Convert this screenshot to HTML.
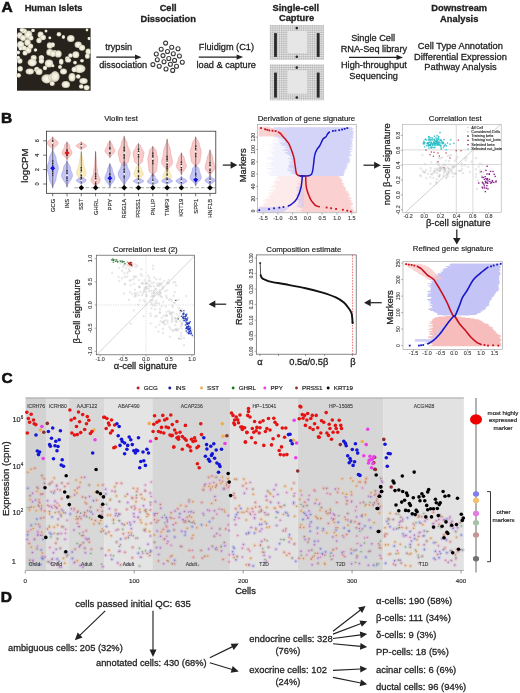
<!DOCTYPE html>
<html><head><meta charset="utf-8"><title>Figure</title>
<style>
html,body{margin:0;padding:0;background:#fff;}
body{width:520px;height:693px;overflow:hidden;}
svg{display:block;}
svg text{font-family:'Liberation Sans', 'DejaVu Sans', sans-serif;}
</style></head><body>
<svg width="520" height="693" viewBox="0 0 520 693">
<rect width="520" height="693" fill="#fff"/>
<text x="1.4" y="12.4" font-size="15.5" text-anchor="start" font-weight="bold" fill="#111" stroke="#111" stroke-width="0.6">A</text>
<text x="53.6" y="10.6" font-size="9.3" text-anchor="middle" font-weight="bold" fill="#222" stroke="#222" stroke-width="0.3">Human Islets</text>
<text x="168.2" y="10.6" font-size="9.3" text-anchor="middle" font-weight="bold" fill="#222" stroke="#222" stroke-width="0.3">Cell</text>
<text x="168.2" y="21.7" font-size="9.3" text-anchor="middle" font-weight="bold" fill="#222" stroke="#222" stroke-width="0.3">Dissociation</text>
<text x="295.8" y="10.8" font-size="9.3" text-anchor="middle" font-weight="bold" fill="#222" stroke="#222" stroke-width="0.3">Single-cell</text>
<text x="296.5" y="21" font-size="9.3" text-anchor="middle" font-weight="bold" fill="#222" stroke="#222" stroke-width="0.3">Capture</text>
<text x="459.2" y="10.6" font-size="9.3" text-anchor="middle" font-weight="bold" fill="#222" stroke="#222" stroke-width="0.3">Downstream</text>
<text x="459.2" y="21.8" font-size="9.3" text-anchor="middle" font-weight="bold" fill="#222" stroke="#222" stroke-width="0.3">Analysis</text>
<g>
<rect x="17" y="28.2" width="73.6" height="62.5" fill="#27221b"/>
<defs><radialGradient id="bg1"><stop offset="0" stop-color="#fbfaf0"/><stop offset="0.65" stop-color="#ebe8d6"/><stop offset="1" stop-color="#c4c0ac"/></radialGradient><filter id="bl1" x="-10%" y="-10%" width="120%" height="120%"><feGaussianBlur stdDeviation="0.65"/></filter></defs>
<g fill="url(#bg1)" filter="url(#bl1)">
<ellipse cx="19.8" cy="35.5" rx="2.8" ry="3.2"/>
<ellipse cx="28.3" cy="34.7" rx="4" ry="4.2"/>
<ellipse cx="24" cy="31" rx="3" ry="2.5"/>
<ellipse cx="20.6" cy="44.7" rx="3.6" ry="3.8"/>
<ellipse cx="27.5" cy="42.4" rx="3.2" ry="3.4"/>
<ellipse cx="28.3" cy="50" rx="3.2" ry="3.4"/>
<ellipse cx="30.6" cy="46.2" rx="2.6" ry="2.6"/>
<ellipse cx="24" cy="48" rx="2.5" ry="2.5"/>
<ellipse cx="40.6" cy="34.7" rx="3" ry="3.2"/>
<ellipse cx="43" cy="37.5" rx="3" ry="2.8"/>
<ellipse cx="39" cy="40.5" rx="2.7" ry="2.7"/>
<ellipse cx="49.8" cy="37.8" rx="1.5" ry="1.5"/>
<ellipse cx="49.8" cy="45.5" rx="3" ry="3.2"/>
<ellipse cx="49.8" cy="52.4" rx="3.5" ry="3.3"/>
<ellipse cx="54.5" cy="52.4" rx="2.5" ry="2.5"/>
<ellipse cx="33.7" cy="57.8" rx="3" ry="2.8"/>
<ellipse cx="41.4" cy="57.8" rx="2.7" ry="2.7"/>
<ellipse cx="18.3" cy="52.4" rx="1.8" ry="2"/>
<ellipse cx="20.6" cy="48.5" rx="2" ry="2"/>
<ellipse cx="18.3" cy="57.8" rx="1.8" ry="2"/>
<ellipse cx="58.9" cy="34.3" rx="2.3" ry="2.3"/>
<ellipse cx="63.4" cy="37" rx="1.7" ry="1.9"/>
<ellipse cx="70.8" cy="38.5" rx="3.8" ry="3.5"/>
<ellipse cx="78.2" cy="44.7" rx="3.6" ry="3.2"/>
<ellipse cx="82" cy="47.8" rx="3.2" ry="3"/>
<ellipse cx="88.2" cy="51.6" rx="2.7" ry="3.2"/>
<ellipse cx="89" cy="38.5" rx="1.5" ry="1.7"/>
<ellipse cx="87" cy="30" rx="1.4" ry="1.4"/>
<ellipse cx="58.2" cy="53.9" rx="3.5" ry="3.6"/>
<ellipse cx="52.8" cy="53.9" rx="3" ry="3"/>
<ellipse cx="52.8" cy="44.7" rx="2.2" ry="2.5"/>
<ellipse cx="75.8" cy="54.7" rx="3.5" ry="3.4"/>
<ellipse cx="70.5" cy="55.5" rx="2.3" ry="2.3"/>
<ellipse cx="67.4" cy="58.5" rx="2.4" ry="2.2"/>
<ellipse cx="87.4" cy="56.2" rx="2.4" ry="2.6"/>
<ellipse cx="19.8" cy="61" rx="2.7" ry="2.7"/>
<ellipse cx="20.2" cy="68.8" rx="2.7" ry="2.8"/>
<ellipse cx="18.7" cy="75.3" rx="2.3" ry="2.4"/>
<ellipse cx="32.2" cy="62.6" rx="4.6" ry="3.9"/>
<ellipse cx="29.8" cy="71.5" rx="4.2" ry="3"/>
<ellipse cx="36.8" cy="69.5" rx="2.7" ry="2.7"/>
<ellipse cx="39" cy="71.8" rx="3.5" ry="3.2"/>
<ellipse cx="41.4" cy="61" rx="2.7" ry="2.7"/>
<ellipse cx="49" cy="63.4" rx="4.2" ry="4"/>
<ellipse cx="46.8" cy="78.8" rx="5.4" ry="4.6"/>
<ellipse cx="52.2" cy="77.2" rx="3.8" ry="3.8"/>
<ellipse cx="52.2" cy="83.4" rx="2.5" ry="2.5"/>
<ellipse cx="61.2" cy="61.8" rx="2.3" ry="3"/>
<ellipse cx="68.2" cy="60.3" rx="3" ry="2.3"/>
<ellipse cx="75" cy="62.6" rx="1.9" ry="1.9"/>
<ellipse cx="82" cy="60.7" rx="2" ry="1.8"/>
<ellipse cx="63.5" cy="71.5" rx="3.5" ry="3"/>
<ellipse cx="79.7" cy="68.8" rx="5.8" ry="4.2"/>
<ellipse cx="74.3" cy="69.5" rx="2.7" ry="2.7"/>
<ellipse cx="55" cy="76.5" rx="4.6" ry="5.4"/>
<ellipse cx="72" cy="77.2" rx="3.5" ry="4.2"/>
<ellipse cx="78.2" cy="76.5" rx="2.3" ry="2.3"/>
<ellipse cx="83.5" cy="81" rx="4.2" ry="3"/>
<ellipse cx="65.8" cy="84.5" rx="4.2" ry="3.5"/>
<ellipse cx="86.6" cy="87.6" rx="3" ry="2.7"/>
<ellipse cx="81.2" cy="86.5" rx="2.3" ry="2.3"/>
<ellipse cx="52.8" cy="65.7" rx="1.6" ry="1.6"/>
<ellipse cx="33" cy="30.5" rx="2" ry="1.8"/>
<ellipse cx="46" cy="31" rx="1.5" ry="1.5"/>
<ellipse cx="35.5" cy="50" rx="1.8" ry="1.8"/>
<ellipse cx="23" cy="38" rx="3" ry="3"/>
<ellipse cx="25" cy="53" rx="2.5" ry="2.5"/>
<ellipse cx="31" cy="38" rx="2.5" ry="2.5"/>
<ellipse cx="22" cy="30" rx="2.5" ry="2"/>
<ellipse cx="45" cy="68" rx="2.2" ry="2.2"/>
<ellipse cx="60" cy="67" rx="2" ry="2"/>
</g>
</g>
<text x="118.7" y="50.2" font-size="9.2" text-anchor="middle" fill="#222" stroke="#222" stroke-width="0.28">trypsin</text>
<line x1="96.3" y1="57.2" x2="135.5" y2="57.2" stroke="#222" stroke-width="1.3"/>
<polygon points="141.5,57.2 135,59.8 135,54.6" fill="#222"/>
<text x="123.2" y="68" font-size="9.2" text-anchor="middle" fill="#222" stroke="#222" stroke-width="0.28">dissociation</text>
<g fill="#fff" stroke="#3a3a3a" stroke-width="1.1">
<circle cx="165.6" cy="43.1" r="2.0"/>
<circle cx="161.2" cy="49.2" r="2.0"/>
<circle cx="171.7" cy="47.3" r="2.0"/>
<circle cx="178" cy="48.8" r="2.0"/>
<circle cx="156.3" cy="54" r="2.0"/>
<circle cx="167.5" cy="51.5" r="2.0"/>
<circle cx="163" cy="55.6" r="2.0"/>
<circle cx="173.3" cy="53.7" r="2.0"/>
<circle cx="179.4" cy="56" r="2.0"/>
<circle cx="157.3" cy="59.8" r="2.0"/>
<circle cx="168.8" cy="58.5" r="2.0"/>
<circle cx="164" cy="61.7" r="2.0"/>
<circle cx="174.6" cy="60.4" r="2.0"/>
<circle cx="182.3" cy="62.3" r="2.0"/>
<circle cx="152.9" cy="64.6" r="2.0"/>
<circle cx="159.2" cy="66.2" r="2.0"/>
<circle cx="170.4" cy="64.2" r="2.0"/>
<circle cx="176.5" cy="66.2" r="2.0"/>
<circle cx="166" cy="69" r="2.0"/>
<circle cx="172.7" cy="70.4" r="2.0"/>
</g>
<text x="226.4" y="49.8" font-size="9.2" text-anchor="middle" fill="#222" stroke="#222" stroke-width="0.28">Fluidigm (C1)</text>
<line x1="198.7" y1="57.1" x2="237.1" y2="57.1" stroke="#222" stroke-width="1.3"/>
<polygon points="243.1,57.1 236.6,59.7 236.6,54.5" fill="#222"/>
<text x="226.2" y="67.6" font-size="9.2" text-anchor="middle" fill="#222" stroke="#222" stroke-width="0.28">load &amp; capture</text>
<g>
<rect x="269.8" y="25" width="54.2" height="34.8" fill="#eaeaea"/>
<path d="M270.6 25V59.8M272.8 25V59.8M275 25V59.8M277.2 25V59.8M279.4 25V59.8M281.6 25V59.8M283.8 25V59.8M286 25V59.8M288.2 25V59.8M290.4 25V59.8M292.6 25V59.8M294.8 25V59.8M297 25V59.8M299.2 25V59.8M301.4 25V59.8M303.6 25V59.8M305.8 25V59.8M308 25V59.8M310.2 25V59.8M312.4 25V59.8M314.6 25V59.8M316.8 25V59.8M319 25V59.8M321.2 25V59.8M323.4 25V59.8M269.8 25.8H324M269.8 28H324M269.8 30.2H324M269.8 32.4H324M269.8 34.6H324M269.8 36.8H324M269.8 39H324M269.8 41.2H324M269.8 43.4H324M269.8 45.6H324M269.8 47.8H324M269.8 50H324M269.8 52.2H324M269.8 54.4H324M269.8 56.6H324M269.8 58.8H324" stroke="#a0a0a0" stroke-width="0.45" fill="none"/>
<rect x="287.5" y="30.9" width="19.5" height="22.1" fill="#e6e6e6"/>
<rect x="274.1" y="33.1" width="2.8" height="23.8" fill="#2a2a2a"/>
<rect x="316.8" y="33.1" width="2.8" height="23.8" fill="#2a2a2a"/>
<circle cx="296.8" cy="28.1" r="1.3" fill="#222"/>
<circle cx="296.8" cy="56.8" r="1.3" fill="#222"/>
</g>
<g>
<rect x="269.8" y="64.5" width="54.2" height="36" fill="#eaeaea"/>
<path d="M270.6 64.5V100.5M272.8 64.5V100.5M275 64.5V100.5M277.2 64.5V100.5M279.4 64.5V100.5M281.6 64.5V100.5M283.8 64.5V100.5M286 64.5V100.5M288.2 64.5V100.5M290.4 64.5V100.5M292.6 64.5V100.5M294.8 64.5V100.5M297 64.5V100.5M299.2 64.5V100.5M301.4 64.5V100.5M303.6 64.5V100.5M305.8 64.5V100.5M308 64.5V100.5M310.2 64.5V100.5M312.4 64.5V100.5M314.6 64.5V100.5M316.8 64.5V100.5M319 64.5V100.5M321.2 64.5V100.5M323.4 64.5V100.5M269.8 65.3H324M269.8 67.5H324M269.8 69.7H324M269.8 71.9H324M269.8 74.1H324M269.8 76.3H324M269.8 78.5H324M269.8 80.7H324M269.8 82.9H324M269.8 85.1H324M269.8 87.3H324M269.8 89.5H324M269.8 91.7H324M269.8 93.9H324M269.8 96.1H324M269.8 98.3H324" stroke="#a0a0a0" stroke-width="0.45" fill="none"/>
<rect x="287.5" y="70.4" width="19.5" height="23.3" fill="#e6e6e6"/>
<rect x="274.1" y="72.6" width="2.8" height="25" fill="#2a2a2a"/>
<rect x="316.8" y="72.6" width="2.8" height="25" fill="#2a2a2a"/>
<circle cx="296.8" cy="67.6" r="1.3" fill="#222"/>
<circle cx="296.8" cy="97.5" r="1.3" fill="#222"/>
</g>
<text x="373.1" y="41" font-size="9.2" text-anchor="middle" fill="#222" stroke="#222" stroke-width="0.28">Single Cell</text>
<text x="373.9" y="52.2" font-size="9.2" text-anchor="middle" fill="#222" stroke="#222" stroke-width="0.28">RNA-Seq library</text>
<line x1="349" y1="57.4" x2="397" y2="57.4" stroke="#222" stroke-width="1.3"/>
<polygon points="403,57.4 396.5,60 396.5,54.8" fill="#222"/>
<text x="373.9" y="68" font-size="9.2" text-anchor="middle" fill="#222" stroke="#222" stroke-width="0.28">High-throughput</text>
<text x="373.6" y="79" font-size="9.2" text-anchor="middle" fill="#222" stroke="#222" stroke-width="0.28">Sequencing</text>
<text x="460.4" y="48.7" font-size="9.3" text-anchor="middle" fill="#222" stroke="#222" stroke-width="0.28">Cell Type Annotation</text>
<text x="460.4" y="59.9" font-size="9.3" text-anchor="middle" fill="#222" stroke="#222" stroke-width="0.28">Differential Expression</text>
<text x="460.5" y="70.4" font-size="9.3" text-anchor="middle" fill="#222" stroke="#222" stroke-width="0.28">Pathway Analysis</text>
<text x="1" y="123.3" font-size="15.5" text-anchor="start" font-weight="bold" fill="#111" stroke="#111" stroke-width="0.6">B</text>
<text x="121.1" y="121" font-size="7.8" text-anchor="middle" fill="#222" stroke="#222" stroke-width="0.18">Violin test</text>
<line x1="74.5" y1="187.74" x2="215.8" y2="187.74" stroke="#a8a8a0" stroke-width="1" stroke-dasharray="3.5,2"/>
<polygon points="52.7,188.32 52.76,187.48 52.93,186.64 53.21,185.8 53.58,184.96 54,184.12 54.45,183.28 54.9,182.44 55.33,181.6 55.69,180.76 55.97,179.92 56.14,179.08 56.2,178.24 56.24,177.4 56.34,176.56 56.51,175.72 56.73,174.88 56.98,174.04 57.25,173.2 57.52,172.36 57.78,171.52 57.99,170.68 58.16,169.84 58.26,169 58.3,168.16 58.26,167.38 58.16,166.6 57.99,165.82 57.78,165.04 57.52,164.26 57.25,163.48 56.98,162.7 56.73,161.92 56.51,161.14 56.34,160.36 56.24,159.58 56.2,158.8 56.14,157.96 55.97,157.12 55.69,156.28 55.33,155.44 54.9,154.6 54.45,153.76 54,152.92 53.58,152.08 53.21,151.24 52.93,150.4 52.76,149.56 52.7,148.72 52.7,148.72 52.64,149.56 52.47,150.4 52.19,151.24 51.83,152.08 51.4,152.92 50.95,153.76 50.5,154.6 50.08,155.44 49.71,156.28 49.43,157.12 49.26,157.96 49.2,158.8 49.16,159.58 49.06,160.36 48.89,161.14 48.68,161.92 48.42,162.7 48.15,163.48 47.88,164.26 47.62,165.04 47.41,165.82 47.24,166.6 47.14,167.38 47.1,168.16 47.14,169 47.24,169.84 47.41,170.68 47.62,171.52 47.88,172.36 48.15,173.2 48.42,174.04 48.68,174.88 48.89,175.72 49.06,176.56 49.16,177.4 49.2,178.24 49.26,179.08 49.43,179.92 49.71,180.76 50.08,181.6 50.5,182.44 50.95,183.28 51.4,184.12 51.83,184.96 52.19,185.8 52.47,186.64 52.64,187.48 52.7,188.32" fill="rgba(160,160,240,0.62)" stroke="rgba(90,90,210,0.55)" stroke-width="0.5"/>
<polygon points="52.7,150.16 52.79,149.56 53.07,148.96 53.51,148.36 54.08,147.76 54.74,147.16 55.45,146.56 56.16,145.96 56.83,145.36 57.39,144.76 57.83,144.16 58.11,143.56 58.2,142.96 58.11,142.42 57.83,141.88 57.39,141.34 56.83,140.8 56.16,140.26 55.45,139.72 54.74,139.18 54.08,138.64 53.51,138.1 53.07,137.56 52.79,137.02 52.7,136.48 52.7,136.48 52.61,137.02 52.33,137.56 51.89,138.1 51.33,138.64 50.66,139.18 49.95,139.72 49.24,140.26 48.58,140.8 48.01,141.34 47.57,141.88 47.29,142.42 47.2,142.96 47.29,143.56 47.57,144.16 48.01,144.76 48.58,145.36 49.24,145.96 49.95,146.56 50.66,147.16 51.33,147.76 51.89,148.36 52.33,148.96 52.61,149.56 52.7,150.16" fill="rgba(244,170,170,0.62)" stroke="rgba(215,95,95,0.55)" stroke-width="0.5"/>
<line x1="52.7" y1="149.44" x2="52.7" y2="187.6" stroke="#333" stroke-width="0.6"/>
<line x1="52.7" y1="160.24" x2="52.7" y2="176.08" stroke="#2a2a2a" stroke-width="1.4" stroke-dasharray="1.6,0.9"/>
<circle cx="52.7" cy="168.16" r="1" fill="#fff"/>
<line x1="52.7" y1="137.2" x2="52.7" y2="149.44" stroke="#333" stroke-width="0.6"/>
<line x1="52.7" y1="140.22" x2="52.7" y2="145.7" stroke="#2a2a2a" stroke-width="1.4" stroke-dasharray="1.6,0.9"/>
<circle cx="52.7" cy="142.96" r="1" fill="#fff"/>
<polygon points="67,187.6 67.09,186.58 67.37,185.56 67.81,184.54 68.38,183.52 69.04,182.5 69.75,181.48 70.46,180.46 71.12,179.44 71.69,178.42 72.13,177.4 72.41,176.38 72.5,175.36 72.47,174.76 72.37,174.16 72.21,173.56 72,172.96 71.76,172.36 71.5,171.76 71.24,171.16 71,170.56 70.79,169.96 70.63,169.36 70.53,168.76 70.5,168.16 70.44,167.5 70.27,166.84 69.99,166.18 69.62,165.52 69.2,164.86 68.75,164.2 68.3,163.54 67.88,162.88 67.51,162.22 67.23,161.56 67.06,160.9 67,160.24 67,160.24 66.94,160.9 66.77,161.56 66.49,162.22 66.12,162.88 65.7,163.54 65.25,164.2 64.8,164.86 64.38,165.52 64.01,166.18 63.73,166.84 63.56,167.5 63.5,168.16 63.47,168.76 63.37,169.36 63.21,169.96 63,170.56 62.76,171.16 62.5,171.76 62.24,172.36 62,172.96 61.79,173.56 61.63,174.16 61.53,174.76 61.5,175.36 61.59,176.38 61.87,177.4 62.31,178.42 62.88,179.44 63.54,180.46 64.25,181.48 64.96,182.5 65.62,183.52 66.19,184.54 66.63,185.56 66.91,186.58 67,187.6" fill="rgba(160,160,240,0.62)" stroke="rgba(90,90,210,0.55)" stroke-width="0.5"/>
<polygon points="67,160.24 67.09,159.64 67.33,159.04 67.73,158.44 68.25,157.84 68.85,157.24 69.5,156.64 70.15,156.04 70.75,155.44 71.27,154.84 71.67,154.24 71.91,153.64 72,153.04 71.96,152.44 71.83,151.84 71.63,151.24 71.38,150.64 71.07,150.04 70.75,149.44 70.43,148.84 70.12,148.24 69.87,147.64 69.67,147.04 69.54,146.44 69.5,145.84 69.46,145.48 69.33,145.12 69.13,144.76 68.88,144.4 68.57,144.04 68.25,143.68 67.93,143.32 67.62,142.96 67.37,142.6 67.17,142.24 67.04,141.88 67,141.52 67,141.52 66.96,141.88 66.83,142.24 66.63,142.6 66.38,142.96 66.07,143.32 65.75,143.68 65.43,144.04 65.12,144.4 64.87,144.76 64.67,145.12 64.54,145.48 64.5,145.84 64.46,146.44 64.33,147.04 64.13,147.64 63.88,148.24 63.57,148.84 63.25,149.44 62.93,150.04 62.62,150.64 62.37,151.24 62.17,151.84 62.04,152.44 62,153.04 62.09,153.64 62.33,154.24 62.73,154.84 63.25,155.44 63.85,156.04 64.5,156.64 65.15,157.24 65.75,157.84 66.27,158.44 66.67,159.04 66.91,159.64 67,160.24" fill="rgba(244,170,170,0.62)" stroke="rgba(215,95,95,0.55)" stroke-width="0.5"/>
<line x1="67" y1="160.96" x2="67" y2="186.88" stroke="#333" stroke-width="0.6"/>
<line x1="67" y1="169.89" x2="67" y2="180.83" stroke="#2a2a2a" stroke-width="1.4" stroke-dasharray="1.6,0.9"/>
<circle cx="67" cy="175.36" r="1" fill="#fff"/>
<line x1="67" y1="142.24" x2="67" y2="159.52" stroke="#333" stroke-width="0.6"/>
<line x1="67" y1="149.3" x2="67" y2="156.78" stroke="#2a2a2a" stroke-width="1.4" stroke-dasharray="1.6,0.9"/>
<circle cx="67" cy="153.04" r="1" fill="#fff"/>
<polygon points="81.3,181.84 81.38,181.12 81.62,180.4 82,179.68 82.5,178.96 83.08,178.24 83.7,177.52 84.32,176.8 84.9,176.08 85.4,175.36 85.78,174.64 86.02,173.92 86.1,173.2 86.05,172.3 85.91,171.4 85.69,170.5 85.4,169.6 85.06,168.7 84.7,167.8 84.34,166.9 84,166 83.71,165.1 83.49,164.2 83.35,163.3 83.3,162.4 83.27,161.44 83.17,160.48 83.01,159.52 82.8,158.56 82.56,157.6 82.3,156.64 82.04,155.68 81.8,154.72 81.59,153.76 81.43,152.8 81.33,151.84 81.3,150.88 81.3,150.88 81.27,151.84 81.17,152.8 81.01,153.76 80.8,154.72 80.56,155.68 80.3,156.64 80.04,157.6 79.8,158.56 79.59,159.52 79.43,160.48 79.33,161.44 79.3,162.4 79.25,163.3 79.11,164.2 78.89,165.1 78.6,166 78.26,166.9 77.9,167.8 77.54,168.7 77.2,169.6 76.91,170.5 76.69,171.4 76.55,172.3 76.5,173.2 76.58,173.92 76.82,174.64 77.2,175.36 77.7,176.08 78.28,176.8 78.9,177.52 79.52,178.24 80.1,178.96 80.6,179.68 80.98,180.4 81.22,181.12 81.3,181.84" fill="rgba(248,228,165,0.75)" stroke="rgba(225,195,110,0.6)" stroke-width="0.5"/>
<polygon points="81.3,184.72 81.39,184.36 81.63,184 82.03,183.64 82.55,183.28 83.15,182.92 83.8,182.56 84.45,182.2 85.05,181.84 85.57,181.48 85.97,181.12 86.21,180.76 86.3,180.4 86.21,180.04 85.97,179.68 85.57,179.32 85.05,178.96 84.45,178.6 83.8,178.24 83.15,177.88 82.55,177.52 82.03,177.16 81.63,176.8 81.39,176.44 81.3,176.08 81.3,176.08 81.21,176.44 80.97,176.8 80.57,177.16 80.05,177.52 79.45,177.88 78.8,178.24 78.15,178.6 77.55,178.96 77.03,179.32 76.63,179.68 76.39,180.04 76.3,180.4 76.39,180.76 76.63,181.12 77.03,181.48 77.55,181.84 78.15,182.2 78.8,182.56 79.45,182.92 80.05,183.28 80.57,183.64 80.97,184 81.21,184.36 81.3,184.72" fill="rgba(160,160,240,0.62)" stroke="rgba(90,90,210,0.55)" stroke-width="0.5"/>
<polygon points="81.3,150.16 81.39,149.8 81.65,149.44 82.06,149.08 82.6,148.72 83.23,148.36 83.9,148 84.57,147.64 85.2,147.28 85.74,146.92 86.15,146.56 86.41,146.2 86.5,145.84 86.41,145.48 86.15,145.12 85.74,144.76 85.2,144.4 84.57,144.04 83.9,143.68 83.23,143.32 82.6,142.96 82.06,142.6 81.65,142.24 81.39,141.88 81.3,141.52 81.3,141.52 81.21,141.88 80.95,142.24 80.54,142.6 80,142.96 79.37,143.32 78.7,143.68 78.03,144.04 77.4,144.4 76.86,144.76 76.45,145.12 76.19,145.48 76.1,145.84 76.19,146.2 76.45,146.56 76.86,146.92 77.4,147.28 78.03,147.64 78.7,148 79.37,148.36 80,148.72 80.54,149.08 80.95,149.44 81.21,149.8 81.3,150.16" fill="rgba(244,170,170,0.62)" stroke="rgba(215,95,95,0.55)" stroke-width="0.5"/>
<line x1="81.3" y1="151.6" x2="81.3" y2="181.12" stroke="#333" stroke-width="0.6"/>
<line x1="81.3" y1="167.01" x2="81.3" y2="179.39" stroke="#2a2a2a" stroke-width="1.4" stroke-dasharray="1.6,0.9"/>
<circle cx="81.3" cy="173.2" r="1" fill="#fff"/>
<line x1="81.3" y1="176.8" x2="81.3" y2="184" stroke="#333" stroke-width="0.6"/>
<line x1="81.3" y1="178.67" x2="81.3" y2="182.13" stroke="#2a2a2a" stroke-width="1.4" stroke-dasharray="1.6,0.9"/>
<circle cx="81.3" cy="180.4" r="1" fill="#fff"/>
<line x1="81.3" y1="142.24" x2="81.3" y2="149.44" stroke="#333" stroke-width="0.6"/>
<line x1="81.3" y1="144.11" x2="81.3" y2="147.57" stroke="#2a2a2a" stroke-width="1.4" stroke-dasharray="1.6,0.9"/>
<circle cx="81.3" cy="145.84" r="1" fill="#fff"/>
<polygon points="95.6,187.6 95.68,187 95.91,186.4 96.27,185.8 96.75,185.2 97.3,184.6 97.9,184 98.5,183.4 99.05,182.8 99.53,182.2 99.89,181.6 100.12,181 100.2,180.4 100.16,179.74 100.03,179.08 99.82,178.42 99.55,177.76 99.24,177.1 98.9,176.44 98.56,175.78 98.25,175.12 97.98,174.46 97.77,173.8 97.64,173.14 97.6,172.48 97.58,171.64 97.52,170.8 97.42,169.96 97.3,169.12 97.16,168.28 97,167.44 96.84,166.6 96.7,165.76 96.58,164.92 96.48,164.08 96.42,163.24 96.4,162.4 96.39,161.44 96.35,160.48 96.28,159.52 96.2,158.56 96.1,157.6 96,156.64 95.9,155.68 95.8,154.72 95.72,153.76 95.65,152.8 95.61,151.84 95.6,150.88 95.6,150.88 95.59,151.84 95.55,152.8 95.48,153.76 95.4,154.72 95.3,155.68 95.2,156.64 95.1,157.6 95,158.56 94.92,159.52 94.85,160.48 94.81,161.44 94.8,162.4 94.78,163.24 94.72,164.08 94.62,164.92 94.5,165.76 94.36,166.6 94.2,167.44 94.04,168.28 93.9,169.12 93.78,169.96 93.68,170.8 93.62,171.64 93.6,172.48 93.56,173.14 93.43,173.8 93.22,174.46 92.95,175.12 92.64,175.78 92.3,176.44 91.96,177.1 91.65,177.76 91.38,178.42 91.17,179.08 91.04,179.74 91,180.4 91.08,181 91.31,181.6 91.67,182.2 92.15,182.8 92.7,183.4 93.3,184 93.9,184.6 94.45,185.2 94.93,185.8 95.29,186.4 95.52,187 95.6,187.6" fill="rgba(244,170,170,0.62)" stroke="rgba(215,95,95,0.55)" stroke-width="0.5"/>
<line x1="95.6" y1="151.6" x2="95.6" y2="186.88" stroke="#333" stroke-width="0.6"/>
<line x1="95.6" y1="173.06" x2="95.6" y2="187.74" stroke="#2a2a2a" stroke-width="1.4" stroke-dasharray="1.6,0.9"/>
<circle cx="95.6" cy="180.4" r="1" fill="#fff"/>
<polygon points="109.9,187.6 109.99,186.82 110.23,186.04 110.63,185.26 111.15,184.48 111.75,183.7 112.4,182.92 113.05,182.14 113.65,181.36 114.17,180.58 114.57,179.8 114.81,179.02 114.9,178.24 114.86,177.52 114.73,176.8 114.53,176.08 114.28,175.36 113.97,174.64 113.65,173.92 113.33,173.2 113.03,172.48 112.77,171.76 112.57,171.04 112.44,170.32 112.4,169.6 112.36,169.06 112.23,168.52 112.03,167.98 111.78,167.44 111.47,166.9 111.15,166.36 110.83,165.82 110.53,165.28 110.27,164.74 110.07,164.2 109.94,163.66 109.9,163.12 109.9,163.12 109.86,163.66 109.73,164.2 109.53,164.74 109.28,165.28 108.97,165.82 108.65,166.36 108.33,166.9 108.03,167.44 107.77,167.98 107.57,168.52 107.44,169.06 107.4,169.6 107.36,170.32 107.23,171.04 107.03,171.76 106.78,172.48 106.47,173.2 106.15,173.92 105.83,174.64 105.53,175.36 105.27,176.08 105.07,176.8 104.94,177.52 104.9,178.24 104.99,179.02 105.23,179.8 105.63,180.58 106.15,181.36 106.75,182.14 107.4,182.92 108.05,183.7 108.65,184.48 109.17,185.26 109.57,186.04 109.81,186.82 109.9,187.6" fill="rgba(160,160,240,0.62)" stroke="rgba(90,90,210,0.55)" stroke-width="0.5"/>
<polygon points="109.9,158.08 109.99,157.48 110.23,156.88 110.63,156.28 111.15,155.68 111.75,155.08 112.4,154.48 113.05,153.88 113.65,153.28 114.17,152.68 114.57,152.08 114.81,151.48 114.9,150.88 114.86,150.4 114.73,149.92 114.53,149.44 114.28,148.96 113.97,148.48 113.65,148 113.33,147.52 113.03,147.04 112.77,146.56 112.57,146.08 112.44,145.6 112.4,145.12 112.36,144.7 112.23,144.28 112.03,143.86 111.78,143.44 111.47,143.02 111.15,142.6 110.83,142.18 110.53,141.76 110.27,141.34 110.07,140.92 109.94,140.5 109.9,140.08 109.9,140.08 109.86,140.5 109.73,140.92 109.53,141.34 109.28,141.76 108.97,142.18 108.65,142.6 108.33,143.02 108.03,143.44 107.77,143.86 107.57,144.28 107.44,144.7 107.4,145.12 107.36,145.6 107.23,146.08 107.03,146.56 106.78,147.04 106.47,147.52 106.15,148 105.83,148.48 105.53,148.96 105.27,149.44 105.07,149.92 104.94,150.4 104.9,150.88 104.99,151.48 105.23,152.08 105.63,152.68 106.15,153.28 106.75,153.88 107.4,154.48 108.05,155.08 108.65,155.68 109.17,156.28 109.57,156.88 109.81,157.48 109.9,158.08" fill="rgba(244,170,170,0.62)" stroke="rgba(215,95,95,0.55)" stroke-width="0.5"/>
<line x1="109.9" y1="163.84" x2="109.9" y2="186.88" stroke="#333" stroke-width="0.6"/>
<line x1="109.9" y1="173.34" x2="109.9" y2="183.14" stroke="#2a2a2a" stroke-width="1.4" stroke-dasharray="1.6,0.9"/>
<circle cx="109.9" cy="178.24" r="1" fill="#fff"/>
<line x1="109.9" y1="140.8" x2="109.9" y2="157.36" stroke="#333" stroke-width="0.6"/>
<line x1="109.9" y1="147.28" x2="109.9" y2="154.48" stroke="#2a2a2a" stroke-width="1.4" stroke-dasharray="1.6,0.9"/>
<circle cx="109.9" cy="150.88" r="1" fill="#fff"/>
<polygon points="124.2,186.88 124.3,185.8 124.6,184.72 125.08,183.64 125.7,182.56 126.42,181.48 127.2,180.4 127.98,179.32 128.7,178.24 129.32,177.16 129.8,176.08 130.1,175 130.2,173.92 130.15,173.2 130,172.48 129.76,171.76 129.45,171.04 129.09,170.32 128.7,169.6 128.31,168.88 127.95,168.16 127.64,167.44 127.4,166.72 127.25,166 127.2,165.28 127.15,164.92 127,164.56 126.76,164.2 126.45,163.84 126.09,163.48 125.7,163.12 125.31,162.76 124.95,162.4 124.64,162.04 124.4,161.68 124.25,161.32 124.2,160.96 124.2,160.96 124.15,161.32 124,161.68 123.76,162.04 123.45,162.4 123.09,162.76 122.7,163.12 122.31,163.48 121.95,163.84 121.64,164.2 121.4,164.56 121.25,164.92 121.2,165.28 121.15,166 121,166.72 120.76,167.44 120.45,168.16 120.09,168.88 119.7,169.6 119.31,170.32 118.95,171.04 118.64,171.76 118.4,172.48 118.25,173.2 118.2,173.92 118.3,175 118.6,176.08 119.08,177.16 119.7,178.24 120.42,179.32 121.2,180.4 121.98,181.48 122.7,182.56 123.32,183.64 123.8,184.72 124.1,185.8 124.2,186.88" fill="rgba(160,160,240,0.62)" stroke="rgba(90,90,210,0.55)" stroke-width="0.5"/>
<polygon points="124.2,166.72 124.28,166.24 124.5,165.76 124.86,165.28 125.33,164.8 125.87,164.32 126.45,163.84 127.03,163.36 127.58,162.88 128.04,162.4 128.4,161.92 128.62,161.44 128.7,160.96 128.73,160.3 128.8,159.64 128.92,158.98 129.07,158.32 129.26,157.66 129.45,157 129.64,156.34 129.82,155.68 129.98,155.02 130.1,154.36 130.17,153.7 130.2,153.04 130.15,152.26 130,151.48 129.76,150.7 129.45,149.92 129.09,149.14 128.7,148.36 128.31,147.58 127.95,146.8 127.64,146.02 127.4,145.24 127.25,144.46 127.2,143.68 127.15,143.02 127,142.36 126.76,141.7 126.45,141.04 126.09,140.38 125.7,139.72 125.31,139.06 124.95,138.4 124.64,137.74 124.4,137.08 124.25,136.42 124.2,135.76 124.2,135.76 124.15,136.42 124,137.08 123.76,137.74 123.45,138.4 123.09,139.06 122.7,139.72 122.31,140.38 121.95,141.04 121.64,141.7 121.4,142.36 121.25,143.02 121.2,143.68 121.15,144.46 121,145.24 120.76,146.02 120.45,146.8 120.09,147.58 119.7,148.36 119.31,149.14 118.95,149.92 118.64,150.7 118.4,151.48 118.25,152.26 118.2,153.04 118.23,153.7 118.3,154.36 118.42,155.02 118.58,155.68 118.76,156.34 118.95,157 119.14,157.66 119.33,158.32 119.48,158.98 119.6,159.64 119.67,160.3 119.7,160.96 119.78,161.44 120,161.92 120.36,162.4 120.83,162.88 121.37,163.36 121.95,163.84 122.53,164.32 123.08,164.8 123.54,165.28 123.9,165.76 124.12,166.24 124.2,166.72" fill="rgba(244,170,170,0.62)" stroke="rgba(215,95,95,0.55)" stroke-width="0.5"/>
<line x1="124.2" y1="161.68" x2="124.2" y2="186.16" stroke="#333" stroke-width="0.6"/>
<line x1="124.2" y1="168.74" x2="124.2" y2="179.1" stroke="#2a2a2a" stroke-width="1.4" stroke-dasharray="1.6,0.9"/>
<circle cx="124.2" cy="173.92" r="1" fill="#fff"/>
<line x1="124.2" y1="136.48" x2="124.2" y2="166" stroke="#333" stroke-width="0.6"/>
<line x1="124.2" y1="146.85" x2="124.2" y2="159.23" stroke="#2a2a2a" stroke-width="1.4" stroke-dasharray="1.6,0.9"/>
<circle cx="124.2" cy="153.04" r="1" fill="#fff"/>
<polygon points="138.5,181.84 138.58,181.18 138.82,180.52 139.2,179.86 139.7,179.2 140.28,178.54 140.9,177.88 141.52,177.22 142.1,176.56 142.6,175.9 142.98,175.24 143.22,174.58 143.3,173.92 143.26,173.38 143.15,172.84 142.96,172.3 142.72,171.76 142.45,171.22 142.15,170.68 141.85,170.14 141.57,169.6 141.34,169.06 141.15,168.52 141.04,167.98 141,167.44 140.96,167.14 140.83,166.84 140.63,166.54 140.38,166.24 140.07,165.94 139.75,165.64 139.43,165.34 139.12,165.04 138.87,164.74 138.67,164.44 138.54,164.14 138.5,163.84 138.5,163.84 138.46,164.14 138.33,164.44 138.13,164.74 137.88,165.04 137.57,165.34 137.25,165.64 136.93,165.94 136.62,166.24 136.37,166.54 136.17,166.84 136.04,167.14 136,167.44 135.96,167.98 135.85,168.52 135.66,169.06 135.43,169.6 135.15,170.14 134.85,170.68 134.55,171.22 134.28,171.76 134.04,172.3 133.85,172.84 133.74,173.38 133.7,173.92 133.78,174.58 134.02,175.24 134.4,175.9 134.9,176.56 135.48,177.22 136.1,177.88 136.72,178.54 137.3,179.2 137.8,179.86 138.18,180.52 138.42,181.18 138.5,181.84" fill="rgba(248,228,165,0.75)" stroke="rgba(225,195,110,0.6)" stroke-width="0.5"/>
<polygon points="138.5,184.72 138.59,184.42 138.85,184.12 139.26,183.82 139.8,183.52 140.43,183.22 141.1,182.92 141.77,182.62 142.4,182.32 142.94,182.02 143.35,181.72 143.61,181.42 143.7,181.12 143.61,180.82 143.35,180.52 142.94,180.22 142.4,179.92 141.77,179.62 141.1,179.32 140.43,179.02 139.8,178.72 139.26,178.42 138.85,178.12 138.59,177.82 138.5,177.52 138.5,177.52 138.41,177.82 138.15,178.12 137.74,178.42 137.2,178.72 136.57,179.02 135.9,179.32 135.23,179.62 134.6,179.92 134.06,180.22 133.65,180.52 133.39,180.82 133.3,181.12 133.39,181.42 133.65,181.72 134.06,182.02 134.6,182.32 135.23,182.62 135.9,182.92 136.57,183.22 137.2,183.52 137.74,183.82 138.15,184.12 138.41,184.42 138.5,184.72" fill="rgba(160,160,240,0.62)" stroke="rgba(90,90,210,0.55)" stroke-width="0.5"/>
<polygon points="138.5,166 138.57,165.58 138.78,165.16 139.12,164.74 139.55,164.32 140.06,163.9 140.6,163.48 141.14,163.06 141.65,162.64 142.08,162.22 142.42,161.8 142.63,161.38 142.7,160.96 142.72,160.3 142.79,159.64 142.89,158.98 143.03,158.32 143.18,157.66 143.35,157 143.52,156.34 143.68,155.68 143.81,155.02 143.91,154.36 143.98,153.7 144,153.04 143.95,152.5 143.8,151.96 143.56,151.42 143.25,150.88 142.89,150.34 142.5,149.8 142.11,149.26 141.75,148.72 141.44,148.18 141.2,147.64 141.05,147.1 141,146.56 140.96,146.26 140.83,145.96 140.63,145.66 140.38,145.36 140.07,145.06 139.75,144.76 139.43,144.46 139.12,144.16 138.87,143.86 138.67,143.56 138.54,143.26 138.5,142.96 138.5,142.96 138.46,143.26 138.33,143.56 138.13,143.86 137.88,144.16 137.57,144.46 137.25,144.76 136.93,145.06 136.62,145.36 136.37,145.66 136.17,145.96 136.04,146.26 136,146.56 135.95,147.1 135.8,147.64 135.56,148.18 135.25,148.72 134.89,149.26 134.5,149.8 134.11,150.34 133.75,150.88 133.44,151.42 133.2,151.96 133.05,152.5 133,153.04 133.02,153.7 133.09,154.36 133.19,155.02 133.32,155.68 133.48,156.34 133.65,157 133.82,157.66 133.97,158.32 134.11,158.98 134.21,159.64 134.28,160.3 134.3,160.96 134.37,161.38 134.58,161.8 134.92,162.22 135.35,162.64 135.86,163.06 136.4,163.48 136.94,163.9 137.45,164.32 137.88,164.74 138.22,165.16 138.43,165.58 138.5,166" fill="rgba(244,170,170,0.62)" stroke="rgba(215,95,95,0.55)" stroke-width="0.5"/>
<line x1="138.5" y1="164.56" x2="138.5" y2="181.12" stroke="#333" stroke-width="0.6"/>
<line x1="138.5" y1="170.32" x2="138.5" y2="177.52" stroke="#2a2a2a" stroke-width="1.4" stroke-dasharray="1.6,0.9"/>
<circle cx="138.5" cy="173.92" r="1" fill="#fff"/>
<line x1="138.5" y1="178.24" x2="138.5" y2="184" stroke="#333" stroke-width="0.6"/>
<line x1="138.5" y1="179.68" x2="138.5" y2="182.56" stroke="#2a2a2a" stroke-width="1.4" stroke-dasharray="1.6,0.9"/>
<circle cx="138.5" cy="181.12" r="1" fill="#fff"/>
<line x1="138.5" y1="143.68" x2="138.5" y2="165.28" stroke="#333" stroke-width="0.6"/>
<line x1="138.5" y1="148.43" x2="138.5" y2="157.65" stroke="#2a2a2a" stroke-width="1.4" stroke-dasharray="1.6,0.9"/>
<circle cx="138.5" cy="153.04" r="1" fill="#fff"/>
<polygon points="152.8,185.44 152.89,185.14 153.17,184.84 153.61,184.54 154.18,184.24 154.84,183.94 155.55,183.64 156.26,183.34 156.93,183.04 157.49,182.74 157.93,182.44 158.21,182.14 158.3,181.84 158.24,181.36 158.07,180.88 157.79,180.4 157.43,179.92 157,179.44 156.55,178.96 156.1,178.48 155.68,178 155.31,177.52 155.03,177.04 154.86,176.56 154.8,176.08 154.77,175.84 154.67,175.6 154.51,175.36 154.3,175.12 154.06,174.88 153.8,174.64 153.54,174.4 153.3,174.16 153.09,173.92 152.93,173.68 152.83,173.44 152.8,173.2 152.8,173.2 152.77,173.44 152.67,173.68 152.51,173.92 152.3,174.16 152.06,174.4 151.8,174.64 151.54,174.88 151.3,175.12 151.09,175.36 150.93,175.6 150.83,175.84 150.8,176.08 150.74,176.56 150.57,177.04 150.29,177.52 149.93,178 149.5,178.48 149.05,178.96 148.6,179.44 148.18,179.92 147.81,180.4 147.53,180.88 147.36,181.36 147.3,181.84 147.39,182.14 147.67,182.44 148.11,182.74 148.68,183.04 149.34,183.34 150.05,183.64 150.76,183.94 151.43,184.24 151.99,184.54 152.43,184.84 152.71,185.14 152.8,185.44" fill="rgba(160,160,240,0.62)" stroke="rgba(90,90,210,0.55)" stroke-width="0.5"/>
<polygon points="152.8,176.8 152.87,176.2 153.07,175.6 153.39,175 153.8,174.4 154.28,173.8 154.8,173.2 155.32,172.6 155.8,172 156.21,171.4 156.53,170.8 156.73,170.2 156.8,169.6 156.82,168.7 156.87,167.8 156.95,166.9 157.05,166 157.17,165.1 157.3,164.2 157.43,163.3 157.55,162.4 157.65,161.5 157.73,160.6 157.78,159.7 157.8,158.8 157.77,158.14 157.7,157.48 157.58,156.82 157.43,156.16 157.24,155.5 157.05,154.84 156.86,154.18 156.68,153.52 156.52,152.86 156.4,152.2 156.33,151.54 156.3,150.88 156.24,150.46 156.07,150.04 155.79,149.62 155.43,149.2 155,148.78 154.55,148.36 154.1,147.94 153.68,147.52 153.31,147.1 153.03,146.68 152.86,146.26 152.8,145.84 152.8,145.84 152.74,146.26 152.57,146.68 152.29,147.1 151.93,147.52 151.5,147.94 151.05,148.36 150.6,148.78 150.18,149.2 149.81,149.62 149.53,150.04 149.36,150.46 149.3,150.88 149.27,151.54 149.2,152.2 149.08,152.86 148.93,153.52 148.74,154.18 148.55,154.84 148.36,155.5 148.18,156.16 148.02,156.82 147.9,157.48 147.83,158.14 147.8,158.8 147.82,159.7 147.87,160.6 147.95,161.5 148.05,162.4 148.17,163.3 148.3,164.2 148.43,165.1 148.55,166 148.65,166.9 148.73,167.8 148.78,168.7 148.8,169.6 148.87,170.2 149.07,170.8 149.39,171.4 149.8,172 150.28,172.6 150.8,173.2 151.32,173.8 151.8,174.4 152.21,175 152.53,175.6 152.73,176.2 152.8,176.8" fill="rgba(244,170,170,0.62)" stroke="rgba(215,95,95,0.55)" stroke-width="0.5"/>
<line x1="152.8" y1="173.92" x2="152.8" y2="184.72" stroke="#333" stroke-width="0.6"/>
<line x1="152.8" y1="179.39" x2="152.8" y2="184.29" stroke="#2a2a2a" stroke-width="1.4" stroke-dasharray="1.6,0.9"/>
<circle cx="152.8" cy="181.84" r="1" fill="#fff"/>
<line x1="152.8" y1="146.56" x2="152.8" y2="176.08" stroke="#333" stroke-width="0.6"/>
<line x1="152.8" y1="152.61" x2="152.8" y2="164.99" stroke="#2a2a2a" stroke-width="1.4" stroke-dasharray="1.6,0.9"/>
<circle cx="152.8" cy="158.8" r="1" fill="#fff"/>
<polygon points="167.1,181.84 167.18,181.42 167.4,181 167.76,180.58 168.23,180.16 168.77,179.74 169.35,179.32 169.93,178.9 170.48,178.48 170.94,178.06 171.3,177.64 171.52,177.22 171.6,176.8 171.56,176.26 171.43,175.72 171.23,175.18 170.98,174.64 170.67,174.1 170.35,173.56 170.03,173.02 169.73,172.48 169.47,171.94 169.27,171.4 169.14,170.86 169.1,170.32 169.07,170.02 168.97,169.72 168.81,169.42 168.6,169.12 168.36,168.82 168.1,168.52 167.84,168.22 167.6,167.92 167.39,167.62 167.23,167.32 167.13,167.02 167.1,166.72 167.1,166.72 167.07,167.02 166.97,167.32 166.81,167.62 166.6,167.92 166.36,168.22 166.1,168.52 165.84,168.82 165.6,169.12 165.39,169.42 165.23,169.72 165.13,170.02 165.1,170.32 165.06,170.86 164.93,171.4 164.73,171.94 164.48,172.48 164.17,173.02 163.85,173.56 163.53,174.1 163.23,174.64 162.97,175.18 162.77,175.72 162.64,176.26 162.6,176.8 162.68,177.22 162.9,177.64 163.26,178.06 163.73,178.48 164.27,178.9 164.85,179.32 165.43,179.74 165.98,180.16 166.44,180.58 166.8,181 167.02,181.42 167.1,181.84" fill="rgba(248,228,165,0.75)" stroke="rgba(225,195,110,0.6)" stroke-width="0.5"/>
<polygon points="167.1,184.72 167.19,184.42 167.47,184.12 167.91,183.82 168.48,183.52 169.14,183.22 169.85,182.92 170.56,182.62 171.23,182.32 171.79,182.02 172.23,181.72 172.51,181.42 172.6,181.12 172.51,180.76 172.23,180.4 171.79,180.04 171.23,179.68 170.56,179.32 169.85,178.96 169.14,178.6 168.48,178.24 167.91,177.88 167.47,177.52 167.19,177.16 167.1,176.8 167.1,176.8 167.01,177.16 166.73,177.52 166.29,177.88 165.73,178.24 165.06,178.6 164.35,178.96 163.64,179.32 162.98,179.68 162.41,180.04 161.97,180.4 161.69,180.76 161.6,181.12 161.69,181.42 161.97,181.72 162.41,182.02 162.98,182.32 163.64,182.62 164.35,182.92 165.06,183.22 165.73,183.52 166.29,183.82 166.73,184.12 167.01,184.42 167.1,184.72" fill="rgba(160,160,240,0.62)" stroke="rgba(90,90,210,0.55)" stroke-width="0.5"/>
<polygon points="167.1,171.76 167.19,170.98 167.47,170.2 167.91,169.42 168.48,168.64 169.14,167.86 169.85,167.08 170.56,166.3 171.23,165.52 171.79,164.74 172.23,163.96 172.51,163.18 172.6,162.4 172.57,161.5 172.47,160.6 172.31,159.7 172.1,158.8 171.86,157.9 171.6,157 171.34,156.1 171.1,155.2 170.89,154.3 170.73,153.4 170.63,152.5 170.6,151.6 170.54,150.52 170.37,149.44 170.09,148.36 169.73,147.28 169.3,146.2 168.85,145.12 168.4,144.04 167.98,142.96 167.61,141.88 167.33,140.8 167.16,139.72 167.1,138.64 167.1,138.64 167.04,139.72 166.87,140.8 166.59,141.88 166.23,142.96 165.8,144.04 165.35,145.12 164.9,146.2 164.48,147.28 164.11,148.36 163.83,149.44 163.66,150.52 163.6,151.6 163.57,152.5 163.47,153.4 163.31,154.3 163.1,155.2 162.86,156.1 162.6,157 162.34,157.9 162.1,158.8 161.89,159.7 161.73,160.6 161.63,161.5 161.6,162.4 161.69,163.18 161.97,163.96 162.41,164.74 162.98,165.52 163.64,166.3 164.35,167.08 165.06,167.86 165.73,168.64 166.29,169.42 166.73,170.2 167.01,170.98 167.1,171.76" fill="rgba(244,170,170,0.62)" stroke="rgba(215,95,95,0.55)" stroke-width="0.5"/>
<line x1="167.1" y1="167.44" x2="167.1" y2="181.12" stroke="#333" stroke-width="0.6"/>
<line x1="167.1" y1="173.78" x2="167.1" y2="179.82" stroke="#2a2a2a" stroke-width="1.4" stroke-dasharray="1.6,0.9"/>
<circle cx="167.1" cy="176.8" r="1" fill="#fff"/>
<line x1="167.1" y1="177.52" x2="167.1" y2="184" stroke="#333" stroke-width="0.6"/>
<line x1="167.1" y1="179.54" x2="167.1" y2="182.7" stroke="#2a2a2a" stroke-width="1.4" stroke-dasharray="1.6,0.9"/>
<circle cx="167.1" cy="181.12" r="1" fill="#fff"/>
<line x1="167.1" y1="139.36" x2="167.1" y2="171.04" stroke="#333" stroke-width="0.6"/>
<line x1="167.1" y1="155.78" x2="167.1" y2="169.02" stroke="#2a2a2a" stroke-width="1.4" stroke-dasharray="1.6,0.9"/>
<circle cx="167.1" cy="162.4" r="1" fill="#fff"/>
<polygon points="181.4,185.44 181.49,185.08 181.77,184.72 182.21,184.36 182.78,184 183.44,183.64 184.15,183.28 184.86,182.92 185.53,182.56 186.09,182.2 186.53,181.84 186.81,181.48 186.9,181.12 186.81,180.7 186.53,180.28 186.09,179.86 185.53,179.44 184.86,179.02 184.15,178.6 183.44,178.18 182.78,177.76 182.21,177.34 181.77,176.92 181.49,176.5 181.4,176.08 181.4,176.08 181.31,176.5 181.03,176.92 180.59,177.34 180.03,177.76 179.36,178.18 178.65,178.6 177.94,179.02 177.28,179.44 176.71,179.86 176.27,180.28 175.99,180.7 175.9,181.12 175.99,181.48 176.27,181.84 176.71,182.2 177.28,182.56 177.94,182.92 178.65,183.28 179.36,183.64 180.03,184 180.59,184.36 181.03,184.72 181.31,185.08 181.4,185.44" fill="rgba(160,160,240,0.62)" stroke="rgba(90,90,210,0.55)" stroke-width="0.5"/>
<polygon points="181.4,175.36 181.49,174.58 181.73,173.8 182.13,173.02 182.65,172.24 183.25,171.46 183.9,170.68 184.55,169.9 185.15,169.12 185.67,168.34 186.07,167.56 186.31,166.78 186.4,166 186.37,165.4 186.27,164.8 186.11,164.2 185.9,163.6 185.66,163 185.4,162.4 185.14,161.8 184.9,161.2 184.69,160.6 184.53,160 184.43,159.4 184.4,158.8 184.35,158.26 184.2,157.72 183.96,157.18 183.65,156.64 183.29,156.1 182.9,155.56 182.51,155.02 182.15,154.48 181.84,153.94 181.6,153.4 181.45,152.86 181.4,152.32 181.4,152.32 181.35,152.86 181.2,153.4 180.96,153.94 180.65,154.48 180.29,155.02 179.9,155.56 179.51,156.1 179.15,156.64 178.84,157.18 178.6,157.72 178.45,158.26 178.4,158.8 178.37,159.4 178.27,160 178.11,160.6 177.9,161.2 177.66,161.8 177.4,162.4 177.14,163 176.9,163.6 176.69,164.2 176.53,164.8 176.43,165.4 176.4,166 176.49,166.78 176.73,167.56 177.13,168.34 177.65,169.12 178.25,169.9 178.9,170.68 179.55,171.46 180.15,172.24 180.67,173.02 181.07,173.8 181.31,174.58 181.4,175.36" fill="rgba(244,170,170,0.62)" stroke="rgba(215,95,95,0.55)" stroke-width="0.5"/>
<line x1="181.4" y1="176.8" x2="181.4" y2="184.72" stroke="#333" stroke-width="0.6"/>
<line x1="181.4" y1="179.25" x2="181.4" y2="182.99" stroke="#2a2a2a" stroke-width="1.4" stroke-dasharray="1.6,0.9"/>
<circle cx="181.4" cy="181.12" r="1" fill="#fff"/>
<line x1="181.4" y1="153.04" x2="181.4" y2="174.64" stroke="#333" stroke-width="0.6"/>
<line x1="181.4" y1="161.39" x2="181.4" y2="170.61" stroke="#2a2a2a" stroke-width="1.4" stroke-dasharray="1.6,0.9"/>
<circle cx="181.4" cy="166" r="1" fill="#fff"/>
<polygon points="195.7,186.16 195.8,185.44 196.08,184.72 196.52,184 197.1,183.28 197.78,182.56 198.5,181.84 199.22,181.12 199.9,180.4 200.48,179.68 200.92,178.96 201.2,178.24 201.3,177.52 201.26,176.86 201.16,176.2 200.99,175.54 200.77,174.88 200.52,174.22 200.25,173.56 199.98,172.9 199.72,172.24 199.51,171.58 199.34,170.92 199.24,170.26 199.2,169.6 199.14,169.12 198.97,168.64 198.69,168.16 198.32,167.68 197.9,167.2 197.45,166.72 197,166.24 196.57,165.76 196.21,165.28 195.93,164.8 195.76,164.32 195.7,163.84 195.7,163.84 195.64,164.32 195.47,164.8 195.19,165.28 194.82,165.76 194.4,166.24 193.95,166.72 193.5,167.2 193.07,167.68 192.71,168.16 192.43,168.64 192.26,169.12 192.2,169.6 192.16,170.26 192.06,170.92 191.89,171.58 191.67,172.24 191.42,172.9 191.15,173.56 190.88,174.22 190.62,174.88 190.41,175.54 190.24,176.2 190.14,176.86 190.1,177.52 190.2,178.24 190.48,178.96 190.92,179.68 191.5,180.4 192.18,181.12 192.9,181.84 193.62,182.56 194.3,183.28 194.88,184 195.32,184.72 195.6,185.44 195.7,186.16" fill="rgba(160,160,240,0.62)" stroke="rgba(90,90,210,0.55)" stroke-width="0.5"/>
<polygon points="195.7,167.44 195.78,166.9 196,166.36 196.36,165.82 196.82,165.28 197.37,164.74 197.95,164.2 198.53,163.66 199.07,163.12 199.54,162.58 199.9,162.04 200.12,161.5 200.2,160.96 200.22,160.18 200.27,159.4 200.35,158.62 200.45,157.84 200.57,157.06 200.7,156.28 200.83,155.5 200.95,154.72 201.05,153.94 201.13,153.16 201.18,152.38 201.2,151.6 201.17,150.94 201.07,150.28 200.91,149.62 200.7,148.96 200.46,148.3 200.2,147.64 199.94,146.98 199.7,146.32 199.49,145.66 199.33,145 199.23,144.34 199.2,143.68 199.14,143.08 198.97,142.48 198.69,141.88 198.32,141.28 197.9,140.68 197.45,140.08 197,139.48 196.57,138.88 196.21,138.28 195.93,137.68 195.76,137.08 195.7,136.48 195.7,136.48 195.64,137.08 195.47,137.68 195.19,138.28 194.82,138.88 194.4,139.48 193.95,140.08 193.5,140.68 193.07,141.28 192.71,141.88 192.43,142.48 192.26,143.08 192.2,143.68 192.17,144.34 192.07,145 191.91,145.66 191.7,146.32 191.46,146.98 191.2,147.64 190.94,148.3 190.7,148.96 190.49,149.62 190.33,150.28 190.23,150.94 190.2,151.6 190.22,152.38 190.27,153.16 190.35,153.94 190.45,154.72 190.57,155.5 190.7,156.28 190.83,157.06 190.95,157.84 191.05,158.62 191.13,159.4 191.18,160.18 191.2,160.96 191.28,161.5 191.5,162.04 191.86,162.58 192.32,163.12 192.87,163.66 193.45,164.2 194.03,164.74 194.57,165.28 195.04,165.82 195.4,166.36 195.62,166.9 195.7,167.44" fill="rgba(244,170,170,0.62)" stroke="rgba(215,95,95,0.55)" stroke-width="0.5"/>
<line x1="195.7" y1="164.56" x2="195.7" y2="185.44" stroke="#333" stroke-width="0.6"/>
<line x1="195.7" y1="173.06" x2="195.7" y2="181.98" stroke="#2a2a2a" stroke-width="1.4" stroke-dasharray="1.6,0.9"/>
<circle cx="195.7" cy="177.52" r="1" fill="#fff"/>
<line x1="195.7" y1="137.2" x2="195.7" y2="166.72" stroke="#333" stroke-width="0.6"/>
<line x1="195.7" y1="145.41" x2="195.7" y2="157.79" stroke="#2a2a2a" stroke-width="1.4" stroke-dasharray="1.6,0.9"/>
<circle cx="195.7" cy="151.6" r="1" fill="#fff"/>
<polygon points="210,185.44 210.09,185.02 210.33,184.6 210.73,184.18 211.25,183.76 211.85,183.34 212.5,182.92 213.15,182.5 213.75,182.08 214.27,181.66 214.67,181.24 214.91,180.82 215,180.4 214.91,179.98 214.67,179.56 214.27,179.14 213.75,178.72 213.15,178.3 212.5,177.88 211.85,177.46 211.25,177.04 210.73,176.62 210.33,176.2 210.09,175.78 210,175.36 210,175.36 209.91,175.78 209.67,176.2 209.27,176.62 208.75,177.04 208.15,177.46 207.5,177.88 206.85,178.3 206.25,178.72 205.73,179.14 205.33,179.56 205.09,179.98 205,180.4 205.09,180.82 205.33,181.24 205.73,181.66 206.25,182.08 206.85,182.5 207.5,182.92 208.15,183.34 208.75,183.76 209.27,184.18 209.67,184.6 209.91,185.02 210,185.44" fill="rgba(160,160,240,0.62)" stroke="rgba(90,90,210,0.55)" stroke-width="0.5"/>
<polygon points="210,176.8 210.09,176.02 210.33,175.24 210.73,174.46 211.25,173.68 211.85,172.9 212.5,172.12 213.15,171.34 213.75,170.56 214.27,169.78 214.67,169 214.91,168.22 215,167.44 214.97,166.72 214.87,166 214.71,165.28 214.5,164.56 214.26,163.84 214,163.12 213.74,162.4 213.5,161.68 213.29,160.96 213.13,160.24 213.03,159.52 213,158.8 212.95,158.02 212.8,157.24 212.56,156.46 212.25,155.68 211.89,154.9 211.5,154.12 211.11,153.34 210.75,152.56 210.44,151.78 210.2,151 210.05,150.22 210,149.44 210,149.44 209.95,150.22 209.8,151 209.56,151.78 209.25,152.56 208.89,153.34 208.5,154.12 208.11,154.9 207.75,155.68 207.44,156.46 207.2,157.24 207.05,158.02 207,158.8 206.97,159.52 206.87,160.24 206.71,160.96 206.5,161.68 206.26,162.4 206,163.12 205.74,163.84 205.5,164.56 205.29,165.28 205.13,166 205.03,166.72 205,167.44 205.09,168.22 205.33,169 205.73,169.78 206.25,170.56 206.85,171.34 207.5,172.12 208.15,172.9 208.75,173.68 209.27,174.46 209.67,175.24 209.91,176.02 210,176.8" fill="rgba(244,170,170,0.62)" stroke="rgba(215,95,95,0.55)" stroke-width="0.5"/>
<line x1="210" y1="176.08" x2="210" y2="184.72" stroke="#333" stroke-width="0.6"/>
<line x1="210" y1="178.38" x2="210" y2="182.42" stroke="#2a2a2a" stroke-width="1.4" stroke-dasharray="1.6,0.9"/>
<circle cx="210" cy="180.4" r="1" fill="#fff"/>
<line x1="210" y1="150.16" x2="210" y2="176.08" stroke="#333" stroke-width="0.6"/>
<line x1="210" y1="161.97" x2="210" y2="172.91" stroke="#2a2a2a" stroke-width="1.4" stroke-dasharray="1.6,0.9"/>
<circle cx="210" cy="167.44" r="1" fill="#fff"/>
<polygon points="52.7,165.66 55.2,168.16 52.7,170.66 50.2,168.16" fill="#1010dd"/>
<polygon points="67,150.54 69.5,153.04 67,155.54 64.5,153.04" fill="#e01515"/>
<polygon points="81.3,185.05 84.05,187.8 81.3,190.55 78.55,187.8" fill="#000"/>
<polygon points="95.6,185.05 98.35,187.8 95.6,190.55 92.85,187.8" fill="#000"/>
<polygon points="109.9,175.74 112.4,178.24 109.9,180.74 107.4,178.24" fill="#1010dd"/>
<polygon points="124.2,185.05 126.95,187.8 124.2,190.55 121.45,187.8" fill="#000"/>
<polygon points="138.5,185.05 141.25,187.8 138.5,190.55 135.75,187.8" fill="#000"/>
<polygon points="152.8,185.05 155.55,187.8 152.8,190.55 150.05,187.8" fill="#000"/>
<polygon points="167.1,185.05 169.85,187.8 167.1,190.55 164.35,187.8" fill="#000"/>
<polygon points="181.4,185.05 184.15,187.8 181.4,190.55 178.65,187.8" fill="#000"/>
<polygon points="195.7,177.18 198.2,179.68 195.7,182.18 193.2,179.68" fill="#1010dd"/>
<polygon points="210,185.05 212.75,187.8 210,190.55 207.25,187.8" fill="#000"/>
<rect x="46.4" y="131.2" width="169.4" height="62.1" fill="none" stroke="#333" stroke-width="0.8"/>
<line x1="43.2" y1="184" x2="46.4" y2="184" stroke="#333" stroke-width="0.7"/>
<text x="38.8" y="184" font-size="5.6" text-anchor="middle" fill="#333" stroke="#333" stroke-width="0.18" transform="rotate(-90 38.8 184)">0</text>
<line x1="43.2" y1="169.6" x2="46.4" y2="169.6" stroke="#333" stroke-width="0.7"/>
<text x="38.8" y="169.6" font-size="5.6" text-anchor="middle" fill="#333" stroke="#333" stroke-width="0.18" transform="rotate(-90 38.8 169.6)">2</text>
<line x1="43.2" y1="155.2" x2="46.4" y2="155.2" stroke="#333" stroke-width="0.7"/>
<text x="38.8" y="155.2" font-size="5.6" text-anchor="middle" fill="#333" stroke="#333" stroke-width="0.18" transform="rotate(-90 38.8 155.2)">4</text>
<line x1="43.2" y1="140.8" x2="46.4" y2="140.8" stroke="#333" stroke-width="0.7"/>
<text x="38.8" y="140.8" font-size="5.6" text-anchor="middle" fill="#333" stroke="#333" stroke-width="0.18" transform="rotate(-90 38.8 140.8)">6</text>
<line x1="46.39" y1="184" x2="46.39" y2="140.8" stroke="#333" stroke-width="0.01"/>
<text x="28.4" y="165.6" font-size="9.6" text-anchor="middle" fill="#222" stroke="#222" stroke-width="0.28" transform="rotate(-90 28.4 165.6)">logCPM</text>
<line x1="52.7" y1="193.3" x2="52.7" y2="196.3" stroke="#333" stroke-width="0.7"/>
<text x="54.7" y="198.8" font-size="5.8" text-anchor="end" fill="#333" stroke="#333" stroke-width="0.18" transform="rotate(-90 54.7 198.8)">GCG</text>
<line x1="67" y1="193.3" x2="67" y2="196.3" stroke="#333" stroke-width="0.7"/>
<text x="69" y="198.8" font-size="5.8" text-anchor="end" fill="#333" stroke="#333" stroke-width="0.18" transform="rotate(-90 69 198.8)">INS</text>
<line x1="81.3" y1="193.3" x2="81.3" y2="196.3" stroke="#333" stroke-width="0.7"/>
<text x="83.3" y="198.8" font-size="5.8" text-anchor="end" fill="#333" stroke="#333" stroke-width="0.18" transform="rotate(-90 83.3 198.8)">SST</text>
<line x1="95.6" y1="193.3" x2="95.6" y2="196.3" stroke="#333" stroke-width="0.7"/>
<text x="97.6" y="198.8" font-size="5.8" text-anchor="end" fill="#333" stroke="#333" stroke-width="0.18" transform="rotate(-90 97.6 198.8)">GHRL</text>
<line x1="109.9" y1="193.3" x2="109.9" y2="196.3" stroke="#333" stroke-width="0.7"/>
<text x="111.9" y="198.8" font-size="5.8" text-anchor="end" fill="#333" stroke="#333" stroke-width="0.18" transform="rotate(-90 111.9 198.8)">PPY</text>
<line x1="124.2" y1="193.3" x2="124.2" y2="196.3" stroke="#333" stroke-width="0.7"/>
<text x="126.2" y="198.8" font-size="5.8" text-anchor="end" fill="#333" stroke="#333" stroke-width="0.18" transform="rotate(-90 126.2 198.8)">REG1A</text>
<line x1="138.5" y1="193.3" x2="138.5" y2="196.3" stroke="#333" stroke-width="0.7"/>
<text x="140.5" y="198.8" font-size="5.8" text-anchor="end" fill="#333" stroke="#333" stroke-width="0.18" transform="rotate(-90 140.5 198.8)">PRSS1</text>
<line x1="152.8" y1="193.3" x2="152.8" y2="196.3" stroke="#333" stroke-width="0.7"/>
<text x="154.8" y="198.8" font-size="5.8" text-anchor="end" fill="#333" stroke="#333" stroke-width="0.18" transform="rotate(-90 154.8 198.8)">PNLIP</text>
<line x1="167.1" y1="193.3" x2="167.1" y2="196.3" stroke="#333" stroke-width="0.7"/>
<text x="169.1" y="198.8" font-size="5.8" text-anchor="end" fill="#333" stroke="#333" stroke-width="0.18" transform="rotate(-90 169.1 198.8)">TIMP3</text>
<line x1="181.4" y1="193.3" x2="181.4" y2="196.3" stroke="#333" stroke-width="0.7"/>
<text x="183.4" y="198.8" font-size="5.8" text-anchor="end" fill="#333" stroke="#333" stroke-width="0.18" transform="rotate(-90 183.4 198.8)">KRT19</text>
<line x1="195.7" y1="193.3" x2="195.7" y2="196.3" stroke="#333" stroke-width="0.7"/>
<text x="197.7" y="198.8" font-size="5.8" text-anchor="end" fill="#333" stroke="#333" stroke-width="0.18" transform="rotate(-90 197.7 198.8)">SPP1</text>
<line x1="210" y1="193.3" x2="210" y2="196.3" stroke="#333" stroke-width="0.7"/>
<text x="212" y="198.8" font-size="5.8" text-anchor="end" fill="#333" stroke="#333" stroke-width="0.18" transform="rotate(-90 212 198.8)">HNF1B</text>
<line x1="222.8" y1="165.1" x2="231.1" y2="165.1" stroke="#222" stroke-width="1.25"/>
<polygon points="237.3,165.1 230.6,168.7 230.6,161.5" fill="#222"/>
<text x="306.4" y="121.3" font-size="7.8" text-anchor="middle" fill="#222" stroke="#222" stroke-width="0.18">Derivation of gene signature</text>
<clipPath id="cd"><rect x="257.6" y="124.6" width="98.6" height="88.2"/></clipPath>
<g clip-path="url(#cd)">
<path d="M270.85 175.33H343.18V175.94H270.85ZM269.1 174.72H342.69V175.33H269.1ZM269.36 174.1H342.97V174.72H269.36ZM275.43 173.49H344.8V174.1H275.43ZM267.1 172.87H344.37V173.49H267.1ZM267.25 172.25H346.48V172.87H267.25ZM270.85 171.64H346.22V172.25H270.85ZM269.96 171.03H345.27V171.64H269.96ZM274.44 170.41H346.75V171.03H274.44ZM271.85 169.8H344.49V170.41H271.85ZM267.31 169.18H347.38V169.8H267.31ZM266.81 168.56H347.67V169.18H266.81ZM268.17 167.95H347.93V168.56H268.17ZM273.4 167.34H345.5V167.95H273.4ZM271.61 166.72H348.04V167.34H271.61ZM264.81 166.11H345.92V166.72H264.81ZM271 165.49H345.82V166.11H271ZM268.83 164.88H347.04V165.49H268.83ZM271.85 164.26H346.32V164.88H271.85ZM267.59 163.65H346.37V164.26H267.59ZM265.84 163.03H348.88V163.65H265.84ZM270.61 162.41H349.49V163.03H270.61ZM272.57 161.8H349.99V162.41H272.57ZM271.24 161.19H348.23V161.8H271.24ZM273.93 160.57H348.1V161.19H273.93ZM271.01 159.95H349.55V160.57H271.01ZM266.8 159.34H349.09V159.95H266.8ZM271.31 158.72H349.23V159.34H271.31ZM267.91 158.11H350.87V158.72H267.91ZM265.56 157.5H351.14V158.11H265.56ZM267.61 156.88H348.36V157.5H267.61ZM274.14 156.26H348.71V156.88H274.14ZM271.11 155.65H349.59V156.26H271.11ZM274.32 155.03H351.62V155.65H274.32ZM272.85 154.42H348.54V155.03H272.85ZM272.76 153.81H349.39V154.42H272.76ZM266.31 153.19H348.87V153.81H266.31ZM271.55 152.57H351.09V153.19H271.55ZM270 151.96H349.74V152.57H270ZM273.74 151.34H349.98V151.96H273.74ZM267.68 150.73H349.73V151.34H267.68ZM274.47 150.12H349.57V150.73H274.47ZM274.04 149.5H351.85V150.12H274.04ZM269.48 148.88H349.95V149.5H269.48ZM272.18 148.27H349.98V148.88H272.18ZM270.65 147.66H352.21V148.27H270.65ZM272.97 147.04H352.75V147.66H272.97ZM275.38 146.43H352.91V147.04H275.38ZM270.26 145.81H349.96V146.43H270.26ZM275.24 145.19H353.38V145.81H275.24ZM268.22 144.58H351.72V145.19H268.22ZM273.66 143.97H352.83V144.58H273.66ZM272.29 143.35H350.8V143.97H272.29ZM273.81 142.74H352.3V143.35H273.81ZM277.65 142.12H350.6V142.74H277.65ZM278.15 141.5H352.16V142.12H278.15ZM271.3 140.89H353.51V141.5H271.3ZM272.55 140.28H350.66V140.89H272.55ZM273.74 139.66H351.29V140.28H273.74ZM278.97 139.05H352.61V139.66H278.97ZM279.19 138.43H351.21V139.05H279.19ZM278.49 137.81H352.66V138.43H278.49ZM272.83 137.2H351.3V137.81H272.83ZM273.63 136.59H352.78V137.2H273.63ZM278.55 135.97H351.86V136.59H278.55ZM279.22 135.36H353.47V135.97H279.22ZM280.48 134.74H354.04V135.36H280.48ZM281.3 134.12H351.12V134.74H281.3ZM276.73 133.51H352.46V134.12H276.73ZM281.21 132.89H353.54V133.51H281.21ZM285.25 132.28H353.83V132.89H285.25ZM279.51 131.67H351.78V132.28H279.51ZM283.65 131.05H352.13V131.67H283.65ZM280.38 130.44H352.51V131.05H280.38ZM281.77 129.82H352.34V130.44H281.77ZM284.84 129.2H352.6V129.82H284.84ZM285.97 128.59H353.43V129.2H285.97ZM282.04 127.97H352.76V128.59H282.04ZM286.66 127.36H351.92V127.97H286.66Z" fill="#c9c9f7" opacity="0.22"/>
<path d="M298.76 175.33H343.76V175.94H298.76ZM296.65 174.72H344.09V175.33H296.65ZM294.13 174.1H343.86V174.72H294.13ZM292.11 173.49H343.56V174.1H292.11ZM290.3 172.87H343.84V173.49H290.3ZM292.2 172.25H344.6V172.87H292.2ZM289.23 171.64H344.16V172.25H289.23ZM292 171.03H344.32V171.64H292ZM288.06 170.41H345.08V171.03H288.06ZM287.18 169.8H344.34V170.41H287.18ZM290.47 169.18H346.07V169.8H290.47ZM292.97 168.56H345.2V169.18H292.97ZM287.18 167.95H346.68V168.56H287.18ZM288.9 167.34H346.04V167.95H288.9ZM288.51 166.72H348.19V167.34H288.51ZM288.05 166.11H346.96V166.72H288.05ZM288.8 165.49H347.74V166.11H288.8ZM289.02 164.88H346.7V165.49H289.02ZM288.83 164.26H347.1V164.88H288.83ZM293.24 163.65H349.23V164.26H293.24ZM290.1 163.03H347.63V163.65H290.1ZM291.65 162.41H347.65V163.03H291.65ZM288.51 161.8H350.08V162.41H288.51ZM289.6 161.19H349.56V161.8H289.6ZM292.59 160.57H350.03V161.19H292.59ZM290.56 159.95H350.01V160.57H290.56ZM291.38 159.34H350.66V159.95H291.38ZM289.28 158.72H349.58V159.34H289.28ZM288.11 158.11H348.98V158.72H288.11ZM290.78 157.5H348.01V158.11H290.78ZM292.35 156.88H349.92V157.5H292.35ZM290.11 156.26H350.05V156.88H290.11ZM291.14 155.65H348.69V156.26H291.14ZM289.04 155.03H351.66V155.65H289.04ZM287.09 154.42H351.59V155.03H287.09ZM287.41 153.81H350.86V154.42H287.41ZM286.97 153.19H348.81V153.81H286.97ZM285.03 152.57H350.87V153.19H285.03ZM284.89 151.96H350.22V152.57H284.89ZM287.96 151.34H352.13V151.96H287.96ZM286.05 150.73H350.78V151.34H286.05ZM283.16 150.12H349.49V150.73H283.16ZM285.5 149.5H351.82V150.12H285.5ZM283.17 148.88H353.2V149.5H283.17ZM288.75 148.27H351.26V148.88H288.75ZM284.77 147.66H352.82V148.27H284.77ZM284.43 147.04H350.22V147.66H284.43ZM286.04 146.43H351.91V147.04H286.04ZM286.88 145.81H352.46V146.43H286.88ZM281.1 145.19H352.21V145.81H281.1ZM280.92 144.58H350.38V145.19H280.92ZM283.36 143.97H352.75V144.58H283.36ZM280.25 143.35H351.97V143.97H280.25ZM284.08 142.74H352.66V143.35H284.08ZM279.42 142.12H352.11V142.74H279.42ZM284.11 141.5H352.22V142.12H284.11ZM284.86 140.89H351.77V141.5H284.86ZM281.99 140.28H352.99V140.89H281.99ZM278.99 139.66H351.16V140.28H278.99ZM284.17 139.05H352.26V139.66H284.17ZM281.75 138.43H350.89V139.05H281.75ZM277.48 137.81H353.4V138.43H277.48ZM280.69 137.2H353.78V137.81H280.69ZM274.77 136.59H353.34V137.2H274.77ZM276.99 135.97H352.76V136.59H276.99ZM276.16 135.36H352.36V135.97H276.16ZM274.97 134.74H354.14V135.36H274.97ZM274.39 134.12H353.55V134.74H274.39ZM275.61 133.51H353.49V134.12H275.61ZM276.71 132.89H352.86V133.51H276.71ZM274.63 132.28H353.52V132.89H274.63ZM271.71 131.67H352.76V132.28H271.71ZM276.69 131.05H354.02V131.67H276.69ZM273.6 130.44H351.73V131.05H273.6ZM270.4 129.82H353.1V130.44H270.4ZM276.86 129.2H352.33V129.82H276.86ZM273.8 128.59H353.11V129.2H273.8ZM271.73 127.97H352.97V128.59H271.73ZM273.4 127.36H352.04V127.97H273.4Z" fill="#c9c9f7" opacity="0.75"/>
<path d="M258.64 135.97H287.39V136.59H258.64ZM258.64 135.36H286.83V135.97H258.64ZM258.64 134.74H286.38V135.36H258.64ZM258.64 134.12H285.92V134.74H258.64ZM258.64 133.51H285.47V134.12H258.64ZM258.64 132.89H284.82V133.51H258.64ZM258.64 132.28H283.97V132.89H258.64ZM258.64 131.67H283.13V132.28H258.64ZM258.64 131.05H281.41V131.67H258.64ZM258.64 130.44H279.33V131.05H258.64ZM258.64 129.82H277.64V130.44H258.64ZM258.64 129.2H275.95V129.82H258.64ZM258.64 128.59H274.26V129.2H258.64ZM258.64 127.97H272.57V128.59H258.64ZM258.64 127.36H270.88V127.97H258.64ZM258.64 126.75H269.2V127.36H258.64Z" fill="#f8c4c4" opacity="0.75"/>
<path d="M257.92 211.62H354.1V212.23H257.92ZM260.87 211H353.03V211.62H260.87ZM256.41 210.38H354.71V211H256.41ZM261.11 209.77H351.88V210.38H261.11ZM257.36 209.16H352.27V209.77H257.36ZM263.42 208.54H351.9V209.16H263.42ZM256.79 207.93H350.76V208.54H256.79ZM259.24 207.31H353.97V207.93H259.24ZM258.6 206.69H353.2V207.31H258.6ZM260.45 206.08H350.44V206.69H260.45ZM260.36 205.47H353.18V206.08H260.36ZM263.87 204.85H350.24V205.47H263.87ZM265.33 204.24H351.17V204.85H265.33ZM263.78 203.62H352.6V204.24H263.78ZM262.64 203H352.86V203.62H262.64ZM266.84 202.39H351.51V203H266.84ZM267.51 201.78H352.49V202.39H267.51ZM264.2 201.16H349.9V201.78H264.2ZM262.36 200.54H351.89V201.16H262.36ZM266.06 199.93H351.09V200.54H266.06ZM265.22 199.31H350.31V199.93H265.22ZM263.13 198.7H350.56V199.31H263.13ZM270.05 198.09H349.25V198.7H270.05ZM269.72 197.47H349.19V198.09H269.72ZM267.46 196.85H347.91V197.47H267.46ZM267.47 196.24H348.64V196.85H267.47ZM270 195.62H348.59V196.24H270ZM270.43 195.01H347.59V195.62H270.43ZM268.86 194.4H349.48V195.01H268.86ZM271.32 193.78H348.34V194.4H271.32ZM267.97 193.16H348.73V193.78H267.97ZM268.52 192.55H346.74V193.16H268.52ZM273.53 191.94H346.4V192.55H273.53ZM273.85 191.32H348.03V191.94H273.85ZM270.51 190.71H347.33V191.32H270.51ZM268.79 190.09H346.18V190.71H268.79ZM273.25 189.47H344.76V190.09H273.25ZM275.79 188.86H344.72V189.47H275.79ZM275.98 188.25H346.46V188.86H275.98ZM269.71 187.63H344.29V188.25H269.71ZM275.46 187.01H345.99V187.63H275.46ZM270.29 186.4H343.75V187.01H270.29ZM271.79 185.78H345.32V186.4H271.79ZM273.5 185.17H344.21V185.78H273.5ZM276.64 184.56H343.94V185.17H276.64ZM274.1 183.94H343.54V184.56H274.1ZM276.04 183.32H343.94V183.94H276.04ZM273.01 182.71H341.78V183.32H273.01ZM273.47 182.09H342.19V182.71H273.47ZM273.38 181.48H341.55V182.09H273.38ZM275.56 180.87H341V181.48H275.56ZM274.73 180.25H341.28V180.87H274.73ZM279.74 179.63H342.22V180.25H279.74ZM279.22 179.02H341.85V179.63H279.22ZM274.41 178.41H339.94V179.02H274.41ZM275.62 177.79H341.29V178.41H275.62ZM278.03 177.18H337.79V177.79H278.03ZM277.18 176.56H339.08V177.18H277.18ZM278.58 175.94H339.9V176.56H278.58Z" fill="#f8c4c4" opacity="0.35"/>
<path d="M301.82 211.62H354.71V212.23H301.82ZM300.2 211H353.74V211.62H300.2ZM296.46 210.38H354.41V211H296.46ZM301.09 209.77H353.8V210.38H301.09ZM301.77 209.16H353.61V209.77H301.77ZM301.23 208.54H352.76V209.16H301.23ZM302.73 207.93H351.03V208.54H302.73ZM300.24 207.31H350.82V207.93H300.24ZM297.89 206.69H351.59V207.31H297.89ZM299.48 206.08H350.47V206.69H299.48ZM302.1 205.47H351.29V206.08H302.1ZM300.82 204.85H351.11V205.47H300.82ZM297.58 204.24H352.76V204.85H297.58ZM301.48 203.62H353.09V204.24H301.48ZM301.26 203H352.74V203.62H301.26ZM300 202.39H349.4V203H300ZM300.28 201.78H351.59V202.39H300.28ZM299.51 201.16H351.53V201.78H299.51ZM297.56 200.54H349.82V201.16H297.56ZM301.76 199.93H351.36V200.54H301.76ZM298 199.31H348.71V199.93H298ZM298.2 198.7H350.36V199.31H298.2ZM295.76 198.09H351.7V198.7H295.76ZM302.52 197.47H348.67V198.09H302.52ZM299.94 196.85H350.97V197.47H299.94ZM298.92 196.24H347.33V196.85H298.92ZM299.13 195.62H349.3V196.24H299.13ZM302.27 195.01H349.99V195.62H302.27ZM296.33 194.4H348.21V195.01H296.33ZM296.05 193.78H349.47V194.4H296.05ZM301.17 193.16H349.18V193.78H301.17ZM300.03 192.55H348.85V193.16H300.03ZM301.08 191.94H347.33V192.55H301.08ZM300.71 191.32H348.29V191.94H300.71ZM302.69 190.71H344.73V191.32H302.69ZM301.64 190.09H346.08V190.71H301.64ZM300 189.47H345.7V190.09H300ZM302.34 188.86H346.18V189.47H302.34ZM302.17 188.25H345.08V188.86H302.17ZM296.16 187.63H344.58V188.25H296.16ZM296.64 187.01H345.65V187.63H296.64ZM302.84 186.4H344.2V187.01H302.84ZM299.37 185.78H343.79V186.4H299.37ZM300.19 185.17H343.25V185.78H300.19ZM297.61 184.56H341.88V185.17H297.61ZM300.7 183.94H343.18V184.56H300.7ZM296.86 183.32H343.63V183.94H296.86ZM302.11 182.71H342.97V183.32H302.11ZM302.32 182.09H340.99V182.71H302.32ZM296.91 181.48H342.27V182.09H296.91ZM302.01 180.87H342.74V181.48H302.01ZM301.16 180.25H342.39V180.87H301.16ZM299.8 179.63H340.29V180.25H299.8ZM301.15 179.02H341.77V179.63H301.15ZM297.79 178.41H341.47V179.02H297.79ZM301.49 177.79H340.28V178.41H301.49ZM300.21 177.18H340.6V177.79H300.21ZM299.86 176.56H339.49V177.18H299.86ZM297.41 175.94H338.28V176.56H297.41Z" fill="#f8c4c4" opacity="0.7"/>
<path d="M258.64 211.62H283.76V212.23H258.64ZM258.64 211H284.5V211.62H258.64ZM258.64 210.38H285.24V211H258.64ZM258.64 209.77H285.98V210.38H258.64ZM258.64 209.16H286.71V209.77H258.64ZM258.64 208.54H287.45V209.16H258.64ZM258.64 207.93H288.19V208.54H258.64ZM258.64 207.31H288.93V207.93H258.64Z" fill="#c9c9f7" opacity="0.75"/>
<path d="M296.68 206.69H303.85V207.31H296.68ZM296.76 206.08H303.85V206.69H296.76ZM298.04 205.47H303.85V206.08H298.04ZM296.43 204.85H303.85V205.47H296.43ZM297.7 204.24H303.85V204.85H297.7ZM298.45 203.62H303.85V204.24H298.45ZM298.64 203H303.85V203.62H298.64ZM298.33 202.39H303.85V203H298.33ZM298.05 201.78H303.85V202.39H298.05ZM296.83 201.16H303.85V201.78H296.83ZM297.99 200.54H303.85V201.16H297.99ZM298.64 199.93H303.85V200.54H298.64ZM296.57 199.31H303.85V199.93H296.57ZM297.18 198.7H303.85V199.31H297.18ZM298.75 198.09H303.85V198.7H298.75ZM298.68 197.47H303.85V198.09H298.68ZM298.45 196.85H303.85V197.47H298.45ZM297.78 196.24H303.85V196.85H297.78ZM296.29 195.62H303.85V196.24H296.29ZM296.03 195.01H303.85V195.62H296.03ZM297.02 194.4H303.85V195.01H297.02ZM298.15 193.78H303.85V194.4H298.15ZM297.56 193.16H303.85V193.78H297.56ZM297.76 192.55H303.85V193.16H297.76ZM297.85 191.94H303.85V192.55H297.85ZM298.79 191.32H303.85V191.94H298.79ZM297.1 190.71H303.85V191.32H297.1ZM296.39 190.09H303.85V190.71H296.39ZM296.68 189.47H303.85V190.09H296.68ZM298.55 188.86H303.85V189.47H298.55ZM297.26 188.25H303.85V188.86H297.26ZM298.32 187.63H303.85V188.25H298.32ZM296.73 187.01H303.85V187.63H296.73ZM297.51 186.4H303.85V187.01H297.51Z" fill="#c9c9f7" opacity="0.5"/>
<path d="M305.04 175.94C303.95 175.88 299.79 175.77 298.53 175.58C297.28 175.38 297.88 175.19 297.5 174.78C297.13 174.37 296.67 174.56 296.29 173.12C295.91 171.67 295.58 168.61 295.2 166.11C294.82 163.6 294.5 160.41 294.01 158.11C293.53 155.81 292.87 154.06 292.3 152.33C291.73 150.6 291.17 149.17 290.59 147.72C290 146.26 289.39 144.66 288.81 143.6C288.23 142.53 287.77 142.17 287.1 141.32C286.43 140.47 285.56 139.36 284.79 138.49C284.03 137.62 283.15 136.87 282.49 136.09C281.82 135.31 281.48 134.48 280.8 133.82C280.13 133.15 278.83 132.38 278.44 132.1" fill="none" stroke="#c8101e" stroke-width="1.5" stroke-linejoin="round" stroke-linecap="round"/>
<path d="M300.01 175.94C301.49 175.89 306.96 175.92 308.88 175.64C310.79 175.35 310.87 175.04 311.51 174.22C312.14 173.4 312.34 172.45 312.69 170.72C313.04 168.99 313.32 166.14 313.61 163.83C313.89 161.52 314.07 158.8 314.4 156.88C314.73 154.96 315.1 153.67 315.59 152.33C316.07 150.99 316.63 149.88 317.3 148.82C317.97 147.77 318.94 147.05 319.6 145.99C320.27 144.94 320.71 143.66 321.29 142.49C321.87 141.32 322.31 139.95 323.09 138.98C323.87 138.02 325.22 137.57 325.99 136.71C326.76 135.85 327.13 134.59 327.7 133.82C328.27 133.05 329.13 132.38 329.41 132.1" fill="none" stroke="#1818c8" stroke-width="1.5" stroke-linejoin="round" stroke-linecap="round"/>
<path d="M305.63 175.94C305.77 178 305.73 184.42 306.51 188.25C307.3 192.07 309.22 196.42 310.35 198.88C311.49 201.34 312.42 201.89 313.31 203C314.2 204.12 314.69 204.97 315.67 205.59C316.66 206.2 318.63 206.51 319.22 206.69" fill="none" stroke="#c8101e" stroke-width="1.5" stroke-linejoin="round" stroke-linecap="round"/>
<path d="M302.38 175.94C302.13 177.95 301.83 184.18 300.9 188C299.96 191.82 298.34 196.18 296.76 198.88C295.19 201.59 292.87 203.04 291.44 204.24C290.01 205.43 288.73 205.77 288.19 206.08" fill="none" stroke="#1818c8" stroke-width="1.5" stroke-linejoin="round" stroke-linecap="round"/>
<rect x="274.7" y="130.15" width="1.8" height="1.8" fill="#c8101e"/>
<rect x="268.38" y="129.53" width="1.8" height="1.8" fill="#c8101e"/>
<rect x="264.24" y="128.3" width="1.8" height="1.8" fill="#c8101e"/>
<rect x="260.11" y="127.2" width="1.8" height="1.8" fill="#c8101e"/>
<rect x="271.63" y="129.84" width="1.8" height="1.8" fill="#c8101e"/>
<rect x="266.31" y="128.92" width="1.8" height="1.8" fill="#c8101e"/>
<rect x="325.71" y="206.59" width="1.8" height="1.8" fill="#c8101e"/>
<rect x="330.14" y="207.33" width="1.8" height="1.8" fill="#c8101e"/>
<rect x="335.16" y="208.07" width="1.8" height="1.8" fill="#c8101e"/>
<rect x="341.96" y="208.87" width="1.8" height="1.8" fill="#c8101e"/>
<rect x="346.39" y="209.79" width="1.8" height="1.8" fill="#c8101e"/>
<rect x="349.94" y="210.72" width="1.8" height="1.8" fill="#c8101e"/>
<rect x="332" y="130.09" width="1.8" height="1.8" fill="#1818c8"/>
<rect x="338.3" y="129.29" width="1.8" height="1.8" fill="#1818c8"/>
<rect x="341.19" y="128.61" width="1.8" height="1.8" fill="#1818c8"/>
<rect x="346.39" y="127.2" width="1.8" height="1.8" fill="#1818c8"/>
<rect x="334.57" y="129.78" width="1.8" height="1.8" fill="#1818c8"/>
<rect x="343.73" y="127.94" width="1.8" height="1.8" fill="#1818c8"/>
<rect x="282.56" y="206.1" width="1.8" height="1.8" fill="#1818c8"/>
<rect x="278.43" y="206.72" width="1.8" height="1.8" fill="#1818c8"/>
<rect x="273.11" y="207.39" width="1.8" height="1.8" fill="#1818c8"/>
<rect x="268.08" y="208.25" width="1.8" height="1.8" fill="#1818c8"/>
<rect x="258.33" y="209.3" width="1.8" height="1.8" fill="#1818c8"/>
</g>
<rect x="257.6" y="124.6" width="98.6" height="88.2" fill="none" stroke="#999" stroke-width="0.6"/>
<line x1="255.8" y1="211" x2="257.6" y2="211" stroke="#666" stroke-width="0.5"/>
<text x="254.8" y="211" font-size="5.1" text-anchor="middle" fill="#444" stroke="#444" stroke-width="0.14" transform="rotate(-90 254.8 211)">0</text>
<line x1="255.8" y1="198.7" x2="257.6" y2="198.7" stroke="#666" stroke-width="0.5"/>
<text x="254.8" y="198.7" font-size="5.1" text-anchor="middle" fill="#444" stroke="#444" stroke-width="0.14" transform="rotate(-90 254.8 198.7)">20</text>
<line x1="255.8" y1="186.4" x2="257.6" y2="186.4" stroke="#666" stroke-width="0.5"/>
<text x="254.8" y="186.4" font-size="5.1" text-anchor="middle" fill="#444" stroke="#444" stroke-width="0.14" transform="rotate(-90 254.8 186.4)">40</text>
<line x1="255.8" y1="174.1" x2="257.6" y2="174.1" stroke="#666" stroke-width="0.5"/>
<text x="254.8" y="174.1" font-size="5.1" text-anchor="middle" fill="#444" stroke="#444" stroke-width="0.14" transform="rotate(-90 254.8 174.1)">60</text>
<line x1="255.8" y1="161.8" x2="257.6" y2="161.8" stroke="#666" stroke-width="0.5"/>
<text x="254.8" y="161.8" font-size="5.1" text-anchor="middle" fill="#444" stroke="#444" stroke-width="0.14" transform="rotate(-90 254.8 161.8)">80</text>
<line x1="255.8" y1="149.5" x2="257.6" y2="149.5" stroke="#666" stroke-width="0.5"/>
<text x="254.8" y="149.5" font-size="5.1" text-anchor="middle" fill="#444" stroke="#444" stroke-width="0.14" transform="rotate(-90 254.8 149.5)">100</text>
<line x1="255.8" y1="137.2" x2="257.6" y2="137.2" stroke="#666" stroke-width="0.5"/>
<text x="254.8" y="137.2" font-size="5.1" text-anchor="middle" fill="#444" stroke="#444" stroke-width="0.14" transform="rotate(-90 254.8 137.2)">120</text>
<line x1="263.07" y1="212.8" x2="263.07" y2="214.6" stroke="#666" stroke-width="0.5"/>
<text x="263.07" y="220" font-size="5.4" text-anchor="middle" fill="#444" stroke="#444" stroke-width="0.14">-1.5</text>
<line x1="277.85" y1="212.8" x2="277.85" y2="214.6" stroke="#666" stroke-width="0.5"/>
<text x="277.85" y="220" font-size="5.4" text-anchor="middle" fill="#444" stroke="#444" stroke-width="0.14">-1.0</text>
<line x1="292.62" y1="212.8" x2="292.62" y2="214.6" stroke="#666" stroke-width="0.5"/>
<text x="292.62" y="220" font-size="5.4" text-anchor="middle" fill="#444" stroke="#444" stroke-width="0.14">-0.5</text>
<line x1="307.4" y1="212.8" x2="307.4" y2="214.6" stroke="#666" stroke-width="0.5"/>
<text x="307.4" y="220" font-size="5.4" text-anchor="middle" fill="#444" stroke="#444" stroke-width="0.14">0.0</text>
<line x1="322.17" y1="212.8" x2="322.17" y2="214.6" stroke="#666" stroke-width="0.5"/>
<text x="322.17" y="220" font-size="5.4" text-anchor="middle" fill="#444" stroke="#444" stroke-width="0.14">0.5</text>
<line x1="336.95" y1="212.8" x2="336.95" y2="214.6" stroke="#666" stroke-width="0.5"/>
<text x="336.95" y="220" font-size="5.4" text-anchor="middle" fill="#444" stroke="#444" stroke-width="0.14">1.0</text>
<line x1="351.72" y1="212.8" x2="351.72" y2="214.6" stroke="#666" stroke-width="0.5"/>
<text x="351.72" y="220" font-size="5.4" text-anchor="middle" fill="#444" stroke="#444" stroke-width="0.14">1.5</text>
<text x="246.3" y="165.3" font-size="9.4" text-anchor="middle" fill="#222" stroke="#222" stroke-width="0.28" transform="rotate(-90 246.3 165.3)">Markers</text>
<line x1="363.5" y1="165.2" x2="374.6" y2="165.2" stroke="#222" stroke-width="1.25"/>
<polygon points="380.8,165.2 374.1,168.7 374.1,161.7" fill="#222"/>
<text x="455.2" y="120.8" font-size="7.8" text-anchor="middle" fill="#222" stroke="#222" stroke-width="0.18">Correlation test</text>
<clipPath id="cc"><rect x="402.6" y="124.5" width="98.6" height="88"/></clipPath>
<g clip-path="url(#cc)">
<line x1="400.12" y1="217.22" x2="504.9" y2="120.5" stroke="#bbb" stroke-width="0.7"/>
<line x1="456.3" y1="124.5" x2="456.3" y2="212.5" stroke="#ccc" stroke-width="0.7"/>
<line x1="472.9" y1="124.5" x2="472.9" y2="212.5" stroke="#ccc" stroke-width="0.7"/>
<line x1="402.6" y1="149.9" x2="501.2" y2="149.9" stroke="#ccc" stroke-width="0.7"/>
<line x1="402.6" y1="164.5" x2="501.2" y2="164.5" stroke="#ccc" stroke-width="0.7"/>
<g fill="none" stroke="#c4c4c4" stroke-width="0.45">
<circle cx="426.16" cy="170.01" r="0.75"/>
<circle cx="447.63" cy="174.32" r="0.75"/>
<circle cx="425.15" cy="172.15" r="0.75"/>
<circle cx="442.63" cy="166.53" r="0.75"/>
<circle cx="426.24" cy="178.09" r="0.75"/>
<circle cx="444.83" cy="169.54" r="0.75"/>
<circle cx="452.84" cy="167.08" r="0.75"/>
<circle cx="437.02" cy="173.16" r="0.75"/>
<circle cx="462.86" cy="173.23" r="0.75"/>
<circle cx="430.41" cy="177.34" r="0.75"/>
<circle cx="438.93" cy="171.13" r="0.75"/>
<circle cx="434.67" cy="172.14" r="0.75"/>
<circle cx="440.64" cy="168.49" r="0.75"/>
<circle cx="448.61" cy="170.82" r="0.75"/>
<circle cx="420.69" cy="168.44" r="0.75"/>
<circle cx="424.27" cy="172.66" r="0.75"/>
<circle cx="423.75" cy="171.83" r="0.75"/>
<circle cx="430.47" cy="170.8" r="0.75"/>
<circle cx="469.92" cy="172.07" r="0.75"/>
<circle cx="446.15" cy="178.24" r="0.75"/>
<circle cx="435.22" cy="168.63" r="0.75"/>
<circle cx="437.11" cy="170.05" r="0.75"/>
<circle cx="439" cy="176.7" r="0.75"/>
<circle cx="443.45" cy="175.76" r="0.75"/>
<circle cx="456.11" cy="174.28" r="0.75"/>
<circle cx="444.64" cy="171.82" r="0.75"/>
<circle cx="447.21" cy="174.75" r="0.75"/>
<circle cx="447.66" cy="172.44" r="0.75"/>
<circle cx="450.22" cy="168.82" r="0.75"/>
<circle cx="439.37" cy="175.61" r="0.75"/>
<circle cx="445.43" cy="169.57" r="0.75"/>
<circle cx="453.88" cy="173.66" r="0.75"/>
<circle cx="443.37" cy="169.38" r="0.75"/>
<circle cx="440.74" cy="170.83" r="0.75"/>
<circle cx="439.76" cy="174.73" r="0.75"/>
<circle cx="428.19" cy="173.75" r="0.75"/>
<circle cx="443.72" cy="164.53" r="0.75"/>
<circle cx="447.45" cy="166.74" r="0.75"/>
<circle cx="445.52" cy="168.46" r="0.75"/>
<circle cx="439.78" cy="168.1" r="0.75"/>
<circle cx="455.16" cy="173.42" r="0.75"/>
<circle cx="431.29" cy="162.36" r="0.75"/>
<circle cx="440.37" cy="167.14" r="0.75"/>
<circle cx="446.45" cy="177.33" r="0.75"/>
<circle cx="461.54" cy="163.25" r="0.75"/>
<circle cx="439.71" cy="168.2" r="0.75"/>
<circle cx="439.23" cy="176.11" r="0.75"/>
<circle cx="436.92" cy="170.03" r="0.75"/>
<circle cx="448.79" cy="168.41" r="0.75"/>
<circle cx="438.58" cy="165.28" r="0.75"/>
<circle cx="430.64" cy="168" r="0.75"/>
<circle cx="448.76" cy="173.25" r="0.75"/>
<circle cx="420.68" cy="176.22" r="0.75"/>
<circle cx="440.29" cy="169.28" r="0.75"/>
<circle cx="452.98" cy="176.69" r="0.75"/>
<circle cx="438.02" cy="168.7" r="0.75"/>
<circle cx="436.48" cy="183.3" r="0.75"/>
<circle cx="445.8" cy="160.65" r="0.75"/>
<circle cx="447.72" cy="176.27" r="0.75"/>
<circle cx="434.01" cy="170.76" r="0.75"/>
<circle cx="462.08" cy="168.85" r="0.75"/>
<circle cx="439.1" cy="164.3" r="0.75"/>
<circle cx="437.21" cy="162.83" r="0.75"/>
<circle cx="431.38" cy="174.13" r="0.75"/>
<circle cx="444.97" cy="164.95" r="0.75"/>
<circle cx="444.33" cy="170.38" r="0.75"/>
<circle cx="420.38" cy="175.28" r="0.75"/>
<circle cx="432.1" cy="174.42" r="0.75"/>
<circle cx="443.67" cy="173.46" r="0.75"/>
<circle cx="445.62" cy="171.44" r="0.75"/>
<circle cx="434.78" cy="171.26" r="0.75"/>
<circle cx="442.15" cy="167.69" r="0.75"/>
<circle cx="433.38" cy="172.96" r="0.75"/>
<circle cx="424.81" cy="164.08" r="0.75"/>
<circle cx="452.04" cy="172.7" r="0.75"/>
<circle cx="433.38" cy="177.81" r="0.75"/>
<circle cx="439.65" cy="170.84" r="0.75"/>
<circle cx="459.1" cy="170.64" r="0.75"/>
<circle cx="430.48" cy="183.66" r="0.75"/>
<circle cx="451.63" cy="170.92" r="0.75"/>
<circle cx="422.44" cy="170.96" r="0.75"/>
<circle cx="422.44" cy="155" r="0.75"/>
<circle cx="448.82" cy="169.07" r="0.75"/>
<circle cx="436.31" cy="182.18" r="0.75"/>
<circle cx="436.78" cy="179.35" r="0.75"/>
<circle cx="459.73" cy="170.97" r="0.75"/>
<circle cx="447.61" cy="155.98" r="0.75"/>
<circle cx="468.18" cy="166.69" r="0.75"/>
<circle cx="442.56" cy="157.49" r="0.75"/>
<circle cx="461.8" cy="165.82" r="0.75"/>
<circle cx="449.33" cy="164.52" r="0.75"/>
<circle cx="445.34" cy="164.46" r="0.75"/>
<circle cx="465.01" cy="158.34" r="0.75"/>
<circle cx="471.5" cy="161.81" r="0.75"/>
<circle cx="453.84" cy="165.81" r="0.75"/>
<circle cx="453.93" cy="167.28" r="0.75"/>
<circle cx="440.6" cy="158.31" r="0.75"/>
<circle cx="466.54" cy="157.68" r="0.75"/>
<circle cx="465.67" cy="160.29" r="0.75"/>
<circle cx="449.14" cy="161.03" r="0.75"/>
<circle cx="451.91" cy="166.38" r="0.75"/>
<circle cx="441.29" cy="168.04" r="0.75"/>
<circle cx="454.88" cy="160.75" r="0.75"/>
<circle cx="451.1" cy="155.04" r="0.75"/>
<circle cx="456.37" cy="158.82" r="0.75"/>
<circle cx="464.75" cy="165.08" r="0.75"/>
<circle cx="439.05" cy="158.06" r="0.75"/>
<circle cx="449.38" cy="155.57" r="0.75"/>
<circle cx="457.65" cy="156.93" r="0.75"/>
<circle cx="461.08" cy="170.71" r="0.75"/>
<circle cx="482.01" cy="176.1" r="0.75"/>
<circle cx="476.06" cy="174.33" r="0.75"/>
<circle cx="482.2" cy="164.51" r="0.75"/>
<circle cx="483.18" cy="183.44" r="0.75"/>
<circle cx="476.73" cy="188.77" r="0.75"/>
<circle cx="478.7" cy="166.63" r="0.75"/>
<circle cx="476.03" cy="169.27" r="0.75"/>
<circle cx="480.04" cy="163.6" r="0.75"/>
<circle cx="475.8" cy="177.26" r="0.75"/>
<circle cx="476.03" cy="158.05" r="0.75"/>
<circle cx="483.5" cy="172.01" r="0.75"/>
<circle cx="480.02" cy="170.24" r="0.75"/>
<circle cx="479.93" cy="172.64" r="0.75"/>
<circle cx="477.76" cy="180.44" r="0.75"/>
</g>
<rect x="430.7" y="151.4" width="1.2" height="1.2" fill="#b03040"/>
<rect x="433.4" y="151.7" width="1.2" height="1.2" fill="#b03040"/>
<rect x="437.4" y="152.4" width="1.2" height="1.2" fill="#b03040"/>
<rect x="445.4" y="152.4" width="1.2" height="1.2" fill="#b03040"/>
<rect x="429.4" y="154.1" width="1.2" height="1.2" fill="#b03040"/>
<rect x="432.8" y="155.7" width="1.2" height="1.2" fill="#b03040"/>
<rect x="438.8" y="155.4" width="1.2" height="1.2" fill="#b03040"/>
<rect x="437.4" y="161.1" width="1.2" height="1.2" fill="#b03040"/>
<rect x="443.4" y="167.2" width="1.2" height="1.2" fill="#b03040"/>
<rect x="457.7" y="139.6" width="1.2" height="1.2" fill="#b03040"/>
<rect x="455.6" y="150.1" width="1.2" height="1.2" fill="#b03040"/>
<rect x="460.4" y="150.1" width="1.2" height="1.2" fill="#b03040"/>
<rect x="449.4" y="157.4" width="1.2" height="1.2" fill="#b03040"/>
<rect x="425.4" y="149.4" width="1.2" height="1.2" fill="#b03040"/>
<g stroke="#2fc0c8" stroke-width="0.7">
<path d="M429.98 137.78h1.6M430.78 136.98v1.6"/>
<path d="M438.06 142.26h1.6M438.86 141.46v1.6"/>
<path d="M432.91 142.27h1.6M433.71 141.47v1.6"/>
<path d="M436.8 144.27h1.6M437.6 143.47v1.6"/>
<path d="M435.73 141.77h1.6M436.53 140.97v1.6"/>
<path d="M429.25 144.68h1.6M430.05 143.88v1.6"/>
<path d="M427.54 145.45h1.6M428.34 144.65v1.6"/>
<path d="M440.48 149.12h1.6M441.28 148.32v1.6"/>
<path d="M432.55 144.18h1.6M433.35 143.38v1.6"/>
<path d="M430.13 142.17h1.6M430.93 141.37v1.6"/>
<path d="M442.11 142.23h1.6M442.91 141.43v1.6"/>
<path d="M433.42 144.18h1.6M434.22 143.38v1.6"/>
<path d="M433.5 139.87h1.6M434.3 139.07v1.6"/>
<path d="M431.68 145.69h1.6M432.48 144.89v1.6"/>
<path d="M425.72 145.58h1.6M426.52 144.78v1.6"/>
<path d="M424.86 139.34h1.6M425.66 138.54v1.6"/>
<path d="M436.81 143.12h1.6M437.61 142.32v1.6"/>
<path d="M444.38 144.31h1.6M445.18 143.51v1.6"/>
<path d="M439.54 140.18h1.6M440.34 139.38v1.6"/>
<path d="M423.79 146.85h1.6M424.59 146.05v1.6"/>
<path d="M428.03 139.88h1.6M428.83 139.08v1.6"/>
<path d="M443.26 145.92h1.6M444.06 145.12v1.6"/>
<path d="M441.56 143.53h1.6M442.36 142.73v1.6"/>
<path d="M431.69 144.01h1.6M432.49 143.21v1.6"/>
<path d="M432.16 147.59h1.6M432.96 146.79v1.6"/>
<path d="M427.52 145.94h1.6M428.32 145.14v1.6"/>
<path d="M437.74 136.54h1.6M438.54 135.74v1.6"/>
<path d="M453.1 143.4h1.6M453.9 142.6v1.6"/>
<path d="M422.59 143.6h1.6M423.39 142.8v1.6"/>
<path d="M427.95 136.84h1.6M428.75 136.04v1.6"/>
<path d="M438.29 144.51h1.6M439.09 143.71v1.6"/>
<path d="M440.79 140.93h1.6M441.59 140.13v1.6"/>
<path d="M423.25 143.95h1.6M424.05 143.15v1.6"/>
<path d="M432.74 142.39h1.6M433.54 141.59v1.6"/>
<path d="M435.29 143.41h1.6M436.09 142.61v1.6"/>
<path d="M435.68 144.11h1.6M436.48 143.31v1.6"/>
<path d="M428.24 138.16h1.6M429.04 137.36v1.6"/>
<path d="M436.85 141.21h1.6M437.65 140.41v1.6"/>
<path d="M423.45 142.92h1.6M424.25 142.12v1.6"/>
<path d="M439.99 146.1h1.6M440.79 145.3v1.6"/>
<path d="M441.9 143.55h1.6M442.7 142.75v1.6"/>
<path d="M437.14 142.82h1.6M437.94 142.02v1.6"/>
<path d="M435.88 139.05h1.6M436.68 138.25v1.6"/>
<path d="M431.62 138.03h1.6M432.42 137.23v1.6"/>
<path d="M429.02 145.08h1.6M429.82 144.28v1.6"/>
<path d="M439.25 145.46h1.6M440.05 144.66v1.6"/>
<path d="M431.84 139.88h1.6M432.64 139.08v1.6"/>
<path d="M442.67 147.47h1.6M443.47 146.67v1.6"/>
<path d="M437.85 137.12h1.6M438.65 136.32v1.6"/>
<path d="M442.57 143.13h1.6M443.37 142.33v1.6"/>
<path d="M430.27 143.29h1.6M431.07 142.49v1.6"/>
<path d="M426.48 143.2h1.6M427.28 142.4v1.6"/>
<path d="M433.1 142.86h1.6M433.9 142.06v1.6"/>
<path d="M442.48 143.1h1.6M443.28 142.3v1.6"/>
<path d="M424.39 139.48h1.6M425.19 138.68v1.6"/>
<path d="M427.03 143.71h1.6M427.83 142.91v1.6"/>
<path d="M433.46 143.42h1.6M434.26 142.62v1.6"/>
<path d="M427.51 143.15h1.6M428.31 142.35v1.6"/>
<path d="M449.34 144.16h1.6M450.14 143.36v1.6"/>
<path d="M433.45 139.27h1.6M434.25 138.47v1.6"/>
<path d="M439.48 140.29h1.6M440.28 139.49v1.6"/>
<path d="M440.29 148.01h1.6M441.09 147.21v1.6"/>
<path d="M428.46 142.09h1.6M429.26 141.29v1.6"/>
<path d="M437.8 138.79h1.6M438.6 137.99v1.6"/>
<path d="M437.6 143.12h1.6M438.4 142.32v1.6"/>
<path d="M434.65 143.04h1.6M435.45 142.24v1.6"/>
<path d="M436.07 140.54h1.6M436.87 139.74v1.6"/>
<path d="M432.05 144.75h1.6M432.85 143.95v1.6"/>
<path d="M428.53 139.35h1.6M429.33 138.55v1.6"/>
<path d="M443.16 139.64h1.6M443.96 138.84v1.6"/>
<path d="M440.25 140.09h1.6M441.05 139.29v1.6"/>
<path d="M434.37 140.57h1.6M435.17 139.77v1.6"/>
<path d="M427.17 143.02h1.6M427.97 142.22v1.6"/>
<path d="M429.35 140.39h1.6M430.15 139.59v1.6"/>
<path d="M430.41 142.75h1.6M431.21 141.95v1.6"/>
<path d="M437.12 138.62h1.6M437.92 137.82v1.6"/>
<path d="M428.96 145.1h1.6M429.76 144.3v1.6"/>
<path d="M439.98 145.58h1.6M440.78 144.78v1.6"/>
<path d="M437.48 144.06h1.6M438.28 143.26v1.6"/>
<path d="M433.66 147.6h1.6M434.46 146.8v1.6"/>
<path d="M439.27 143.86h1.6M440.07 143.06v1.6"/>
<path d="M428.22 136.58h1.6M429.02 135.78v1.6"/>
<path d="M439.26 132.53h1.6M440.06 131.73v1.6"/>
<path d="M437.18 143.43h1.6M437.98 142.63v1.6"/>
<path d="M435.12 137.91h1.6M435.92 137.11v1.6"/>
<path d="M434.2 141.17h1.6M435 140.37v1.6"/>
<path d="M437.92 145.02h1.6M438.72 144.22v1.6"/>
<path d="M435.26 143.87h1.6M436.06 143.07v1.6"/>
<path d="M425.85 139.98h1.6M426.65 139.18v1.6"/>
<path d="M438.94 142.24h1.6M439.74 141.44v1.6"/>
<path d="M428.16 148.12h1.6M428.96 147.32v1.6"/>
<path d="M437.71 142.72h1.6M438.51 141.92v1.6"/>
<path d="M422.85 142.62h1.6M423.65 141.82v1.6"/>
<path d="M423.96 142.52h1.6M424.76 141.72v1.6"/>
<path d="M435.36 141.44h1.6M436.16 140.64v1.6"/>
<path d="M435.87 141.96h1.6M436.67 141.16v1.6"/>
<path d="M426.57 143.53h1.6M427.37 142.73v1.6"/>
<path d="M430.88 143.11h1.6M431.68 142.31v1.6"/>
<path d="M436.23 140.7h1.6M437.03 139.9v1.6"/>
<path d="M445.58 149.71h1.6M446.38 148.91v1.6"/>
<path d="M437.13 143.01h1.6M437.93 142.21v1.6"/>
<path d="M449.97 139.81h1.6M450.77 139.01v1.6"/>
<path d="M423.06 141.31h1.6M423.86 140.51v1.6"/>
<path d="M430.81 139.64h1.6M431.61 138.84v1.6"/>
<path d="M427.15 142.74h1.6M427.95 141.94v1.6"/>
<path d="M433.48 142.72h1.6M434.28 141.92v1.6"/>
<path d="M430.38 147.64h1.6M431.18 146.84v1.6"/>
<path d="M437.54 139.62h1.6M438.34 138.82v1.6"/>
<path d="M433.91 145.32h1.6M434.71 144.52v1.6"/>
<path d="M435.77 140.85h1.6M436.57 140.05v1.6"/>
<path d="M433.18 142.49h1.6M433.98 141.69v1.6"/>
<path d="M444.03 145.61h1.6M444.83 144.81v1.6"/>
<path d="M430.56 147.84h1.6M431.36 147.04v1.6"/>
<path d="M429.59 144.54h1.6M430.39 143.74v1.6"/>
<path d="M427.8 144.41h1.6M428.6 143.61v1.6"/>
<path d="M446.69 143h1.6M447.49 142.2v1.6"/>
<path d="M433.6 136.23h1.6M434.4 135.43v1.6"/>
<path d="M433.97 147.35h1.6M434.77 146.55v1.6"/>
<path d="M437.14 145.1h1.6M437.94 144.3v1.6"/>
<path d="M445.61 145.97h1.6M446.41 145.17v1.6"/>
<path d="M430.4 146.99h1.6M431.2 146.19v1.6"/>
<path d="M435.05 145.32h1.6M435.85 144.52v1.6"/>
<path d="M433.93 143.51h1.6M434.73 142.71v1.6"/>
<path d="M430.18 139.78h1.6M430.98 138.98v1.6"/>
<path d="M440.79 142.27h1.6M441.59 141.47v1.6"/>
<path d="M428.21 145.47h1.6M429.01 144.67v1.6"/>
<path d="M436.23 135.69h1.6M437.03 134.89v1.6"/>
<path d="M431.25 144.67h1.6M432.05 143.87v1.6"/>
<path d="M429.6 145.54h1.6M430.4 144.74v1.6"/>
<path d="M427.72 143.03h1.6M428.52 142.23v1.6"/>
</g>
<rect x="491.67" y="180.07" width="1.4" height="1.4" fill="#8a2290"/>
<rect x="484.62" y="190.88" width="1.4" height="1.4" fill="#8a2290"/>
<rect x="487.24" y="180.24" width="1.4" height="1.4" fill="#8a2290"/>
<rect x="482.02" y="187.34" width="1.4" height="1.4" fill="#8a2290"/>
<rect x="486.31" y="173.28" width="1.4" height="1.4" fill="#8a2290"/>
<rect x="488.74" y="178.69" width="1.4" height="1.4" fill="#8a2290"/>
<rect x="485.3" y="177.92" width="1.4" height="1.4" fill="#8a2290"/>
<rect x="486.42" y="165.51" width="1.4" height="1.4" fill="#8a2290"/>
<rect x="482.36" y="182.53" width="1.4" height="1.4" fill="#8a2290"/>
<rect x="491.07" y="181.84" width="1.4" height="1.4" fill="#8a2290"/>
<rect x="491.64" y="180.36" width="1.4" height="1.4" fill="#8a2290"/>
<rect x="487" y="182.55" width="1.4" height="1.4" fill="#8a2290"/>
<rect x="481.46" y="186.56" width="1.4" height="1.4" fill="#8a2290"/>
<rect x="494.5" y="175.74" width="1.4" height="1.4" fill="#8a2290"/>
<rect x="488.67" y="173.68" width="1.4" height="1.4" fill="#8a2290"/>
<rect x="488.53" y="173.22" width="1.4" height="1.4" fill="#8a2290"/>
<rect x="485.5" y="181.56" width="1.4" height="1.4" fill="#8a2290"/>
<rect x="490.04" y="182.42" width="1.4" height="1.4" fill="#8a2290"/>
<rect x="481.64" y="181.58" width="1.4" height="1.4" fill="#8a2290"/>
<rect x="484.49" y="175.96" width="1.4" height="1.4" fill="#8a2290"/>
<rect x="483.86" y="187.17" width="1.4" height="1.4" fill="#8a2290"/>
<rect x="485.26" y="169.67" width="1.4" height="1.4" fill="#8a2290"/>
<rect x="486.29" y="178.99" width="1.4" height="1.4" fill="#8a2290"/>
<rect x="486.5" y="178.09" width="1.4" height="1.4" fill="#8a2290"/>
<rect x="489.84" y="170.72" width="1.4" height="1.4" fill="#8a2290"/>
<rect x="480.5" y="170.95" width="1.4" height="1.4" fill="#8a2290"/>
<rect x="486.46" y="182.21" width="1.4" height="1.4" fill="#8a2290"/>
<rect x="495.17" y="181.2" width="1.4" height="1.4" fill="#8a2290"/>
<rect x="493.52" y="173.58" width="1.4" height="1.4" fill="#8a2290"/>
<rect x="482.73" y="176.79" width="1.4" height="1.4" fill="#8a2290"/>
<rect x="489.14" y="180.9" width="1.4" height="1.4" fill="#8a2290"/>
<rect x="478.02" y="182.37" width="1.4" height="1.4" fill="#8a2290"/>
<rect x="485.77" y="187.48" width="1.4" height="1.4" fill="#8a2290"/>
<rect x="493.09" y="181.7" width="1.4" height="1.4" fill="#8a2290"/>
<rect x="485.04" y="182.07" width="1.4" height="1.4" fill="#8a2290"/>
<rect x="483.63" y="185.26" width="1.4" height="1.4" fill="#8a2290"/>
<rect x="486.81" y="177.97" width="1.4" height="1.4" fill="#8a2290"/>
<rect x="484.63" y="180.67" width="1.4" height="1.4" fill="#8a2290"/>
<rect x="481.43" y="176.57" width="1.4" height="1.4" fill="#8a2290"/>
<rect x="483.75" y="178.62" width="1.4" height="1.4" fill="#8a2290"/>
<rect x="483.18" y="183.51" width="1.4" height="1.4" fill="#8a2290"/>
<rect x="487.25" y="188.17" width="1.4" height="1.4" fill="#8a2290"/>
<rect x="495.42" y="180.31" width="1.4" height="1.4" fill="#8a2290"/>
<rect x="486.2" y="184.98" width="1.4" height="1.4" fill="#8a2290"/>
<rect x="492.25" y="170.78" width="1.4" height="1.4" fill="#8a2290"/>
</g>
<rect x="402.6" y="124.5" width="98.6" height="88" fill="none" stroke="#aaa" stroke-width="0.6"/>
<line x1="400.8" y1="209.78" x2="402.6" y2="209.78" stroke="#666" stroke-width="0.5"/>
<text x="399.8" y="209.78" font-size="5.4" text-anchor="middle" fill="#444" stroke="#444" stroke-width="0.14" transform="rotate(-90 399.8 209.78)">-0.2</text>
<line x1="408.18" y1="212.5" x2="408.18" y2="214.3" stroke="#666" stroke-width="0.5"/>
<text x="408.18" y="218.3" font-size="5.4" text-anchor="middle" fill="#444" stroke="#444" stroke-width="0.14">-0.2</text>
<line x1="400.8" y1="194.9" x2="402.6" y2="194.9" stroke="#666" stroke-width="0.5"/>
<text x="399.8" y="194.9" font-size="5.4" text-anchor="middle" fill="#444" stroke="#444" stroke-width="0.14" transform="rotate(-90 399.8 194.9)">0.0</text>
<line x1="424.3" y1="212.5" x2="424.3" y2="214.3" stroke="#666" stroke-width="0.5"/>
<text x="424.3" y="218.3" font-size="5.4" text-anchor="middle" fill="#444" stroke="#444" stroke-width="0.14">0.0</text>
<line x1="400.8" y1="180.02" x2="402.6" y2="180.02" stroke="#666" stroke-width="0.5"/>
<text x="399.8" y="180.02" font-size="5.4" text-anchor="middle" fill="#444" stroke="#444" stroke-width="0.14" transform="rotate(-90 399.8 180.02)">0.2</text>
<line x1="440.42" y1="212.5" x2="440.42" y2="214.3" stroke="#666" stroke-width="0.5"/>
<text x="440.42" y="218.3" font-size="5.4" text-anchor="middle" fill="#444" stroke="#444" stroke-width="0.14">0.2</text>
<line x1="400.8" y1="165.14" x2="402.6" y2="165.14" stroke="#666" stroke-width="0.5"/>
<text x="399.8" y="165.14" font-size="5.4" text-anchor="middle" fill="#444" stroke="#444" stroke-width="0.14" transform="rotate(-90 399.8 165.14)">0.4</text>
<line x1="456.54" y1="212.5" x2="456.54" y2="214.3" stroke="#666" stroke-width="0.5"/>
<text x="456.54" y="218.3" font-size="5.4" text-anchor="middle" fill="#444" stroke="#444" stroke-width="0.14">0.4</text>
<line x1="400.8" y1="150.26" x2="402.6" y2="150.26" stroke="#666" stroke-width="0.5"/>
<text x="399.8" y="150.26" font-size="5.4" text-anchor="middle" fill="#444" stroke="#444" stroke-width="0.14" transform="rotate(-90 399.8 150.26)">0.6</text>
<line x1="472.66" y1="212.5" x2="472.66" y2="214.3" stroke="#666" stroke-width="0.5"/>
<text x="472.66" y="218.3" font-size="5.4" text-anchor="middle" fill="#444" stroke="#444" stroke-width="0.14">0.6</text>
<line x1="400.8" y1="135.38" x2="402.6" y2="135.38" stroke="#666" stroke-width="0.5"/>
<text x="399.8" y="135.38" font-size="5.4" text-anchor="middle" fill="#444" stroke="#444" stroke-width="0.14" transform="rotate(-90 399.8 135.38)">0.8</text>
<line x1="488.78" y1="212.5" x2="488.78" y2="214.3" stroke="#666" stroke-width="0.5"/>
<text x="488.78" y="218.3" font-size="5.4" text-anchor="middle" fill="#444" stroke="#444" stroke-width="0.14">0.8</text>
<circle cx="468" cy="127.4" r="0.7" fill="none" stroke="#bbb" stroke-width="0.4"/>
<text x="471.3" y="128.5" font-size="3.8" text-anchor="start" fill="#333" stroke="#333" stroke-width="0.14">All Cell</text>
<circle cx="468" cy="131.72" r="0.7" fill="none" stroke="#999" stroke-width="0.4"/>
<text x="471.3" y="132.82" font-size="3.8" text-anchor="start" fill="#333" stroke="#333" stroke-width="0.14">Considered Cells</text>
<rect x="467.3" y="135.34" width="1.4" height="1.4" fill="#111"/>
<text x="471.3" y="137.14" font-size="3.8" text-anchor="start" fill="#333" stroke="#333" stroke-width="0.14">Training beta</text>
<rect x="467.3" y="139.66" width="1.4" height="1.4" fill="#8a2060"/>
<text x="471.3" y="141.46" font-size="3.8" text-anchor="start" fill="#333" stroke="#333" stroke-width="0.14">Training not_beta</text>
<rect x="467.3" y="143.98" width="1.4" height="1.4" fill="#8a2290"/>
<text x="471.3" y="145.78" font-size="3.8" text-anchor="start" fill="#333" stroke="#333" stroke-width="0.14">Selected beta</text>
<path d="M467.1 149h1.8M468 148.1v1.8" stroke="#2fc0c8" stroke-width="0.5"/>
<text x="471.3" y="150.1" font-size="3.8" text-anchor="start" fill="#333" stroke="#333" stroke-width="0.14">Selected not_beta</text>
<text x="390.2" y="164.2" font-size="9.4" text-anchor="middle" fill="#222" stroke="#222" stroke-width="0.28" transform="rotate(-90 390.2 164.2)">non β-cell signature</text>
<text x="458.2" y="226.4" font-size="9.5" text-anchor="middle" fill="#222" stroke="#222" stroke-width="0.28">β-cell signature</text>
<line x1="456.8" y1="229.5" x2="456.8" y2="238.5" stroke="#222" stroke-width="1.25"/>
<polygon points="456.8,244.6 453,238 460.6,238" fill="#222"/>
<text x="453.1" y="251.2" font-size="7.8" text-anchor="middle" fill="#222" stroke="#222" stroke-width="0.18">Refined gene signature</text>
<clipPath id="cr"><rect x="403" y="261.3" width="99.5" height="88.3"/></clipPath>
<g clip-path="url(#cr)">
<path d="M450.9 315.57H456.37V316.23H450.9ZM442.57 314.91H469.68V315.57H442.57ZM437.25 314.25H476.26V314.91H437.25ZM437.49 313.59H477.23V314.25H437.49ZM436.79 312.93H478.66V313.59H436.79ZM435.8 312.27H480.68V312.93H435.8ZM433.08 311.61H480.37V312.27H433.08ZM433.89 310.95H482.95V311.61H433.89ZM430.36 310.29H482.05V310.95H430.36ZM430.53 309.63H483.91V310.29H430.53ZM428.26 308.97H485.33V309.63H428.26ZM428.79 308.31H485.47V308.97H428.79ZM432.54 307.65H486.51V308.31H432.54ZM431.54 306.99H485.67V307.65H431.54ZM432.13 306.33H486.84V306.99H432.13ZM429.54 305.67H487.96V306.33H429.54ZM429.93 305.01H489.11V305.67H429.93ZM432.46 304.35H489.11V305.01H432.46ZM429 303.69H488.93V304.35H429ZM430.87 303.03H488.89V303.69H430.87ZM430.01 302.37H489.8V303.03H430.01ZM428.08 301.71H489.24V302.37H428.08ZM430.98 301.05H489.81V301.71H430.98ZM429.4 300.39H489.46V301.05H429.4ZM428.22 299.73H491.03V300.39H428.22ZM426.8 299.07H491.81V299.73H426.8ZM429.77 298.41H490.97V299.07H429.77ZM431.14 297.75H492.09V298.41H431.14ZM431.68 297.09H492.25V297.75H431.68ZM427.7 296.43H492.99V297.09H427.7ZM427.03 295.77H494.09V296.43H427.03ZM427.94 295.11H494.03V295.77H427.94ZM428.49 294.45H494.86V295.11H428.49ZM427.02 293.79H494.35V294.45H427.02ZM428.93 293.13H495.5V293.79H428.93ZM431.09 292.47H495.95V293.13H431.09ZM427.86 291.81H495.86V292.47H427.86ZM426.85 291.15H497.94V291.81H426.85ZM429.14 290.49H497.65V291.15H429.14ZM431.03 289.83H498.63V290.49H431.03ZM430.18 289.17H499.66V289.83H430.18ZM430.83 288.51H498.29V289.17H430.83ZM430.63 287.85H499.45V288.51H430.63ZM429.41 287.19H498.14V287.85H429.41ZM431.27 286.53H499.08V287.19H431.27ZM428.92 285.87H498.18V286.53H428.92ZM427.65 285.21H498.25V285.87H427.65ZM430.76 284.55H499.26V285.21H430.76ZM430.51 283.89H498.28V284.55H430.51ZM427.47 283.23H499.89V283.89H427.47ZM431.87 282.57H499.75V283.23H431.87ZM431.75 281.91H499.24V282.57H431.75ZM430.02 281.25H499.75V281.91H430.02ZM433.36 280.59H499.45V281.25H433.36ZM431.74 279.93H499.17V280.59H431.74ZM429.1 279.27H498.93V279.93H429.1ZM431.97 278.61H499.12V279.27H431.97ZM431.61 277.95H500.37V278.61H431.61ZM430.91 277.29H498.84V277.95H430.91ZM431.55 276.63H498.83V277.29H431.55ZM434.66 275.97H499.73V276.63H434.66ZM436.73 275.31H499.26V275.97H436.73ZM437.46 274.65H500.51V275.31H437.46ZM437.63 273.99H500.34V274.65H437.63ZM437.87 273.33H500.61V273.99H437.87ZM440.66 272.67H500.43V273.33H440.66ZM441.06 272.01H500.01V272.67H441.06ZM442.43 271.35H498.94V272.01H442.43ZM440.2 270.69H500.54V271.35H440.2ZM443.11 270.03H500.15V270.69H443.11ZM443.46 269.37H500.66V270.03H443.46ZM441.77 268.71H498.82V269.37H441.77ZM444.73 268.05H499.95V268.71H444.73ZM447.69 267.39H500.81V268.05H447.69ZM447.2 266.73H500.49V267.39H447.2ZM445.47 266.07H500.75V266.73H445.47ZM450.73 265.41H499.08V266.07H450.73ZM448.9 264.75H500.85V265.41H448.9ZM449.72 264.09H501.14V264.75H449.72ZM450.7 263.43H499.12V264.09H450.7Z" fill="#c4c4f6" opacity="1"/>
<path d="M428.82 345.6H501.1V346.26H428.82ZM432.07 344.94H501.72V345.6H432.07ZM432.58 344.28H500.76V344.94H432.58ZM430.6 343.62H500.66V344.28H430.6ZM431.7 342.96H501.78V343.62H431.7ZM429.1 342.3H500.05V342.96H429.1ZM428.88 341.64H500.35V342.3H428.88ZM429.06 340.98H500.41V341.64H429.06ZM432.26 340.32H500.81V340.98H432.26ZM431.56 339.66H501.78V340.32H431.56ZM433.33 339H501.15V339.66H433.33ZM432.08 338.34H500.18V339H432.08ZM428.31 337.68H500.62V338.34H428.31ZM428.42 337.02H499.37V337.68H428.42ZM428.32 336.36H500.63V337.02H428.32ZM432.29 335.7H500.84V336.36H432.29ZM432.42 335.04H500.81V335.7H432.42ZM430.11 334.38H498.23V335.04H430.11ZM428.94 333.72H498.27V334.38H428.94ZM429.95 333.06H496.92V333.72H429.95ZM433.02 332.4H496.56V333.06H433.02ZM428.57 331.74H495.65V332.4H428.57ZM429.43 331.08H495.65V331.74H429.43ZM432.52 330.42H494.32V331.08H432.52ZM431.68 329.76H493.64V330.42H431.68ZM428.23 329.1H493.86V329.76H428.23ZM431.31 328.44H492.01V329.1H431.31ZM429.57 327.78H493.03V328.44H429.57ZM432.79 327.12H492.42V327.78H432.79ZM428.59 326.46H490.35V327.12H428.59ZM432.69 325.8H489.65V326.46H432.69ZM428.19 325.14H489.36V325.8H428.19ZM431.59 324.48H488.62V325.14H431.59ZM432.77 323.82H488.48V324.48H432.77ZM428.24 323.16H485.82V323.82H428.24ZM430.64 322.5H483.92V323.16H430.64ZM431.14 321.84H482.76V322.5H431.14ZM429.02 321.18H482.9V321.84H429.02ZM432.12 320.52H481.43V321.18H432.12ZM432.24 319.86H479.51V320.52H432.24ZM432.24 319.2H478.58V319.86H432.24ZM433.04 318.54H474.58V319.2H433.04ZM434.09 317.88H470.97V318.54H434.09ZM435.1 317.22H465.41V317.88H435.1ZM438.23 316.56H460.79V317.22H438.23ZM445.89 315.9H457.04V316.56H445.89Z" fill="#f7bdbd" opacity="1"/>
<path d="M426.94 278.94H443.15V279.6H426.94ZM427.33 278.28H442.46V278.94H427.33ZM425.22 277.62H441.51V278.28H425.22ZM424.94 276.96H440.57V277.62H424.94ZM424.45 276.3H439.62V276.96H424.45ZM421.33 275.64H438.68V276.3H421.33ZM422.05 274.98H437.73V275.64H422.05ZM420.27 274.32H436.93V274.98H420.27ZM418.62 273.66H436.27V274.32H418.62ZM418.1 273H435.6V273.66H418.1ZM417.75 272.34H434.94V273H417.75ZM416.26 271.68H434.28V272.34H416.26ZM415.19 271.02H433.62V271.68H415.19ZM413.55 270.36H432.94V271.02H413.55ZM414.33 269.7H432.26V270.36H414.33ZM412.05 269.04H431.59V269.7H412.05ZM411.83 268.38H430.92V269.04H411.83ZM410.7 267.72H430.24V268.38H410.7ZM408.3 267.06H429.13V267.72H408.3ZM407.96 266.4H428.01V267.06H407.96ZM406.76 265.74H426.9V266.4H406.76ZM405.17 265.08H425.09V265.74H405.17ZM403.7 264.42H423.15V265.08H403.7ZM403.91 263.76H421.22V264.42H403.91Z" fill="#f8c4c4" opacity="0.75"/>
<path d="M414.8 340.98H434.56V341.64H414.8ZM415.23 340.32H434.56V340.98H415.23ZM415.21 339.66H434.56V340.32H415.21ZM414.47 339H434.56V339.66H414.47Z" fill="#c9c9f7" opacity="0.85"/>
<path d="M423.96 343.29H429.43V343.95H423.96ZM424.68 342.63H430.26V343.29H424.68ZM425.85 341.97H431.36V342.63H425.85ZM426.33 341.31H432.46V341.97H426.33ZM427.75 340.65H433.56V341.31H427.75ZM428.62 339.99H434.66V340.65H428.62ZM429.36 339.33H435.5V339.99H429.36ZM430.94 338.67H436.15V339.33H430.94ZM431.2 338.01H436.81V338.67H431.2ZM431.34 337.35H437.47V338.01H431.34ZM432.14 336.69H438.13V337.35H432.14ZM433.75 336.03H438.79V336.69H433.75ZM434.43 335.37H439.45V336.03H434.43ZM434.65 334.71H440.11V335.37H434.65ZM435.81 334.05H440.77V334.71H435.81ZM436.1 333.39H441.28V334.05H436.1ZM436.83 332.73H441.79V333.39H436.83ZM436.54 332.07H442.3V332.73H436.54ZM436.89 331.41H442.81V332.07H436.89ZM437.25 330.75H443.32V331.41H437.25ZM438.76 330.09H443.83V330.75H438.76ZM438.51 329.43H444.34V330.09H438.51ZM439.1 328.77H444.85V329.43H439.1ZM440.31 328.11H445.36V328.77H440.31ZM439.8 327.45H445.86V328.11H439.8ZM440.18 326.79H446.35V327.45H440.18ZM441.69 326.13H446.85V326.79H441.69ZM441.19 325.47H447.34V326.13H441.19Z" fill="#c9c9f7" opacity="0.6"/>
<path d="M481 344.41C480.24 344.03 478.12 343.33 476.41 342.1C474.7 340.87 472.63 339.02 470.74 337.02C468.85 335.02 467 332.4 465.07 330.09C463.13 327.78 460.8 325.39 459.13 323.16C457.46 320.93 456.07 317.94 455.08 316.69C454.09 315.45 453.91 316.63 453.19 315.7C452.47 314.77 451.75 313.23 450.76 311.12C449.77 309 448.42 305.53 447.25 303.03C446.08 300.53 444.87 298.22 443.74 296.1C442.62 293.98 441.62 292.22 440.5 290.29C439.38 288.37 438.16 286.39 436.99 284.55C435.82 282.71 435.01 280.81 433.48 279.27C431.95 277.73 429.34 276.55 427.81 275.31C426.28 274.07 425.47 272.97 424.3 271.81C423.13 270.66 421.96 269.3 420.79 268.38C419.62 267.46 417.87 266.65 417.28 266.3" fill="none" stroke="#c8101e" stroke-width="1.6" stroke-linejoin="round" stroke-linecap="round"/>
<path d="M427.81 343.79C428.75 343.22 431.59 341.9 433.48 340.39C435.37 338.87 437.44 336.65 439.15 334.71C440.86 332.77 441.99 331.08 443.74 328.77C445.5 326.46 448.01 322.94 449.68 320.85C451.35 318.76 452.81 317.09 453.73 316.23C454.65 315.37 454.29 317.34 455.19 315.7C456.09 314.06 457.89 309.48 459.13 306.4C460.37 303.31 461.29 299.87 462.64 297.19C463.99 294.5 465.48 293.17 467.23 290.29C468.99 287.42 471.06 282.7 473.17 279.93C475.29 277.16 477.45 275.78 479.92 273.66C482.39 271.54 486.67 268.27 488.02 267.19" fill="none" stroke="#1818c8" stroke-width="1.6" stroke-linejoin="round" stroke-linecap="round"/>
<rect x="410.71" y="264.02" width="1.8" height="1.8" fill="#c8101e"/>
<rect x="405.31" y="263.19" width="1.8" height="1.8" fill="#c8101e"/>
<rect x="408.01" y="263.69" width="1.8" height="1.8" fill="#c8101e"/>
<rect x="413.41" y="264.68" width="1.8" height="1.8" fill="#c8101e"/>
<rect x="483.61" y="344.11" width="1.8" height="1.8" fill="#c8101e"/>
<rect x="487.12" y="344.7" width="1.8" height="1.8" fill="#c8101e"/>
<rect x="497.38" y="344.7" width="1.8" height="1.8" fill="#c8101e"/>
<rect x="492.25" y="344.44" width="1.8" height="1.8" fill="#c8101e"/>
<rect x="492.79" y="264.61" width="1.8" height="1.8" fill="#1818c8"/>
<rect x="499.81" y="262.89" width="1.8" height="1.8" fill="#1818c8"/>
<rect x="496.3" y="263.69" width="1.8" height="1.8" fill="#1818c8"/>
<rect x="490.09" y="265.5" width="1.8" height="1.8" fill="#1818c8"/>
<rect x="422.32" y="344.11" width="1.8" height="1.8" fill="#1818c8"/>
<rect x="418" y="344.7" width="1.8" height="1.8" fill="#1818c8"/>
<rect x="408.82" y="344.7" width="1.8" height="1.8" fill="#1818c8"/>
<rect x="420.16" y="344.37" width="1.8" height="1.8" fill="#1818c8"/>
</g>
<rect x="403" y="261.3" width="99.5" height="88.3" fill="none" stroke="#999" stroke-width="0.6"/>
<line x1="401.2" y1="345.6" x2="403" y2="345.6" stroke="#666" stroke-width="0.5"/>
<text x="400.2" y="345.6" font-size="5" text-anchor="middle" fill="#444" stroke="#444" stroke-width="0.14" transform="rotate(-90 400.2 345.6)">0</text>
<line x1="401.2" y1="329.1" x2="403" y2="329.1" stroke="#666" stroke-width="0.5"/>
<text x="400.2" y="329.1" font-size="5" text-anchor="middle" fill="#444" stroke="#444" stroke-width="0.14" transform="rotate(-90 400.2 329.1)">50</text>
<line x1="401.2" y1="312.6" x2="403" y2="312.6" stroke="#666" stroke-width="0.5"/>
<text x="400.2" y="312.6" font-size="5" text-anchor="middle" fill="#444" stroke="#444" stroke-width="0.14" transform="rotate(-90 400.2 312.6)">100</text>
<line x1="401.2" y1="296.1" x2="403" y2="296.1" stroke="#666" stroke-width="0.5"/>
<text x="400.2" y="296.1" font-size="5" text-anchor="middle" fill="#444" stroke="#444" stroke-width="0.14" transform="rotate(-90 400.2 296.1)">150</text>
<line x1="401.2" y1="279.6" x2="403" y2="279.6" stroke="#666" stroke-width="0.5"/>
<text x="400.2" y="279.6" font-size="5" text-anchor="middle" fill="#444" stroke="#444" stroke-width="0.14" transform="rotate(-90 400.2 279.6)">200</text>
<line x1="401.2" y1="263.1" x2="403" y2="263.1" stroke="#666" stroke-width="0.5"/>
<text x="400.2" y="263.1" font-size="5" text-anchor="middle" fill="#444" stroke="#444" stroke-width="0.14" transform="rotate(-90 400.2 263.1)">250</text>
<line x1="413.5" y1="349.6" x2="413.5" y2="351.4" stroke="#666" stroke-width="0.5"/>
<text x="413.5" y="355.2" font-size="5.4" text-anchor="middle" fill="#444" stroke="#444" stroke-width="0.14">-1.5</text>
<line x1="427" y1="349.6" x2="427" y2="351.4" stroke="#666" stroke-width="0.5"/>
<text x="427" y="355.2" font-size="5.4" text-anchor="middle" fill="#444" stroke="#444" stroke-width="0.14">-1.0</text>
<line x1="440.5" y1="349.6" x2="440.5" y2="351.4" stroke="#666" stroke-width="0.5"/>
<text x="440.5" y="355.2" font-size="5.4" text-anchor="middle" fill="#444" stroke="#444" stroke-width="0.14">-0.5</text>
<line x1="454" y1="349.6" x2="454" y2="351.4" stroke="#666" stroke-width="0.5"/>
<text x="454" y="355.2" font-size="5.4" text-anchor="middle" fill="#444" stroke="#444" stroke-width="0.14">0.0</text>
<line x1="467.5" y1="349.6" x2="467.5" y2="351.4" stroke="#666" stroke-width="0.5"/>
<text x="467.5" y="355.2" font-size="5.4" text-anchor="middle" fill="#444" stroke="#444" stroke-width="0.14">0.5</text>
<line x1="481" y1="349.6" x2="481" y2="351.4" stroke="#666" stroke-width="0.5"/>
<text x="481" y="355.2" font-size="5.4" text-anchor="middle" fill="#444" stroke="#444" stroke-width="0.14">1.0</text>
<line x1="494.5" y1="349.6" x2="494.5" y2="351.4" stroke="#666" stroke-width="0.5"/>
<text x="494.5" y="355.2" font-size="5.4" text-anchor="middle" fill="#444" stroke="#444" stroke-width="0.14">1.5</text>
<text x="392.6" y="307.5" font-size="9.5" text-anchor="middle" fill="#222" stroke="#222" stroke-width="0.28" transform="rotate(-90 392.6 307.5)">Markers</text>
<line x1="381.7" y1="302.7" x2="370.2" y2="302.7" stroke="#222" stroke-width="1.25"/>
<polygon points="364,302.7 370.7,299.1 370.7,306.3" fill="#222"/>
<text x="303.8" y="251.7" font-size="7.8" text-anchor="middle" fill="#222" stroke="#222" stroke-width="0.18">Composition estimate</text>
<line x1="352.6" y1="254.9" x2="352.6" y2="354.2" stroke="#e04040" stroke-width="0.7" stroke-dasharray="1.6,1.2"/>
<line x1="260.2" y1="263.1" x2="260.7" y2="275.5" stroke="#222" stroke-width="0.8"/>
<path d="M260.7 275.2C260.85 275.6 261.2 277 261.6 277.6C262 278.2 261.85 278.18 263.1 278.8C264.35 279.42 265.4 280.38 269.1 281.3C272.8 282.22 279.23 283.13 285.3 284.3C291.37 285.47 299.43 286.95 305.5 288.3C311.57 289.65 316.65 290.88 321.7 292.4C326.75 293.92 332.1 295.72 335.8 297.4C339.5 299.08 341.72 300.65 343.9 302.5C346.08 304.35 347.62 306.65 348.9 308.5C350.18 310.35 350.98 311.23 351.6 313.6C352.22 315.97 352.43 321.18 352.6 322.7" fill="none" stroke="#111" stroke-width="1.9" stroke-linecap="round"/>
<rect x="259.3" y="262.2" width="1.8" height="1.8" fill="#333"/>
<rect x="351.7" y="321.9" width="1.8" height="1.8" fill="#111"/>
<rect x="256.3" y="254.9" width="99.9" height="99.3" fill="none" stroke="#555" stroke-width="0.7"/>
<line x1="254.5" y1="351.3" x2="256.3" y2="351.3" stroke="#666" stroke-width="0.5"/>
<text x="252.8" y="351.3" font-size="4.8" text-anchor="middle" fill="#444" stroke="#444" stroke-width="0.14" transform="rotate(-90 252.8 351.3)">0.00</text>
<line x1="254.5" y1="335.75" x2="256.3" y2="335.75" stroke="#666" stroke-width="0.5"/>
<text x="252.8" y="335.75" font-size="4.8" text-anchor="middle" fill="#444" stroke="#444" stroke-width="0.14" transform="rotate(-90 252.8 335.75)">0.05</text>
<line x1="254.5" y1="320.2" x2="256.3" y2="320.2" stroke="#666" stroke-width="0.5"/>
<text x="252.8" y="320.2" font-size="4.8" text-anchor="middle" fill="#444" stroke="#444" stroke-width="0.14" transform="rotate(-90 252.8 320.2)">0.10</text>
<line x1="254.5" y1="304.65" x2="256.3" y2="304.65" stroke="#666" stroke-width="0.5"/>
<text x="252.8" y="304.65" font-size="4.8" text-anchor="middle" fill="#444" stroke="#444" stroke-width="0.14" transform="rotate(-90 252.8 304.65)">0.15</text>
<line x1="254.5" y1="289.1" x2="256.3" y2="289.1" stroke="#666" stroke-width="0.5"/>
<text x="252.8" y="289.1" font-size="4.8" text-anchor="middle" fill="#444" stroke="#444" stroke-width="0.14" transform="rotate(-90 252.8 289.1)">0.20</text>
<line x1="254.5" y1="273.55" x2="256.3" y2="273.55" stroke="#666" stroke-width="0.5"/>
<text x="252.8" y="273.55" font-size="4.8" text-anchor="middle" fill="#444" stroke="#444" stroke-width="0.14" transform="rotate(-90 252.8 273.55)">0.25</text>
<line x1="254.5" y1="258" x2="256.3" y2="258" stroke="#666" stroke-width="0.5"/>
<text x="252.8" y="258" font-size="4.8" text-anchor="middle" fill="#444" stroke="#444" stroke-width="0.14" transform="rotate(-90 252.8 258)">0.30</text>
<line x1="260" y1="354.2" x2="260" y2="356" stroke="#555" stroke-width="0.6"/>
<line x1="278.5" y1="354.2" x2="278.5" y2="356" stroke="#555" stroke-width="0.6"/>
<line x1="305.5" y1="354.2" x2="305.5" y2="356" stroke="#555" stroke-width="0.6"/>
<line x1="324.6" y1="354.2" x2="324.6" y2="356" stroke="#555" stroke-width="0.6"/>
<line x1="352.3" y1="354.2" x2="352.3" y2="356" stroke="#555" stroke-width="0.6"/>
<text x="260" y="365.4" font-size="9.3" text-anchor="middle" fill="#222" stroke="#222" stroke-width="0.28">α</text>
<text x="308.8" y="365.4" font-size="9.3" text-anchor="middle" fill="#222" stroke="#222" stroke-width="0.28">0.5α/0.5β</text>
<text x="353" y="365.4" font-size="9.3" text-anchor="middle" fill="#222" stroke="#222" stroke-width="0.28">β</text>
<text x="241.8" y="304.5" font-size="9.3" text-anchor="middle" fill="#222" stroke="#222" stroke-width="0.28" transform="rotate(-90 241.8 304.5)">Residuals</text>
<line x1="226.2" y1="304.2" x2="214.8" y2="304.2" stroke="#222" stroke-width="1.25"/>
<polygon points="208.6,304.2 215.3,300.6 215.3,307.8" fill="#222"/>
<text x="145.4" y="251.7" font-size="7.8" text-anchor="middle" fill="#222" stroke="#222" stroke-width="0.18">Correlation test (2)</text>
<clipPath id="c2"><rect x="96.3" y="255.2" width="98.3" height="99.6"/></clipPath>
<g clip-path="url(#c2)">
<line x1="95.51" y1="356.04" x2="196.49" y2="253.96" stroke="#c4c4c4" stroke-width="0.7"/>
<line x1="146" y1="255.2" x2="146" y2="354.8" stroke="#c8c8c8" stroke-width="0.6" stroke-dasharray="1.2,1.2"/>
<line x1="96.3" y1="305" x2="194.6" y2="305" stroke="#c8c8c8" stroke-width="0.6" stroke-dasharray="1.2,1.2"/>
<g fill="none" stroke="#c9c9c9" stroke-width="0.45">
<circle cx="132.44" cy="294.03" r="0.8"/>
<circle cx="159.98" cy="283.3" r="0.8"/>
<circle cx="164.25" cy="320.8" r="0.8"/>
<circle cx="150.76" cy="286.47" r="0.8"/>
<circle cx="178.41" cy="299.83" r="0.8"/>
<circle cx="141.68" cy="283.61" r="0.8"/>
<circle cx="183.86" cy="344.97" r="0.8"/>
<circle cx="172.6" cy="307.29" r="0.8"/>
<circle cx="176.07" cy="285.38" r="0.8"/>
<circle cx="160.18" cy="279.12" r="0.8"/>
<circle cx="142.98" cy="283.63" r="0.8"/>
<circle cx="153.85" cy="295.66" r="0.8"/>
<circle cx="156.33" cy="279.26" r="0.8"/>
<circle cx="142.77" cy="293.02" r="0.8"/>
<circle cx="193.03" cy="336.52" r="0.8"/>
<circle cx="159.26" cy="324.7" r="0.8"/>
<circle cx="118.55" cy="276.92" r="0.8"/>
<circle cx="156.54" cy="293.5" r="0.8"/>
<circle cx="144.64" cy="288.72" r="0.8"/>
<circle cx="160.74" cy="296.13" r="0.8"/>
<circle cx="137.53" cy="265.89" r="0.8"/>
<circle cx="176.33" cy="329.92" r="0.8"/>
<circle cx="160.13" cy="312.73" r="0.8"/>
<circle cx="150.47" cy="313.69" r="0.8"/>
<circle cx="142.18" cy="275.69" r="0.8"/>
<circle cx="175.14" cy="317.89" r="0.8"/>
<circle cx="148.85" cy="288.79" r="0.8"/>
<circle cx="176.33" cy="328.71" r="0.8"/>
<circle cx="158.47" cy="331.59" r="0.8"/>
<circle cx="164.09" cy="315.77" r="0.8"/>
<circle cx="169.99" cy="336.79" r="0.8"/>
<circle cx="151.31" cy="296.48" r="0.8"/>
<circle cx="179.94" cy="321.08" r="0.8"/>
<circle cx="175.96" cy="329.9" r="0.8"/>
<circle cx="182.41" cy="319.45" r="0.8"/>
<circle cx="139.66" cy="287.05" r="0.8"/>
<circle cx="121.78" cy="260.99" r="0.8"/>
<circle cx="183.91" cy="337.95" r="0.8"/>
<circle cx="153.96" cy="290.69" r="0.8"/>
<circle cx="176.56" cy="314.41" r="0.8"/>
<circle cx="181.17" cy="338.69" r="0.8"/>
<circle cx="151.3" cy="302.39" r="0.8"/>
<circle cx="173.16" cy="312.46" r="0.8"/>
<circle cx="144.24" cy="290.54" r="0.8"/>
<circle cx="169.82" cy="313.73" r="0.8"/>
<circle cx="150.54" cy="323.5" r="0.8"/>
<circle cx="161.67" cy="297.02" r="0.8"/>
<circle cx="186.1" cy="330.53" r="0.8"/>
<circle cx="134.06" cy="276.39" r="0.8"/>
<circle cx="167.33" cy="283.26" r="0.8"/>
<circle cx="174.64" cy="302.67" r="0.8"/>
<circle cx="139.97" cy="291.82" r="0.8"/>
<circle cx="140.72" cy="274.13" r="0.8"/>
<circle cx="166.42" cy="315.43" r="0.8"/>
<circle cx="180.67" cy="326.29" r="0.8"/>
<circle cx="183.55" cy="318.54" r="0.8"/>
<circle cx="130.76" cy="280.19" r="0.8"/>
<circle cx="169" cy="299.87" r="0.8"/>
<circle cx="155.89" cy="288.85" r="0.8"/>
<circle cx="152.84" cy="296.08" r="0.8"/>
<circle cx="133.73" cy="310.4" r="0.8"/>
<circle cx="124.81" cy="283.62" r="0.8"/>
<circle cx="178.38" cy="317.56" r="0.8"/>
<circle cx="156.56" cy="315.92" r="0.8"/>
<circle cx="138.93" cy="295.41" r="0.8"/>
<circle cx="135.6" cy="264.59" r="0.8"/>
<circle cx="136.28" cy="276.79" r="0.8"/>
<circle cx="175.53" cy="329.9" r="0.8"/>
<circle cx="178.4" cy="307.72" r="0.8"/>
<circle cx="143.85" cy="300.29" r="0.8"/>
<circle cx="152.09" cy="293.5" r="0.8"/>
<circle cx="153.79" cy="282.45" r="0.8"/>
<circle cx="173.54" cy="330.04" r="0.8"/>
<circle cx="133.39" cy="279.36" r="0.8"/>
<circle cx="168.88" cy="311.07" r="0.8"/>
<circle cx="139.84" cy="300.5" r="0.8"/>
<circle cx="181.19" cy="335.77" r="0.8"/>
<circle cx="162.99" cy="333.11" r="0.8"/>
<circle cx="165.66" cy="320.49" r="0.8"/>
<circle cx="172.38" cy="318.8" r="0.8"/>
<circle cx="123.6" cy="265.05" r="0.8"/>
<circle cx="158.9" cy="285.75" r="0.8"/>
<circle cx="166.69" cy="315.29" r="0.8"/>
<circle cx="181.2" cy="333.04" r="0.8"/>
<circle cx="138.1" cy="304.68" r="0.8"/>
<circle cx="151.27" cy="290.8" r="0.8"/>
<circle cx="145.87" cy="292.42" r="0.8"/>
<circle cx="171.6" cy="300.41" r="0.8"/>
<circle cx="127.36" cy="273.07" r="0.8"/>
<circle cx="142.27" cy="295.03" r="0.8"/>
<circle cx="148.77" cy="280.76" r="0.8"/>
<circle cx="153.19" cy="265.73" r="0.8"/>
<circle cx="134.76" cy="289.67" r="0.8"/>
<circle cx="179.99" cy="312.87" r="0.8"/>
<circle cx="119.37" cy="280.97" r="0.8"/>
<circle cx="153.81" cy="286.34" r="0.8"/>
<circle cx="129.2" cy="268.87" r="0.8"/>
<circle cx="176.36" cy="321.58" r="0.8"/>
<circle cx="178.49" cy="328.98" r="0.8"/>
<circle cx="132.31" cy="266.87" r="0.8"/>
<circle cx="163.14" cy="287.25" r="0.8"/>
<circle cx="192.17" cy="329.98" r="0.8"/>
<circle cx="124.31" cy="273.29" r="0.8"/>
<circle cx="179.34" cy="338.64" r="0.8"/>
<circle cx="154.25" cy="277.41" r="0.8"/>
<circle cx="155.19" cy="316.48" r="0.8"/>
<circle cx="170.5" cy="313.54" r="0.8"/>
<circle cx="144.52" cy="280.15" r="0.8"/>
<circle cx="181.8" cy="323.21" r="0.8"/>
<circle cx="155.09" cy="309.25" r="0.8"/>
<circle cx="146.19" cy="287.78" r="0.8"/>
<circle cx="150.74" cy="315.93" r="0.8"/>
<circle cx="152.98" cy="269.05" r="0.8"/>
<circle cx="146.42" cy="296.16" r="0.8"/>
<circle cx="166.45" cy="316.11" r="0.8"/>
<circle cx="176.21" cy="318.63" r="0.8"/>
<circle cx="134.77" cy="296.7" r="0.8"/>
<circle cx="135.08" cy="293" r="0.8"/>
<circle cx="146.52" cy="295.08" r="0.8"/>
<circle cx="177.59" cy="330.47" r="0.8"/>
<circle cx="182.01" cy="324.73" r="0.8"/>
<circle cx="187.79" cy="327.01" r="0.8"/>
<circle cx="120.43" cy="263.16" r="0.8"/>
<circle cx="163.94" cy="323.25" r="0.8"/>
<circle cx="146.92" cy="286.59" r="0.8"/>
<circle cx="186.32" cy="296.07" r="0.8"/>
<circle cx="163.13" cy="322.34" r="0.8"/>
<circle cx="176.49" cy="321.52" r="0.8"/>
<circle cx="157.38" cy="285.37" r="0.8"/>
<circle cx="172" cy="316.83" r="0.8"/>
<circle cx="118.96" cy="267.91" r="0.8"/>
<circle cx="125" cy="276.95" r="0.8"/>
<circle cx="142.49" cy="282.8" r="0.8"/>
<circle cx="175.26" cy="325.16" r="0.8"/>
<circle cx="129.75" cy="280.59" r="0.8"/>
<circle cx="172.67" cy="331.16" r="0.8"/>
<circle cx="134.19" cy="283.68" r="0.8"/>
<circle cx="155.48" cy="289.08" r="0.8"/>
<circle cx="173.59" cy="295.83" r="0.8"/>
<circle cx="167.6" cy="323.22" r="0.8"/>
<circle cx="179.39" cy="316.06" r="0.8"/>
<circle cx="166.21" cy="295.9" r="0.8"/>
<circle cx="130.88" cy="323.61" r="0.8"/>
<circle cx="141.3" cy="269.18" r="0.8"/>
<circle cx="171.93" cy="319.91" r="0.8"/>
<circle cx="155.27" cy="305.59" r="0.8"/>
<circle cx="143.98" cy="290.91" r="0.8"/>
<circle cx="155.91" cy="327.19" r="0.8"/>
<circle cx="166.55" cy="311.85" r="0.8"/>
<circle cx="178.63" cy="338.54" r="0.8"/>
<circle cx="150.46" cy="300.32" r="0.8"/>
<circle cx="127.23" cy="265.43" r="0.8"/>
<circle cx="139.27" cy="286.95" r="0.8"/>
<circle cx="165.73" cy="306.42" r="0.8"/>
<circle cx="125.13" cy="284.59" r="0.8"/>
<circle cx="137.19" cy="293.39" r="0.8"/>
<circle cx="161.46" cy="306.31" r="0.8"/>
<circle cx="148.16" cy="275.72" r="0.8"/>
<circle cx="167.4" cy="282.53" r="0.8"/>
<circle cx="181.65" cy="309.3" r="0.8"/>
<circle cx="151.63" cy="303.85" r="0.8"/>
<circle cx="175.58" cy="320.88" r="0.8"/>
<circle cx="158.99" cy="303.46" r="0.8"/>
<circle cx="165.03" cy="324.73" r="0.8"/>
<circle cx="161.11" cy="285.3" r="0.8"/>
<circle cx="122.05" cy="278.4" r="0.8"/>
<circle cx="130.08" cy="292.24" r="0.8"/>
<circle cx="127.06" cy="276.58" r="0.8"/>
<circle cx="170.45" cy="312.46" r="0.8"/>
<circle cx="146.07" cy="283.54" r="0.8"/>
<circle cx="124.12" cy="293.4" r="0.8"/>
<circle cx="149.55" cy="278.12" r="0.8"/>
<circle cx="122.05" cy="270.73" r="0.8"/>
<circle cx="135.98" cy="295.63" r="0.8"/>
<circle cx="132.35" cy="265.63" r="0.8"/>
<circle cx="135.71" cy="267.04" r="0.8"/>
<circle cx="162.47" cy="322.2" r="0.8"/>
<circle cx="124.16" cy="265.04" r="0.8"/>
<circle cx="171.74" cy="314.94" r="0.8"/>
<circle cx="112.3" cy="272.94" r="0.8"/>
<circle cx="167.56" cy="320.73" r="0.8"/>
<circle cx="170.76" cy="329.2" r="0.8"/>
<circle cx="129.94" cy="270.84" r="0.8"/>
<circle cx="152.71" cy="300.11" r="0.8"/>
<circle cx="128.83" cy="271.19" r="0.8"/>
<circle cx="151.49" cy="308.41" r="0.8"/>
<circle cx="134.59" cy="277.05" r="0.8"/>
<circle cx="159.9" cy="309.29" r="0.8"/>
<circle cx="157.06" cy="303.2" r="0.8"/>
<circle cx="160.59" cy="321.32" r="0.8"/>
<circle cx="156.12" cy="300.64" r="0.8"/>
<circle cx="153.91" cy="293.45" r="0.8"/>
<circle cx="146.73" cy="288.54" r="0.8"/>
<circle cx="145.66" cy="283.1" r="0.8"/>
<circle cx="171.56" cy="312.77" r="0.8"/>
<circle cx="135.22" cy="294.79" r="0.8"/>
<circle cx="161.8" cy="317.62" r="0.8"/>
<circle cx="129.02" cy="299.8" r="0.8"/>
<circle cx="159.7" cy="312.41" r="0.8"/>
<circle cx="181.72" cy="328.35" r="0.8"/>
<circle cx="169.47" cy="327.26" r="0.8"/>
<circle cx="187.12" cy="332.45" r="0.8"/>
<circle cx="181.59" cy="324.15" r="0.8"/>
<circle cx="187.38" cy="322.83" r="0.8"/>
<circle cx="163.37" cy="301.96" r="0.8"/>
<circle cx="162.73" cy="328.82" r="0.8"/>
<circle cx="186.66" cy="332.67" r="0.8"/>
<circle cx="185.49" cy="322.22" r="0.8"/>
<circle cx="143.74" cy="316.25" r="0.8"/>
<circle cx="153.05" cy="305.26" r="0.8"/>
<circle cx="151.91" cy="283.15" r="0.8"/>
<circle cx="139.13" cy="280.18" r="0.8"/>
<circle cx="154.95" cy="303.12" r="0.8"/>
<circle cx="174.1" cy="302.71" r="0.8"/>
<circle cx="130.62" cy="285.12" r="0.8"/>
<circle cx="139.43" cy="286.92" r="0.8"/>
<circle cx="126.25" cy="268.04" r="0.8"/>
<circle cx="182.59" cy="322.34" r="0.8"/>
<circle cx="158.54" cy="295.34" r="0.8"/>
<circle cx="181.81" cy="316.22" r="0.8"/>
<circle cx="175.09" cy="318.3" r="0.8"/>
<circle cx="172.46" cy="305.51" r="0.8"/>
<circle cx="123.41" cy="266.91" r="0.8"/>
<circle cx="148.82" cy="291.15" r="0.8"/>
<circle cx="179.63" cy="309.45" r="0.8"/>
<circle cx="171.94" cy="321.8" r="0.8"/>
<circle cx="156.75" cy="291.69" r="0.8"/>
<circle cx="159.98" cy="291.91" r="0.8"/>
<circle cx="165.1" cy="291.35" r="0.8"/>
<circle cx="159.69" cy="283.9" r="0.8"/>
<circle cx="150.08" cy="281.27" r="0.8"/>
<circle cx="166.75" cy="297.87" r="0.8"/>
<circle cx="159.1" cy="293.92" r="0.8"/>
<circle cx="157.23" cy="283.42" r="0.8"/>
<circle cx="146.96" cy="282.99" r="0.8"/>
<circle cx="162.65" cy="288.83" r="0.8"/>
<circle cx="174.8" cy="292.2" r="0.8"/>
<circle cx="149.51" cy="286.16" r="0.8"/>
<circle cx="160.72" cy="293.13" r="0.8"/>
<circle cx="145.23" cy="301.86" r="0.8"/>
<circle cx="170.85" cy="299.23" r="0.8"/>
<circle cx="169.16" cy="283.16" r="0.8"/>
<circle cx="144.74" cy="287.47" r="0.8"/>
<circle cx="164.1" cy="281.15" r="0.8"/>
<circle cx="168.8" cy="280.12" r="0.8"/>
<circle cx="159.47" cy="290.48" r="0.8"/>
<circle cx="158.38" cy="285.18" r="0.8"/>
<circle cx="153.37" cy="296.14" r="0.8"/>
<circle cx="175.38" cy="282.21" r="0.8"/>
<circle cx="167.02" cy="290.38" r="0.8"/>
<circle cx="153.92" cy="291.73" r="0.8"/>
<circle cx="154.32" cy="293.1" r="0.8"/>
<circle cx="149.1" cy="284.54" r="0.8"/>
<circle cx="162.02" cy="283.36" r="0.8"/>
<circle cx="160.19" cy="293.71" r="0.8"/>
<circle cx="173.54" cy="282.34" r="0.8"/>
</g>
<path d="M112.76 260.21h1.4" stroke="#1e6a2a" stroke-width="0.7"/>
<path d="M114.39 259.96h1.4" stroke="#1e6a2a" stroke-width="0.7"/>
<path d="M112.45 260.54h1.4" stroke="#1e6a2a" stroke-width="0.7"/>
<path d="M112.34 259.98h1.4" stroke="#1e6a2a" stroke-width="0.7"/>
<path d="M115.91 259.5h1.4" stroke="#1e6a2a" stroke-width="0.7"/>
<path d="M119.89 261.46h1.4" stroke="#1e6a2a" stroke-width="0.7"/>
<path d="M121.39 260.88h1.4" stroke="#1e6a2a" stroke-width="0.7"/>
<path d="M121.35 262.25h1.4" stroke="#1e6a2a" stroke-width="0.7"/>
<path d="M121.69 261.81h1.4" stroke="#1e6a2a" stroke-width="0.7"/>
<path d="M122.78 261.84h1.4" stroke="#1e6a2a" stroke-width="0.7"/>
<path d="M126.64 262.11h1.4" stroke="#1e6a2a" stroke-width="0.7"/>
<path d="M115.14 261.38h1.4" stroke="#1e6a2a" stroke-width="0.7"/>
<path d="M119.48 260.72h1.4" stroke="#1e6a2a" stroke-width="0.7"/>
<path d="M123.98 263.31h1.4" stroke="#1e6a2a" stroke-width="0.7"/>
<path d="M112.09 258.73h1.4" stroke="#1e6a2a" stroke-width="0.7"/>
<path d="M112.76 260.82h1.4" stroke="#1e6a2a" stroke-width="0.7"/>
<path d="M116.78 261.8h1.4" stroke="#1e6a2a" stroke-width="0.7"/>
<path d="M123.51 261.42h1.4" stroke="#1e6a2a" stroke-width="0.7"/>
<path d="M117.06 261.9h1.4" stroke="#1e6a2a" stroke-width="0.7"/>
<path d="M114.72 261.34h1.4" stroke="#1e6a2a" stroke-width="0.7"/>
<path d="M110.89 259.8h1.4" stroke="#1e6a2a" stroke-width="0.7"/>
<path d="M112.67 262.47h1.4" stroke="#1e6a2a" stroke-width="0.7"/>
<path d="M124.6 263.87h1.4" stroke="#1e6a2a" stroke-width="0.7"/>
<path d="M117.11 261.89h1.4" stroke="#1e6a2a" stroke-width="0.7"/>
<path d="M111.26 259.95h1.4" stroke="#1e6a2a" stroke-width="0.7"/>
<path d="M116.07 260.68h1.4" stroke="#1e6a2a" stroke-width="0.7"/>
<path d="M122.43 261.88h1.4" stroke="#1e6a2a" stroke-width="0.7"/>
<path d="M113.03 259.48h1.4" stroke="#1e6a2a" stroke-width="0.7"/>
<circle cx="130.39" cy="264.17" r="3.0" fill="#f4b0a0" opacity="0.45"/>
<circle cx="129.94" cy="264.17" r="1" fill="#a81818"/>
<circle cx="131.31" cy="265.1" r="1" fill="#a81818"/>
<circle cx="129.02" cy="263.24" r="1" fill="#a81818"/>
<circle cx="130.85" cy="262.78" r="1" fill="#a81818"/>
<g stroke="#1830c0" stroke-width="0.6">
<path d="M184.89 318.87h1.4M185.59 318.17v1.4"/>
<path d="M187.07 329.19h1.4M187.77 328.49v1.4"/>
<path d="M185.98 314.2h1.4M186.68 313.5v1.4"/>
<path d="M187.88 325.95h1.4M188.58 325.25v1.4"/>
<path d="M182.23 313.97h1.4M182.93 313.27v1.4"/>
<path d="M187.38 323.32h1.4M188.08 322.62v1.4"/>
<path d="M182.73 317.95h1.4M183.43 317.25v1.4"/>
<path d="M183.56 320.55h1.4M184.26 319.85v1.4"/>
<path d="M185.27 321.88h1.4M185.97 321.18v1.4"/>
<path d="M187.21 323.91h1.4M187.91 323.21v1.4"/>
<path d="M186.67 319.42h1.4M187.37 318.72v1.4"/>
<path d="M185.47 328.65h1.4M186.17 327.95v1.4"/>
<path d="M188.59 322.41h1.4M189.29 321.71v1.4"/>
<path d="M186.18 327.25h1.4M186.88 326.55v1.4"/>
<path d="M186.98 323.2h1.4M187.68 322.5v1.4"/>
<path d="M186.55 323.61h1.4M187.25 322.91v1.4"/>
<path d="M184.71 324.95h1.4M185.41 324.25v1.4"/>
<path d="M190.32 332.02h1.4M191.02 331.32v1.4"/>
<path d="M185.93 322.9h1.4M186.63 322.2v1.4"/>
<path d="M188.38 331.83h1.4M189.08 331.13v1.4"/>
<path d="M186.3 320.53h1.4M187 319.83v1.4"/>
<path d="M186.92 326.9h1.4M187.62 326.2v1.4"/>
<path d="M187.64 328.95h1.4M188.34 328.25v1.4"/>
<path d="M190.26 333.94h1.4M190.96 333.24v1.4"/>
<path d="M186.4 324.28h1.4M187.1 323.58v1.4"/>
<path d="M181.93 317.69h1.4M182.63 316.99v1.4"/>
<path d="M183.16 310.74h1.4M183.86 310.04v1.4"/>
<path d="M190.78 333.24h1.4M191.48 332.54v1.4"/>
<path d="M189.85 330.64h1.4M190.55 329.94v1.4"/>
<path d="M184.64 314.53h1.4M185.34 313.83v1.4"/>
<path d="M180.95 316.38h1.4M181.65 315.68v1.4"/>
<path d="M183.39 318.66h1.4M184.09 317.96v1.4"/>
<path d="M188.04 333.81h1.4M188.74 333.11v1.4"/>
<path d="M189.3 333.52h1.4M190 332.82v1.4"/>
<path d="M185.8 327.72h1.4M186.5 327.02v1.4"/>
<path d="M188.19 333.49h1.4M188.89 332.79v1.4"/>
<path d="M184.63 316.51h1.4M185.33 315.81v1.4"/>
<path d="M184.2 316.64h1.4M184.9 315.94v1.4"/>
<path d="M185.63 328.28h1.4M186.33 327.58v1.4"/>
<path d="M188.27 326.54h1.4M188.97 325.84v1.4"/>
<path d="M182.55 314.28h1.4M183.25 313.58v1.4"/>
<path d="M191.61 335.36h1.4M192.31 334.66v1.4"/>
<path d="M188.95 329.04h1.4M189.65 328.34v1.4"/>
<path d="M185.25 320.26h1.4M185.95 319.56v1.4"/>
<path d="M186.5 324.27h1.4M187.2 323.57v1.4"/>
<path d="M189.6 321.76h1.4M190.3 321.06v1.4"/>
<path d="M186.15 326.4h1.4M186.85 325.7v1.4"/>
<path d="M187.38 332.65h1.4M188.08 331.95v1.4"/>
<path d="M187.11 323.56h1.4M187.81 322.86v1.4"/>
<path d="M182.94 313.45h1.4M183.64 312.75v1.4"/>
<path d="M189.47 327.13h1.4M190.17 326.43v1.4"/>
<path d="M185.32 315.74h1.4M186.02 315.04v1.4"/>
<path d="M187.69 330h1.4M188.39 329.3v1.4"/>
<path d="M189.69 330.55h1.4M190.39 329.85v1.4"/>
<path d="M188.55 331.71h1.4M189.25 331.01v1.4"/>
<path d="M183.36 320.35h1.4M184.06 319.65v1.4"/>
<path d="M183.04 318.17h1.4M183.74 317.47v1.4"/>
<path d="M189.07 328.77h1.4M189.77 328.07v1.4"/>
<path d="M185.56 315.71h1.4M186.26 315.01v1.4"/>
<path d="M185.65 331.02h1.4M186.35 330.32v1.4"/>
<path d="M182.68 316.32h1.4M183.38 315.62v1.4"/>
<path d="M185.72 319.13h1.4M186.42 318.43v1.4"/>
<path d="M186.98 318h1.4M187.68 317.3v1.4"/>
<path d="M188.35 323.61h1.4M189.05 322.91v1.4"/>
<path d="M188.68 323.06h1.4M189.38 322.36v1.4"/>
<path d="M187.93 328.13h1.4M188.63 327.43v1.4"/>
<path d="M183.07 313.26h1.4M183.77 312.56v1.4"/>
<path d="M189.17 331.68h1.4M189.87 330.98v1.4"/>
<path d="M184.98 318.26h1.4M185.68 317.56v1.4"/>
<path d="M188.03 329.47h1.4M188.73 328.77v1.4"/>
<path d="M188.96 329.72h1.4M189.66 329.02v1.4"/>
<path d="M186.46 328.19h1.4M187.16 327.49v1.4"/>
<path d="M187.45 326.52h1.4M188.15 325.82v1.4"/>
<path d="M180.89 311.15h1.4M181.59 310.45v1.4"/>
<path d="M189.83 328.22h1.4M190.53 327.52v1.4"/>
</g>
<rect x="177.53" y="318.32" width="1.2" height="1.2" fill="#333"/>
<rect x="175.24" y="299.76" width="1.2" height="1.2" fill="#333"/>
<rect x="179.83" y="309.97" width="1.2" height="1.2" fill="#333"/>
</g>
<rect x="96.3" y="255.2" width="98.3" height="99.6" fill="none" stroke="#555" stroke-width="0.7"/>
<line x1="94.5" y1="351.4" x2="96.3" y2="351.4" stroke="#666" stroke-width="0.5"/>
<text x="91.8" y="351.4" font-size="5.4" text-anchor="middle" fill="#444" stroke="#444" stroke-width="0.14" transform="rotate(-90 91.8 351.4)">-1.0</text>
<line x1="100.1" y1="354.8" x2="100.1" y2="356.6" stroke="#666" stroke-width="0.5"/>
<text x="100.1" y="361.4" font-size="5.4" text-anchor="middle" fill="#444" stroke="#444" stroke-width="0.14">-1.0</text>
<line x1="94.5" y1="328.2" x2="96.3" y2="328.2" stroke="#666" stroke-width="0.5"/>
<text x="91.8" y="328.2" font-size="5.4" text-anchor="middle" fill="#444" stroke="#444" stroke-width="0.14" transform="rotate(-90 91.8 328.2)">-0.5</text>
<line x1="123.05" y1="354.8" x2="123.05" y2="356.6" stroke="#666" stroke-width="0.5"/>
<text x="123.05" y="361.4" font-size="5.4" text-anchor="middle" fill="#444" stroke="#444" stroke-width="0.14">-0.5</text>
<line x1="94.5" y1="305" x2="96.3" y2="305" stroke="#666" stroke-width="0.5"/>
<text x="91.8" y="305" font-size="5.4" text-anchor="middle" fill="#444" stroke="#444" stroke-width="0.14" transform="rotate(-90 91.8 305)">0.0</text>
<line x1="146" y1="354.8" x2="146" y2="356.6" stroke="#666" stroke-width="0.5"/>
<text x="146" y="361.4" font-size="5.4" text-anchor="middle" fill="#444" stroke="#444" stroke-width="0.14">0.0</text>
<line x1="94.5" y1="281.8" x2="96.3" y2="281.8" stroke="#666" stroke-width="0.5"/>
<text x="91.8" y="281.8" font-size="5.4" text-anchor="middle" fill="#444" stroke="#444" stroke-width="0.14" transform="rotate(-90 91.8 281.8)">0.5</text>
<line x1="168.95" y1="354.8" x2="168.95" y2="356.6" stroke="#666" stroke-width="0.5"/>
<text x="168.95" y="361.4" font-size="5.4" text-anchor="middle" fill="#444" stroke="#444" stroke-width="0.14">0.5</text>
<line x1="94.5" y1="258.6" x2="96.3" y2="258.6" stroke="#666" stroke-width="0.5"/>
<text x="91.8" y="258.6" font-size="5.4" text-anchor="middle" fill="#444" stroke="#444" stroke-width="0.14" transform="rotate(-90 91.8 258.6)">1.0</text>
<line x1="191.9" y1="354.8" x2="191.9" y2="356.6" stroke="#666" stroke-width="0.5"/>
<text x="191.9" y="361.4" font-size="5.4" text-anchor="middle" fill="#444" stroke="#444" stroke-width="0.14">1.0</text>
<text x="79.8" y="311.3" font-size="9.45" text-anchor="middle" fill="#222" stroke="#222" stroke-width="0.28" transform="rotate(-90 79.8 311.3)">β-cell signature</text>
<text x="145.4" y="368.8" font-size="9.3" text-anchor="middle" fill="#222" stroke="#222" stroke-width="0.28">α-cell signature</text>
<text x="1.4" y="383.2" font-size="15.5" text-anchor="start" font-weight="bold" fill="#111" stroke="#111" stroke-width="0.6">C</text>
<rect x="25.5" y="397.6" width="20.5" height="172.6" fill="#d2d2d2"/>
<rect x="46" y="397.6" width="23" height="172.6" fill="#e0e0e0"/>
<rect x="69" y="397.6" width="35.6" height="172.6" fill="#d8d8d8"/>
<rect x="104.6" y="397.6" width="47.7" height="172.6" fill="#e4e4e4"/>
<rect x="152.3" y="397.6" width="78.2" height="172.6" fill="#d6d6d6"/>
<rect x="230.5" y="397.6" width="67.2" height="172.6" fill="#e2e2e2"/>
<rect x="297.7" y="397.6" width="85.8" height="172.6" fill="#d6d6d6"/>
<rect x="383.5" y="397.6" width="80.3" height="172.6" fill="#e2e2e2"/>
<line x1="25.5" y1="398" x2="463.8" y2="398" stroke="#a8a8a8" stroke-width="1"/>
<g opacity="0.42">
<circle cx="31.28" cy="525.16" r="2.1" fill="#a8a8f2"/>
<circle cx="37.9" cy="531.91" r="2.1" fill="#d8a0ea"/>
<circle cx="44.92" cy="556.88" r="2.1" fill="#d8a0ea"/>
<circle cx="31.17" cy="506.89" r="2.1" fill="#f2a0a0"/>
<circle cx="39.09" cy="499.85" r="2.1" fill="#f6b880"/>
<circle cx="41.04" cy="518.32" r="2.1" fill="#c8a8a8"/>
<circle cx="39.85" cy="526.86" r="2.1" fill="#d8a0ea"/>
<circle cx="44.35" cy="483.35" r="2.1" fill="#c8a8a8"/>
<circle cx="30.91" cy="529.66" r="2.1" fill="#f0a8d8"/>
<circle cx="34.58" cy="539.03" r="2.1" fill="#f6b880"/>
<circle cx="37.52" cy="546.37" r="2.1" fill="#f0a8d8"/>
<circle cx="44.84" cy="511.09" r="2.1" fill="#f2a0a0"/>
<circle cx="39.85" cy="502.93" r="2.1" fill="#f6b880"/>
<circle cx="29.24" cy="543.44" r="2.1" fill="#f2a0a0"/>
<circle cx="41.41" cy="510.25" r="2.1" fill="#f6b880"/>
<circle cx="42.71" cy="493.81" r="2.1" fill="#f2a0a0"/>
<circle cx="36.92" cy="518.98" r="2.1" fill="#a8a8f2"/>
<circle cx="32.57" cy="493.19" r="2.1" fill="#d8a0ea"/>
<circle cx="44.49" cy="479.06" r="2.1" fill="#f0a8d8"/>
<circle cx="32.65" cy="560.97" r="2.1" fill="#c8a8a8"/>
<circle cx="42.66" cy="558.94" r="2.1" fill="#a8a8f2"/>
<circle cx="38.16" cy="534.48" r="2.1" fill="#d8a0ea"/>
<circle cx="43.86" cy="517.56" r="2.1" fill="#f2a0a0"/>
<circle cx="27.21" cy="539.44" r="2.1" fill="#d8a0ea"/>
<circle cx="28.08" cy="531.71" r="2.1" fill="#f2a0a0"/>
<circle cx="37.96" cy="488.56" r="2.1" fill="#f2a0a0"/>
<circle cx="44.34" cy="487.17" r="2.1" fill="#f0a8d8"/>
<circle cx="30.19" cy="499.84" r="2.1" fill="#f6b880"/>
<circle cx="32.41" cy="552.51" r="2.1" fill="#d8a0ea"/>
<circle cx="32.58" cy="501.76" r="2.1" fill="#d8a0ea"/>
<circle cx="39.21" cy="506.6" r="2.1" fill="#f0a8d8"/>
<circle cx="39.15" cy="502.01" r="2.1" fill="#f2a0a0"/>
<circle cx="33.06" cy="560.17" r="2.1" fill="#d8a0ea"/>
<circle cx="41.17" cy="508.22" r="2.1" fill="#d8a0ea"/>
<circle cx="42.55" cy="556.3" r="2.1" fill="#f2a0a0"/>
<circle cx="37.61" cy="535.25" r="2.1" fill="#d8a0ea"/>
<circle cx="33.23" cy="528.54" r="2.1" fill="#f6b880"/>
<circle cx="29.81" cy="507.62" r="2.1" fill="#c8a8a8"/>
<circle cx="37.06" cy="548.77" r="2.1" fill="#c8a8a8"/>
<circle cx="42.06" cy="535.29" r="2.1" fill="#f2a0a0"/>
<circle cx="43.01" cy="558.34" r="2.1" fill="#a8a8f2"/>
<circle cx="41.58" cy="505.95" r="2.1" fill="#f6b880"/>
<circle cx="43.14" cy="539.23" r="2.1" fill="#a8a8f2"/>
<circle cx="30.09" cy="495.84" r="2.1" fill="#c8a8a8"/>
<circle cx="27.96" cy="507.72" r="2.1" fill="#b8d0b8"/>
<circle cx="35.59" cy="523.93" r="2.1" fill="#b8d0b8"/>
<circle cx="42.98" cy="478.06" r="2.1" fill="#f6b880"/>
<circle cx="41.82" cy="494.4" r="2.1" fill="#f2a0a0"/>
<circle cx="40.62" cy="493.96" r="2.1" fill="#f2a0a0"/>
<circle cx="35.51" cy="500.12" r="2.1" fill="#d8a0ea"/>
<circle cx="27.83" cy="488.28" r="2.1" fill="#a8a8f2"/>
<circle cx="36.28" cy="510.68" r="2.1" fill="#f6b880"/>
<circle cx="38.64" cy="524.54" r="2.1" fill="#f2a0a0"/>
<circle cx="34.72" cy="468.15" r="2.1" fill="#f2a0a0"/>
<circle cx="37.2" cy="487.35" r="2.1" fill="#c8a8a8"/>
<circle cx="38.46" cy="505.23" r="2.1" fill="#c8a8a8"/>
<circle cx="40.68" cy="564.62" r="2.1" fill="#a8a8f2"/>
<circle cx="31.41" cy="547.27" r="2.1" fill="#f6b880"/>
<circle cx="31.04" cy="469.18" r="2.1" fill="#f6b880"/>
<circle cx="29.19" cy="563.86" r="2.1" fill="#b8d0b8"/>
<circle cx="41.26" cy="549.89" r="2.1" fill="#a8a8f2"/>
<circle cx="41.61" cy="532.2" r="2.1" fill="#f6b880"/>
<circle cx="27.8" cy="472.17" r="2.1" fill="#f6b880"/>
<circle cx="41.75" cy="557.96" r="2.1" fill="#a8a8f2"/>
<circle cx="39.12" cy="564.76" r="2.1" fill="#a8a8f2"/>
<circle cx="27.65" cy="534.77" r="2.1" fill="#a8a8f2"/>
<circle cx="36.98" cy="491.24" r="2.1" fill="#f6b880"/>
<circle cx="41.91" cy="475.55" r="2.1" fill="#c8a8a8"/>
<circle cx="31.55" cy="563.84" r="2.1" fill="#a8a8f2"/>
<circle cx="33.76" cy="507.04" r="2.1" fill="#f6b880"/>
<circle cx="34.47" cy="539.43" r="2.1" fill="#d8a0ea"/>
<circle cx="29.81" cy="560.35" r="2.1" fill="#c8a8a8"/>
<circle cx="40.47" cy="535.17" r="2.1" fill="#d8a0ea"/>
<circle cx="29.45" cy="509.97" r="2.1" fill="#f6b880"/>
<circle cx="42.33" cy="553.01" r="2.1" fill="#f6b880"/>
<circle cx="59.5" cy="566.98" r="2.1" fill="#f0a8d8"/>
<circle cx="47.49" cy="529.11" r="2.1" fill="#f2a0a0"/>
<circle cx="52.02" cy="559.42" r="2.1" fill="#c8a8a8"/>
<circle cx="61.73" cy="498.64" r="2.1" fill="#f2a0a0"/>
<circle cx="57.11" cy="558.97" r="2.1" fill="#a8a8f2"/>
<circle cx="56.82" cy="485.16" r="2.1" fill="#f2a0a0"/>
<circle cx="67.13" cy="520.25" r="2.1" fill="#f0a8d8"/>
<circle cx="49.89" cy="547.53" r="2.1" fill="#f0a8d8"/>
<circle cx="50.56" cy="483.15" r="2.1" fill="#f2a0a0"/>
<circle cx="49.48" cy="511.64" r="2.1" fill="#c8a8a8"/>
<circle cx="59.19" cy="505.43" r="2.1" fill="#f6b880"/>
<circle cx="54.97" cy="501.13" r="2.1" fill="#d8a0ea"/>
<circle cx="55.21" cy="512.51" r="2.1" fill="#f6b880"/>
<circle cx="49.36" cy="562.25" r="2.1" fill="#f2a0a0"/>
<circle cx="61.25" cy="533.38" r="2.1" fill="#f0a8d8"/>
<circle cx="49.25" cy="526.33" r="2.1" fill="#b8d0b8"/>
<circle cx="49.38" cy="527.19" r="2.1" fill="#f6b880"/>
<circle cx="60.56" cy="514.42" r="2.1" fill="#c8a8a8"/>
<circle cx="49.59" cy="513.91" r="2.1" fill="#f6b880"/>
<circle cx="58.65" cy="533.84" r="2.1" fill="#d8a0ea"/>
<circle cx="61.81" cy="483.07" r="2.1" fill="#c8a8a8"/>
<circle cx="54.54" cy="490.95" r="2.1" fill="#f2a0a0"/>
<circle cx="57.05" cy="503.12" r="2.1" fill="#f0a8d8"/>
<circle cx="66.85" cy="555.98" r="2.1" fill="#c8a8a8"/>
<circle cx="64.78" cy="486.55" r="2.1" fill="#f2a0a0"/>
<circle cx="58.85" cy="512.06" r="2.1" fill="#c8a8a8"/>
<circle cx="61.07" cy="566.95" r="2.1" fill="#d8a0ea"/>
<circle cx="65.05" cy="539.32" r="2.1" fill="#d8a0ea"/>
<circle cx="51.24" cy="506.48" r="2.1" fill="#c8a8a8"/>
<circle cx="65.72" cy="529.14" r="2.1" fill="#f0a8d8"/>
<circle cx="60.31" cy="548.26" r="2.1" fill="#c8a8a8"/>
<circle cx="47.63" cy="500.73" r="2.1" fill="#d8a0ea"/>
<circle cx="57.33" cy="534.01" r="2.1" fill="#b8d0b8"/>
<circle cx="51.45" cy="563.34" r="2.1" fill="#a8a8f2"/>
<circle cx="58.89" cy="561.2" r="2.1" fill="#a8a8f2"/>
<circle cx="60.09" cy="490.04" r="2.1" fill="#f2a0a0"/>
<circle cx="57.47" cy="489.25" r="2.1" fill="#f0a8d8"/>
<circle cx="61.59" cy="509.47" r="2.1" fill="#f2a0a0"/>
<circle cx="62.03" cy="526.65" r="2.1" fill="#f2a0a0"/>
<circle cx="65.09" cy="552.68" r="2.1" fill="#a8a8f2"/>
<circle cx="63.52" cy="558.25" r="2.1" fill="#f6b880"/>
<circle cx="57.44" cy="538.86" r="2.1" fill="#c8a8a8"/>
<circle cx="53.4" cy="552.7" r="2.1" fill="#d8a0ea"/>
<circle cx="56.56" cy="486.01" r="2.1" fill="#d8a0ea"/>
<circle cx="58.12" cy="519.1" r="2.1" fill="#d8a0ea"/>
<circle cx="52.43" cy="558.89" r="2.1" fill="#d8a0ea"/>
<circle cx="51.4" cy="491.75" r="2.1" fill="#f2a0a0"/>
<circle cx="49.92" cy="532.89" r="2.1" fill="#a8a8f2"/>
<circle cx="55.47" cy="507.07" r="2.1" fill="#f6b880"/>
<circle cx="55.47" cy="506.68" r="2.1" fill="#f6b880"/>
<circle cx="52.07" cy="517.01" r="2.1" fill="#a8a8f2"/>
<circle cx="54.27" cy="478.02" r="2.1" fill="#f6b880"/>
<circle cx="67.61" cy="554.72" r="2.1" fill="#c8a8a8"/>
<circle cx="52.25" cy="507.77" r="2.1" fill="#f0a8d8"/>
<circle cx="53.66" cy="492.98" r="2.1" fill="#a8a8f2"/>
<circle cx="49.2" cy="506.2" r="2.1" fill="#d8a0ea"/>
<circle cx="48.13" cy="561.72" r="2.1" fill="#c8a8a8"/>
<circle cx="54.14" cy="527.15" r="2.1" fill="#f6b880"/>
<circle cx="53.4" cy="564.63" r="2.1" fill="#f0a8d8"/>
<circle cx="50.87" cy="536.97" r="2.1" fill="#b8d0b8"/>
<circle cx="61.28" cy="516" r="2.1" fill="#c8a8a8"/>
<circle cx="64.55" cy="563.18" r="2.1" fill="#f6b880"/>
<circle cx="56.21" cy="549.27" r="2.1" fill="#d8a0ea"/>
<circle cx="57.65" cy="562.65" r="2.1" fill="#c8a8a8"/>
<circle cx="47.9" cy="505.31" r="2.1" fill="#f2a0a0"/>
<circle cx="62.93" cy="511.12" r="2.1" fill="#a8a8f2"/>
<circle cx="65.45" cy="533.34" r="2.1" fill="#f0a8d8"/>
<circle cx="67.94" cy="483.6" r="2.1" fill="#f2a0a0"/>
<circle cx="54.11" cy="533.37" r="2.1" fill="#f6b880"/>
<circle cx="52.05" cy="481.95" r="2.1" fill="#f2a0a0"/>
<circle cx="49.35" cy="484.14" r="2.1" fill="#c8a8a8"/>
<circle cx="57.6" cy="525.09" r="2.1" fill="#f6b880"/>
<circle cx="56.82" cy="507.6" r="2.1" fill="#f2a0a0"/>
<circle cx="65.04" cy="512.78" r="2.1" fill="#a8a8f2"/>
<circle cx="56.77" cy="508.35" r="2.1" fill="#d8a0ea"/>
<circle cx="62.99" cy="526.8" r="2.1" fill="#c8a8a8"/>
<circle cx="63.33" cy="512.86" r="2.1" fill="#f6b880"/>
<circle cx="51.33" cy="534.24" r="2.1" fill="#a8a8f2"/>
<circle cx="54.17" cy="505.39" r="2.1" fill="#f0a8d8"/>
<circle cx="55.88" cy="543.17" r="2.1" fill="#f2a0a0"/>
<circle cx="98.16" cy="485.21" r="2.1" fill="#f6b880"/>
<circle cx="77.32" cy="512.31" r="2.1" fill="#d8a0ea"/>
<circle cx="101.29" cy="531.38" r="2.1" fill="#c8a8a8"/>
<circle cx="86.27" cy="530.64" r="2.1" fill="#f2a0a0"/>
<circle cx="79.81" cy="516.63" r="2.1" fill="#d8a0ea"/>
<circle cx="79.89" cy="545.27" r="2.1" fill="#d8a0ea"/>
<circle cx="79.27" cy="526.72" r="2.1" fill="#f6b880"/>
<circle cx="74.8" cy="562.23" r="2.1" fill="#d8a0ea"/>
<circle cx="75.15" cy="549.13" r="2.1" fill="#f2a0a0"/>
<circle cx="101.68" cy="564.22" r="2.1" fill="#b8d0b8"/>
<circle cx="77.48" cy="523.17" r="2.1" fill="#f2a0a0"/>
<circle cx="99.8" cy="523.74" r="2.1" fill="#b8d0b8"/>
<circle cx="70.34" cy="496.7" r="2.1" fill="#f6b880"/>
<circle cx="101.92" cy="514.36" r="2.1" fill="#f0a8d8"/>
<circle cx="102.9" cy="566.69" r="2.1" fill="#d8a0ea"/>
<circle cx="78.02" cy="511.27" r="2.1" fill="#f2a0a0"/>
<circle cx="85.12" cy="502.21" r="2.1" fill="#f6b880"/>
<circle cx="81.41" cy="477.46" r="2.1" fill="#f6b880"/>
<circle cx="100.66" cy="520.58" r="2.1" fill="#f6b880"/>
<circle cx="87.1" cy="539.77" r="2.1" fill="#d8a0ea"/>
<circle cx="71.52" cy="508.81" r="2.1" fill="#d8a0ea"/>
<circle cx="85.71" cy="563.5" r="2.1" fill="#b8d0b8"/>
<circle cx="83.92" cy="515.76" r="2.1" fill="#d8a0ea"/>
<circle cx="103.34" cy="530.71" r="2.1" fill="#c8a8a8"/>
<circle cx="79.36" cy="487.04" r="2.1" fill="#f0a8d8"/>
<circle cx="74.69" cy="494.94" r="2.1" fill="#d8a0ea"/>
<circle cx="101.29" cy="506.93" r="2.1" fill="#f2a0a0"/>
<circle cx="86.38" cy="503.67" r="2.1" fill="#f2a0a0"/>
<circle cx="84.62" cy="477.31" r="2.1" fill="#d8a0ea"/>
<circle cx="76.55" cy="516.41" r="2.1" fill="#f6b880"/>
<circle cx="80.62" cy="513.05" r="2.1" fill="#f0a8d8"/>
<circle cx="90.51" cy="507.24" r="2.1" fill="#c8a8a8"/>
<circle cx="102.93" cy="484.96" r="2.1" fill="#f2a0a0"/>
<circle cx="93.46" cy="500.66" r="2.1" fill="#a8a8f2"/>
<circle cx="101.66" cy="548.6" r="2.1" fill="#c8a8a8"/>
<circle cx="85.52" cy="497.82" r="2.1" fill="#c8a8a8"/>
<circle cx="102.17" cy="511.31" r="2.1" fill="#c8a8a8"/>
<circle cx="92.67" cy="513.96" r="2.1" fill="#d8a0ea"/>
<circle cx="80.45" cy="513.24" r="2.1" fill="#b8d0b8"/>
<circle cx="102.28" cy="529.09" r="2.1" fill="#f6b880"/>
<circle cx="76.11" cy="480.07" r="2.1" fill="#f6b880"/>
<circle cx="74.26" cy="562.64" r="2.1" fill="#d8a0ea"/>
<circle cx="70.25" cy="513.98" r="2.1" fill="#a8a8f2"/>
<circle cx="81.91" cy="535.56" r="2.1" fill="#f2a0a0"/>
<circle cx="85.88" cy="538.45" r="2.1" fill="#d8a0ea"/>
<circle cx="89.11" cy="538.9" r="2.1" fill="#b8d0b8"/>
<circle cx="85.33" cy="552.67" r="2.1" fill="#d8a0ea"/>
<circle cx="80.1" cy="565.42" r="2.1" fill="#d8a0ea"/>
<circle cx="74.38" cy="508.59" r="2.1" fill="#f6b880"/>
<circle cx="73.85" cy="509.92" r="2.1" fill="#f0a8d8"/>
<circle cx="87.65" cy="510.83" r="2.1" fill="#d8a0ea"/>
<circle cx="80.95" cy="518.77" r="2.1" fill="#f2a0a0"/>
<circle cx="91.39" cy="549.26" r="2.1" fill="#f2a0a0"/>
<circle cx="98.97" cy="523.07" r="2.1" fill="#f6b880"/>
<circle cx="76.13" cy="518.94" r="2.1" fill="#f6b880"/>
<circle cx="79.49" cy="533.53" r="2.1" fill="#b8d0b8"/>
<circle cx="96.5" cy="500.19" r="2.1" fill="#f2a0a0"/>
<circle cx="72.33" cy="558.39" r="2.1" fill="#a8a8f2"/>
<circle cx="77.94" cy="518.31" r="2.1" fill="#b8d0b8"/>
<circle cx="77.21" cy="560.68" r="2.1" fill="#f6b880"/>
<circle cx="93.9" cy="523.94" r="2.1" fill="#f6b880"/>
<circle cx="84.76" cy="548.18" r="2.1" fill="#c8a8a8"/>
<circle cx="74.91" cy="490.47" r="2.1" fill="#f6b880"/>
<circle cx="99.74" cy="492.97" r="2.1" fill="#f2a0a0"/>
<circle cx="88.1" cy="538.66" r="2.1" fill="#d8a0ea"/>
<circle cx="84.83" cy="512.61" r="2.1" fill="#c8a8a8"/>
<circle cx="77.56" cy="487.96" r="2.1" fill="#f2a0a0"/>
<circle cx="97.67" cy="510.34" r="2.1" fill="#f2a0a0"/>
<circle cx="82.86" cy="567.1" r="2.1" fill="#d8a0ea"/>
<circle cx="83.06" cy="532.24" r="2.1" fill="#f0a8d8"/>
<circle cx="84.66" cy="514.19" r="2.1" fill="#f2a0a0"/>
<circle cx="72.16" cy="552" r="2.1" fill="#a8a8f2"/>
<circle cx="80.9" cy="544.78" r="2.1" fill="#f2a0a0"/>
<circle cx="91.64" cy="519.24" r="2.1" fill="#f6b880"/>
<circle cx="102.19" cy="496.2" r="2.1" fill="#f6b880"/>
<circle cx="89.28" cy="485.06" r="2.1" fill="#c8a8a8"/>
<circle cx="79.56" cy="546.67" r="2.1" fill="#d8a0ea"/>
<circle cx="89.26" cy="542.05" r="2.1" fill="#f2a0a0"/>
<circle cx="90.83" cy="553.43" r="2.1" fill="#b8d0b8"/>
<circle cx="76.84" cy="492.88" r="2.1" fill="#f6b880"/>
<circle cx="86.58" cy="516.57" r="2.1" fill="#c8a8a8"/>
<circle cx="74.02" cy="530.02" r="2.1" fill="#d8a0ea"/>
<circle cx="95.36" cy="520.55" r="2.1" fill="#f2a0a0"/>
<circle cx="77.96" cy="519.08" r="2.1" fill="#f2a0a0"/>
<circle cx="78.85" cy="526.43" r="2.1" fill="#d8a0ea"/>
<circle cx="80.21" cy="482.56" r="2.1" fill="#f6b880"/>
<circle cx="77.24" cy="543.39" r="2.1" fill="#b8d0b8"/>
<circle cx="83.25" cy="542.66" r="2.1" fill="#c8a8a8"/>
<circle cx="82.58" cy="496.92" r="2.1" fill="#f2a0a0"/>
<circle cx="89.45" cy="511.05" r="2.1" fill="#f6b880"/>
<circle cx="83.08" cy="535.57" r="2.1" fill="#c8a8a8"/>
<circle cx="95.47" cy="492.35" r="2.1" fill="#f6b880"/>
<circle cx="89.6" cy="496.59" r="2.1" fill="#d8a0ea"/>
<circle cx="91.14" cy="511.95" r="2.1" fill="#a8a8f2"/>
<circle cx="89.58" cy="517.8" r="2.1" fill="#b8d0b8"/>
<circle cx="132.69" cy="547.32" r="2.1" fill="#f2a0a0"/>
<circle cx="150.77" cy="551.39" r="2.1" fill="#a8a8f2"/>
<circle cx="124.93" cy="552.31" r="2.1" fill="#f2a0a0"/>
<circle cx="131.52" cy="507.11" r="2.1" fill="#c8a8a8"/>
<circle cx="138.19" cy="517.4" r="2.1" fill="#d8a0ea"/>
<circle cx="113.48" cy="519.38" r="2.1" fill="#f2a0a0"/>
<circle cx="110.49" cy="499.36" r="2.1" fill="#b8d0b8"/>
<circle cx="136.01" cy="501.87" r="2.1" fill="#f6b880"/>
<circle cx="145.29" cy="531.04" r="2.1" fill="#f0a8d8"/>
<circle cx="136.87" cy="491.39" r="2.1" fill="#f2a0a0"/>
<circle cx="127.39" cy="523.21" r="2.1" fill="#f6b880"/>
<circle cx="117.7" cy="562.94" r="2.1" fill="#d8a0ea"/>
<circle cx="150.63" cy="550.54" r="2.1" fill="#a8a8f2"/>
<circle cx="145.29" cy="485" r="2.1" fill="#f0a8d8"/>
<circle cx="150.13" cy="552.22" r="2.1" fill="#c8a8a8"/>
<circle cx="117.91" cy="529.6" r="2.1" fill="#c8a8a8"/>
<circle cx="128.64" cy="532.8" r="2.1" fill="#f6b880"/>
<circle cx="119.1" cy="514.44" r="2.1" fill="#a8a8f2"/>
<circle cx="113.37" cy="520.26" r="2.1" fill="#f6b880"/>
<circle cx="144.35" cy="529.61" r="2.1" fill="#b8d0b8"/>
<circle cx="131.36" cy="528.77" r="2.1" fill="#d8a0ea"/>
<circle cx="150.41" cy="536.11" r="2.1" fill="#d8a0ea"/>
<circle cx="110.93" cy="555.27" r="2.1" fill="#f0a8d8"/>
<circle cx="111.85" cy="559.29" r="2.1" fill="#a8a8f2"/>
<circle cx="137.49" cy="538.08" r="2.1" fill="#b8d0b8"/>
<circle cx="151.03" cy="523.27" r="2.1" fill="#f2a0a0"/>
<circle cx="108.8" cy="532.09" r="2.1" fill="#f2a0a0"/>
<circle cx="129.28" cy="564.33" r="2.1" fill="#d8a0ea"/>
<circle cx="123.35" cy="533.82" r="2.1" fill="#f2a0a0"/>
<circle cx="134.27" cy="521.72" r="2.1" fill="#d8a0ea"/>
<circle cx="116.11" cy="513.56" r="2.1" fill="#a8a8f2"/>
<circle cx="130.53" cy="524.82" r="2.1" fill="#a8a8f2"/>
<circle cx="132.49" cy="498.35" r="2.1" fill="#c8a8a8"/>
<circle cx="135.87" cy="538.25" r="2.1" fill="#f0a8d8"/>
<circle cx="142.16" cy="498.27" r="2.1" fill="#f6b880"/>
<circle cx="147.95" cy="544.17" r="2.1" fill="#d8a0ea"/>
<circle cx="119.7" cy="521.1" r="2.1" fill="#f0a8d8"/>
<circle cx="111.18" cy="535.82" r="2.1" fill="#f6b880"/>
<circle cx="106.53" cy="504.37" r="2.1" fill="#b8d0b8"/>
<circle cx="145.31" cy="510.78" r="2.1" fill="#f6b880"/>
<circle cx="142.92" cy="553.17" r="2.1" fill="#f0a8d8"/>
<circle cx="134.2" cy="516.71" r="2.1" fill="#d8a0ea"/>
<circle cx="116.45" cy="496.09" r="2.1" fill="#f6b880"/>
<circle cx="134.42" cy="506.26" r="2.1" fill="#f2a0a0"/>
<circle cx="128.26" cy="536.99" r="2.1" fill="#f2a0a0"/>
<circle cx="131.22" cy="534.99" r="2.1" fill="#a8a8f2"/>
<circle cx="120.36" cy="544.84" r="2.1" fill="#f0a8d8"/>
<circle cx="115" cy="491.42" r="2.1" fill="#c8a8a8"/>
<circle cx="127.39" cy="494.13" r="2.1" fill="#d8a0ea"/>
<circle cx="151.21" cy="496.47" r="2.1" fill="#f0a8d8"/>
<circle cx="110.08" cy="500.05" r="2.1" fill="#f6b880"/>
<circle cx="131.41" cy="533" r="2.1" fill="#f6b880"/>
<circle cx="122.22" cy="523.8" r="2.1" fill="#d8a0ea"/>
<circle cx="145.77" cy="509.8" r="2.1" fill="#a8a8f2"/>
<circle cx="133.22" cy="535.73" r="2.1" fill="#b8d0b8"/>
<circle cx="125.38" cy="496.22" r="2.1" fill="#f6b880"/>
<circle cx="147.42" cy="514.08" r="2.1" fill="#f2a0a0"/>
<circle cx="150.36" cy="509.96" r="2.1" fill="#f2a0a0"/>
<circle cx="110.36" cy="515.07" r="2.1" fill="#f6b880"/>
<circle cx="147.02" cy="516.42" r="2.1" fill="#f6b880"/>
<circle cx="128.35" cy="537.81" r="2.1" fill="#b8d0b8"/>
<circle cx="106.44" cy="526.38" r="2.1" fill="#a8a8f2"/>
<circle cx="118.48" cy="513.96" r="2.1" fill="#d8a0ea"/>
<circle cx="145.45" cy="550.87" r="2.1" fill="#b8d0b8"/>
<circle cx="119.46" cy="501.52" r="2.1" fill="#c8a8a8"/>
<circle cx="105.68" cy="555.34" r="2.1" fill="#d8a0ea"/>
<circle cx="140.02" cy="512.1" r="2.1" fill="#d8a0ea"/>
<circle cx="118.89" cy="520.54" r="2.1" fill="#b8d0b8"/>
<circle cx="141.3" cy="522.56" r="2.1" fill="#f6b880"/>
<circle cx="117.73" cy="516.05" r="2.1" fill="#d8a0ea"/>
<circle cx="119.82" cy="514.19" r="2.1" fill="#c8a8a8"/>
<circle cx="138.3" cy="553.16" r="2.1" fill="#a8a8f2"/>
<circle cx="133.38" cy="488.24" r="2.1" fill="#f6b880"/>
<circle cx="115.82" cy="510.05" r="2.1" fill="#f2a0a0"/>
<circle cx="124.2" cy="524.87" r="2.1" fill="#c8a8a8"/>
<circle cx="151.22" cy="482.03" r="2.1" fill="#f0a8d8"/>
<circle cx="144.34" cy="530.18" r="2.1" fill="#c8a8a8"/>
<circle cx="122.75" cy="529.23" r="2.1" fill="#b8d0b8"/>
<circle cx="120.68" cy="539.06" r="2.1" fill="#a8a8f2"/>
<circle cx="138.3" cy="517.33" r="2.1" fill="#d8a0ea"/>
<circle cx="113.6" cy="523.11" r="2.1" fill="#b8d0b8"/>
<circle cx="105.8" cy="493.99" r="2.1" fill="#a8a8f2"/>
<circle cx="150.55" cy="505.07" r="2.1" fill="#f0a8d8"/>
<circle cx="139.6" cy="565.94" r="2.1" fill="#b8d0b8"/>
<circle cx="139.47" cy="509.48" r="2.1" fill="#f6b880"/>
<circle cx="143.55" cy="505.85" r="2.1" fill="#d8a0ea"/>
<circle cx="107.86" cy="515.15" r="2.1" fill="#f6b880"/>
<circle cx="120.51" cy="564.8" r="2.1" fill="#f2a0a0"/>
<circle cx="137.51" cy="488.91" r="2.1" fill="#f2a0a0"/>
<circle cx="115.51" cy="515.44" r="2.1" fill="#d8a0ea"/>
<circle cx="129.34" cy="535.36" r="2.1" fill="#f0a8d8"/>
<circle cx="144.88" cy="490.44" r="2.1" fill="#f0a8d8"/>
<circle cx="125.62" cy="538.19" r="2.1" fill="#f2a0a0"/>
<circle cx="118.93" cy="551.56" r="2.1" fill="#f2a0a0"/>
<circle cx="108.97" cy="550.32" r="2.1" fill="#f6b880"/>
<circle cx="149.73" cy="555.61" r="2.1" fill="#f2a0a0"/>
<circle cx="105.95" cy="533.56" r="2.1" fill="#c8a8a8"/>
<circle cx="129.81" cy="522.6" r="2.1" fill="#d8a0ea"/>
<circle cx="141.11" cy="557.15" r="2.1" fill="#a8a8f2"/>
<circle cx="144.39" cy="499.46" r="2.1" fill="#f6b880"/>
<circle cx="114.85" cy="486.79" r="2.1" fill="#f6b880"/>
<circle cx="105.62" cy="489.19" r="2.1" fill="#d8a0ea"/>
<circle cx="136.45" cy="495.24" r="2.1" fill="#b8d0b8"/>
<circle cx="136.27" cy="497.82" r="2.1" fill="#f2a0a0"/>
<circle cx="147.3" cy="553.41" r="2.1" fill="#c8a8a8"/>
<circle cx="132.33" cy="557.84" r="2.1" fill="#f2a0a0"/>
<circle cx="116.6" cy="483.27" r="2.1" fill="#f2a0a0"/>
<circle cx="121.48" cy="483.36" r="2.1" fill="#f2a0a0"/>
<circle cx="113.41" cy="555.8" r="2.1" fill="#b8d0b8"/>
<circle cx="134.6" cy="509.05" r="2.1" fill="#f2a0a0"/>
<circle cx="112.08" cy="490.97" r="2.1" fill="#f0a8d8"/>
<circle cx="132.08" cy="497.43" r="2.1" fill="#f2a0a0"/>
<circle cx="126.78" cy="509.29" r="2.1" fill="#f2a0a0"/>
<circle cx="150.16" cy="493" r="2.1" fill="#d8a0ea"/>
<circle cx="149.62" cy="531.62" r="2.1" fill="#f6b880"/>
<circle cx="140.32" cy="557.01" r="2.1" fill="#f0a8d8"/>
<circle cx="148.64" cy="514.67" r="2.1" fill="#f6b880"/>
<circle cx="139.42" cy="548.37" r="2.1" fill="#b8d0b8"/>
<circle cx="116.23" cy="530.23" r="2.1" fill="#f0a8d8"/>
<circle cx="133.68" cy="513.79" r="2.1" fill="#d8a0ea"/>
<circle cx="127.79" cy="502.53" r="2.1" fill="#d8a0ea"/>
<circle cx="145.98" cy="511.79" r="2.1" fill="#c8a8a8"/>
<circle cx="140.32" cy="519.97" r="2.1" fill="#f6b880"/>
<circle cx="145.48" cy="529" r="2.1" fill="#f6b880"/>
<circle cx="119.45" cy="546.43" r="2.1" fill="#b8d0b8"/>
<circle cx="140.95" cy="494.39" r="2.1" fill="#f2a0a0"/>
<circle cx="146.06" cy="524.14" r="2.1" fill="#f6b880"/>
<circle cx="135.43" cy="507.93" r="2.1" fill="#f0a8d8"/>
<circle cx="145.39" cy="490.88" r="2.1" fill="#f2a0a0"/>
<circle cx="150.51" cy="502.56" r="2.1" fill="#c8a8a8"/>
<circle cx="144.58" cy="510.54" r="2.1" fill="#f6b880"/>
<circle cx="119.85" cy="551.11" r="2.1" fill="#d8a0ea"/>
<circle cx="142.37" cy="551.79" r="2.1" fill="#b8d0b8"/>
<circle cx="116.57" cy="542.04" r="2.1" fill="#c8a8a8"/>
<circle cx="109.41" cy="508.7" r="2.1" fill="#d8a0ea"/>
<circle cx="193.11" cy="535.37" r="2.1" fill="#f6b880"/>
<circle cx="167.67" cy="531.19" r="2.1" fill="#c8a8a8"/>
<circle cx="192.4" cy="522.5" r="2.1" fill="#d8a0ea"/>
<circle cx="188.54" cy="511.97" r="2.1" fill="#f0a8d8"/>
<circle cx="166" cy="525.38" r="2.1" fill="#f0a8d8"/>
<circle cx="192.82" cy="501.66" r="2.1" fill="#f6b880"/>
<circle cx="162.27" cy="517.44" r="2.1" fill="#d8a0ea"/>
<circle cx="177.68" cy="508.68" r="2.1" fill="#f2a0a0"/>
<circle cx="194.37" cy="523.19" r="2.1" fill="#c8a8a8"/>
<circle cx="188.96" cy="501.94" r="2.1" fill="#f0a8d8"/>
<circle cx="184.07" cy="521.88" r="2.1" fill="#f2a0a0"/>
<circle cx="156.61" cy="547.6" r="2.1" fill="#d8a0ea"/>
<circle cx="182.75" cy="519.52" r="2.1" fill="#d8a0ea"/>
<circle cx="181.72" cy="531.13" r="2.1" fill="#d8a0ea"/>
<circle cx="160.59" cy="536.23" r="2.1" fill="#d8a0ea"/>
<circle cx="193.43" cy="557.22" r="2.1" fill="#f2a0a0"/>
<circle cx="185.18" cy="534.99" r="2.1" fill="#a8a8f2"/>
<circle cx="173.31" cy="524.76" r="2.1" fill="#d8a0ea"/>
<circle cx="163.64" cy="563.73" r="2.1" fill="#d8a0ea"/>
<circle cx="174.71" cy="560.22" r="2.1" fill="#a8a8f2"/>
<circle cx="180.82" cy="505.16" r="2.1" fill="#f6b880"/>
<circle cx="157.36" cy="513.61" r="2.1" fill="#f6b880"/>
<circle cx="168.09" cy="561.02" r="2.1" fill="#c8a8a8"/>
<circle cx="166.65" cy="517.88" r="2.1" fill="#f2a0a0"/>
<circle cx="154.24" cy="513.9" r="2.1" fill="#a8a8f2"/>
<circle cx="154.55" cy="515.62" r="2.1" fill="#f2a0a0"/>
<circle cx="192.33" cy="550.59" r="2.1" fill="#f0a8d8"/>
<circle cx="169" cy="531.01" r="2.1" fill="#a8a8f2"/>
<circle cx="167.95" cy="541.51" r="2.1" fill="#d8a0ea"/>
<circle cx="171.1" cy="512.87" r="2.1" fill="#f2a0a0"/>
<circle cx="171.08" cy="545.17" r="2.1" fill="#f0a8d8"/>
<circle cx="184.49" cy="511.39" r="2.1" fill="#d8a0ea"/>
<circle cx="196.9" cy="527.69" r="2.1" fill="#f6b880"/>
<circle cx="160.3" cy="547.72" r="2.1" fill="#d8a0ea"/>
<circle cx="161.18" cy="532.11" r="2.1" fill="#f6b880"/>
<circle cx="187.25" cy="528.29" r="2.1" fill="#f6b880"/>
<circle cx="189.41" cy="550.43" r="2.1" fill="#f2a0a0"/>
<circle cx="193.49" cy="521.28" r="2.1" fill="#f6b880"/>
<circle cx="185.62" cy="521.97" r="2.1" fill="#c8a8a8"/>
<circle cx="160.72" cy="508.35" r="2.1" fill="#d8a0ea"/>
<circle cx="166.93" cy="543.55" r="2.1" fill="#f0a8d8"/>
<circle cx="156.67" cy="522.14" r="2.1" fill="#c8a8a8"/>
<circle cx="172.09" cy="555.4" r="2.1" fill="#f6b880"/>
<circle cx="189.14" cy="500.1" r="2.1" fill="#c8a8a8"/>
<circle cx="173.87" cy="518.38" r="2.1" fill="#f0a8d8"/>
<circle cx="158.46" cy="561.05" r="2.1" fill="#f2a0a0"/>
<circle cx="181.89" cy="546.58" r="2.1" fill="#f0a8d8"/>
<circle cx="175.73" cy="523.04" r="2.1" fill="#f2a0a0"/>
<circle cx="193.52" cy="512.42" r="2.1" fill="#f2a0a0"/>
<circle cx="179.85" cy="513.85" r="2.1" fill="#a8a8f2"/>
<circle cx="167.12" cy="560.47" r="2.1" fill="#f6b880"/>
<circle cx="164.61" cy="539" r="2.1" fill="#a8a8f2"/>
<circle cx="164.6" cy="515.2" r="2.1" fill="#b8d0b8"/>
<circle cx="155.42" cy="501.65" r="2.1" fill="#d8a0ea"/>
<circle cx="170.74" cy="556.72" r="2.1" fill="#f2a0a0"/>
<circle cx="170.34" cy="517.47" r="2.1" fill="#d8a0ea"/>
<circle cx="157.17" cy="530.95" r="2.1" fill="#d8a0ea"/>
<circle cx="174.76" cy="537.05" r="2.1" fill="#a8a8f2"/>
<circle cx="171.47" cy="518.06" r="2.1" fill="#f6b880"/>
<circle cx="164.8" cy="522.89" r="2.1" fill="#b8d0b8"/>
<circle cx="158.31" cy="520.43" r="2.1" fill="#f2a0a0"/>
<circle cx="189.5" cy="516.09" r="2.1" fill="#c8a8a8"/>
<circle cx="186.13" cy="506.18" r="2.1" fill="#f2a0a0"/>
<circle cx="174.06" cy="529.95" r="2.1" fill="#c8a8a8"/>
<circle cx="179.24" cy="517.35" r="2.1" fill="#d8a0ea"/>
<circle cx="185.2" cy="520.57" r="2.1" fill="#c8a8a8"/>
<circle cx="167.25" cy="520.07" r="2.1" fill="#a8a8f2"/>
<circle cx="175.07" cy="510.95" r="2.1" fill="#d8a0ea"/>
<circle cx="155.6" cy="513.43" r="2.1" fill="#d8a0ea"/>
<circle cx="167.21" cy="521.67" r="2.1" fill="#d8a0ea"/>
<circle cx="198.62" cy="565.25" r="2.1" fill="#b8d0b8"/>
<circle cx="163.19" cy="529.38" r="2.1" fill="#f2a0a0"/>
<circle cx="189.43" cy="521.55" r="2.1" fill="#a8a8f2"/>
<circle cx="191.94" cy="538.35" r="2.1" fill="#f2a0a0"/>
<circle cx="166.2" cy="517.56" r="2.1" fill="#a8a8f2"/>
<circle cx="158.72" cy="554.58" r="2.1" fill="#d8a0ea"/>
<circle cx="192.2" cy="526.76" r="2.1" fill="#a8a8f2"/>
<circle cx="171.3" cy="518.29" r="2.1" fill="#f6b880"/>
<circle cx="183.38" cy="519.91" r="2.1" fill="#d8a0ea"/>
<circle cx="187.09" cy="517.34" r="2.1" fill="#f2a0a0"/>
<circle cx="172.34" cy="563.82" r="2.1" fill="#c8a8a8"/>
<circle cx="164.28" cy="539.28" r="2.1" fill="#f2a0a0"/>
<circle cx="154.49" cy="542.26" r="2.1" fill="#c8a8a8"/>
<circle cx="180.79" cy="546.47" r="2.1" fill="#c8a8a8"/>
<circle cx="174.44" cy="563.76" r="2.1" fill="#f2a0a0"/>
<circle cx="190.96" cy="511.71" r="2.1" fill="#a8a8f2"/>
<circle cx="154.64" cy="519.74" r="2.1" fill="#f2a0a0"/>
<circle cx="166.68" cy="536.17" r="2.1" fill="#f0a8d8"/>
<circle cx="166.84" cy="526.96" r="2.1" fill="#f2a0a0"/>
<circle cx="160.35" cy="504.47" r="2.1" fill="#f2a0a0"/>
<circle cx="154.32" cy="534.98" r="2.1" fill="#f6b880"/>
<circle cx="185.22" cy="531.89" r="2.1" fill="#a8a8f2"/>
<circle cx="191.53" cy="517.37" r="2.1" fill="#f6b880"/>
<circle cx="190.96" cy="522.39" r="2.1" fill="#b8d0b8"/>
<circle cx="188.28" cy="520.93" r="2.1" fill="#f2a0a0"/>
<circle cx="215.38" cy="487.3" r="2.1" fill="#f6b880"/>
<circle cx="224.66" cy="488.97" r="2.1" fill="#f2a0a0"/>
<circle cx="210.84" cy="488.26" r="2.1" fill="#f6b880"/>
<circle cx="216.84" cy="533.52" r="2.1" fill="#d8a0ea"/>
<circle cx="209.67" cy="483.64" r="2.1" fill="#f0a8d8"/>
<circle cx="219.13" cy="509.02" r="2.1" fill="#f6b880"/>
<circle cx="211.67" cy="503.52" r="2.1" fill="#f6b880"/>
<circle cx="221.89" cy="509.56" r="2.1" fill="#d8a0ea"/>
<circle cx="203.79" cy="515.18" r="2.1" fill="#b8d0b8"/>
<circle cx="213.68" cy="482.52" r="2.1" fill="#f0a8d8"/>
<circle cx="205.53" cy="484.09" r="2.1" fill="#f0a8d8"/>
<circle cx="211.65" cy="528.17" r="2.1" fill="#f0a8d8"/>
<circle cx="201.12" cy="550.5" r="2.1" fill="#c8a8a8"/>
<circle cx="209.65" cy="510.86" r="2.1" fill="#f0a8d8"/>
<circle cx="212.36" cy="546.29" r="2.1" fill="#c8a8a8"/>
<circle cx="227.86" cy="478.67" r="2.1" fill="#f6b880"/>
<circle cx="204.7" cy="556.26" r="2.1" fill="#c8a8a8"/>
<circle cx="209.47" cy="521.69" r="2.1" fill="#a8a8f2"/>
<circle cx="212.99" cy="518.34" r="2.1" fill="#c8a8a8"/>
<circle cx="203.58" cy="489.95" r="2.1" fill="#f2a0a0"/>
<circle cx="222.37" cy="481.4" r="2.1" fill="#f2a0a0"/>
<circle cx="224.37" cy="542.59" r="2.1" fill="#c8a8a8"/>
<circle cx="210.47" cy="489.91" r="2.1" fill="#f0a8d8"/>
<circle cx="208.84" cy="477.33" r="2.1" fill="#f2a0a0"/>
<circle cx="214.55" cy="510.85" r="2.1" fill="#d8a0ea"/>
<circle cx="219.71" cy="480.2" r="2.1" fill="#f0a8d8"/>
<circle cx="225.69" cy="529" r="2.1" fill="#f2a0a0"/>
<circle cx="208.91" cy="486.15" r="2.1" fill="#f6b880"/>
<circle cx="215.55" cy="500.26" r="2.1" fill="#f2a0a0"/>
<circle cx="225.03" cy="545.71" r="2.1" fill="#d8a0ea"/>
<circle cx="216.1" cy="477.2" r="2.1" fill="#c8a8a8"/>
<circle cx="216.4" cy="484.38" r="2.1" fill="#f6b880"/>
<circle cx="216.84" cy="514.13" r="2.1" fill="#f0a8d8"/>
<circle cx="207.78" cy="556.06" r="2.1" fill="#f6b880"/>
<circle cx="203.14" cy="513.43" r="2.1" fill="#d8a0ea"/>
<circle cx="212" cy="476.01" r="2.1" fill="#f2a0a0"/>
<circle cx="223.22" cy="488.89" r="2.1" fill="#d8a0ea"/>
<circle cx="206.41" cy="525.17" r="2.1" fill="#f6b880"/>
<circle cx="219.92" cy="528.93" r="2.1" fill="#c8a8a8"/>
<circle cx="228.16" cy="524.73" r="2.1" fill="#f0a8d8"/>
<circle cx="201.55" cy="524.8" r="2.1" fill="#a8a8f2"/>
<circle cx="228.96" cy="561.87" r="2.1" fill="#f0a8d8"/>
<circle cx="224.11" cy="487.97" r="2.1" fill="#d8a0ea"/>
<circle cx="216.49" cy="547.45" r="2.1" fill="#f0a8d8"/>
<circle cx="221.41" cy="551.05" r="2.1" fill="#d8a0ea"/>
<circle cx="207.83" cy="509.98" r="2.1" fill="#d8a0ea"/>
<circle cx="220.93" cy="483.35" r="2.1" fill="#f6b880"/>
<circle cx="226.7" cy="483.02" r="2.1" fill="#f2a0a0"/>
<circle cx="224.79" cy="511.89" r="2.1" fill="#f6b880"/>
<circle cx="221.17" cy="546.29" r="2.1" fill="#d8a0ea"/>
<circle cx="221.03" cy="547.05" r="2.1" fill="#b8d0b8"/>
<circle cx="226.65" cy="484.49" r="2.1" fill="#f6b880"/>
<circle cx="214.44" cy="536.2" r="2.1" fill="#c8a8a8"/>
<circle cx="208.68" cy="549.09" r="2.1" fill="#d8a0ea"/>
<circle cx="216.31" cy="485.92" r="2.1" fill="#f2a0a0"/>
<circle cx="201.88" cy="502.45" r="2.1" fill="#f2a0a0"/>
<circle cx="219.97" cy="535.19" r="2.1" fill="#f0a8d8"/>
<circle cx="224.12" cy="510.12" r="2.1" fill="#f6b880"/>
<circle cx="202.46" cy="558.08" r="2.1" fill="#f2a0a0"/>
<circle cx="228.18" cy="487.4" r="2.1" fill="#f2a0a0"/>
<circle cx="226.42" cy="485.65" r="2.1" fill="#f6b880"/>
<circle cx="229.03" cy="530.49" r="2.1" fill="#d8a0ea"/>
<circle cx="228.29" cy="478.43" r="2.1" fill="#f6b880"/>
<circle cx="214.88" cy="496.54" r="2.1" fill="#d8a0ea"/>
<circle cx="222.34" cy="477.09" r="2.1" fill="#f6b880"/>
<circle cx="223.04" cy="559.47" r="2.1" fill="#f2a0a0"/>
<circle cx="204.34" cy="486.21" r="2.1" fill="#f6b880"/>
<circle cx="228.36" cy="515.51" r="2.1" fill="#d8a0ea"/>
<circle cx="229.3" cy="554.8" r="2.1" fill="#f0a8d8"/>
<circle cx="203.12" cy="489.46" r="2.1" fill="#f2a0a0"/>
<circle cx="229.1" cy="486.1" r="2.1" fill="#f0a8d8"/>
<circle cx="217.17" cy="549.86" r="2.1" fill="#f6b880"/>
<circle cx="215.6" cy="548.96" r="2.1" fill="#a8a8f2"/>
<circle cx="212.36" cy="486.73" r="2.1" fill="#f6b880"/>
<circle cx="204.77" cy="484.75" r="2.1" fill="#d8a0ea"/>
<circle cx="246.79" cy="511.23" r="2.1" fill="#f2a0a0"/>
<circle cx="249.7" cy="551.1" r="2.1" fill="#f0a8d8"/>
<circle cx="268.52" cy="547.14" r="2.1" fill="#c8a8a8"/>
<circle cx="261.64" cy="524.18" r="2.1" fill="#d8a0ea"/>
<circle cx="270.84" cy="502.72" r="2.1" fill="#b8d0b8"/>
<circle cx="265.86" cy="514.69" r="2.1" fill="#f6b880"/>
<circle cx="246.47" cy="533.8" r="2.1" fill="#a8a8f2"/>
<circle cx="269.65" cy="492.96" r="2.1" fill="#f6b880"/>
<circle cx="246.76" cy="488.66" r="2.1" fill="#f0a8d8"/>
<circle cx="265.03" cy="559.51" r="2.1" fill="#b8d0b8"/>
<circle cx="276.02" cy="549.21" r="2.1" fill="#d8a0ea"/>
<circle cx="254.93" cy="514.46" r="2.1" fill="#f0a8d8"/>
<circle cx="235.88" cy="559.8" r="2.1" fill="#a8a8f2"/>
<circle cx="238.82" cy="518.22" r="2.1" fill="#f0a8d8"/>
<circle cx="243.86" cy="479.04" r="2.1" fill="#f6b880"/>
<circle cx="283.47" cy="514.24" r="2.1" fill="#f6b880"/>
<circle cx="253.26" cy="494.25" r="2.1" fill="#f6b880"/>
<circle cx="276.07" cy="484.93" r="2.1" fill="#d8a0ea"/>
<circle cx="254.67" cy="545.45" r="2.1" fill="#f6b880"/>
<circle cx="260.33" cy="545.55" r="2.1" fill="#d8a0ea"/>
<circle cx="234.04" cy="557.56" r="2.1" fill="#f6b880"/>
<circle cx="266.81" cy="500.13" r="2.1" fill="#f2a0a0"/>
<circle cx="296.56" cy="506.27" r="2.1" fill="#f6b880"/>
<circle cx="245.97" cy="483.37" r="2.1" fill="#f6b880"/>
<circle cx="284.11" cy="552.22" r="2.1" fill="#f2a0a0"/>
<circle cx="242.39" cy="556.98" r="2.1" fill="#f0a8d8"/>
<circle cx="283.3" cy="530.65" r="2.1" fill="#c8a8a8"/>
<circle cx="250.81" cy="558.35" r="2.1" fill="#f6b880"/>
<circle cx="293.92" cy="496.02" r="2.1" fill="#c8a8a8"/>
<circle cx="285.06" cy="486.22" r="2.1" fill="#f6b880"/>
<circle cx="294.23" cy="544.32" r="2.1" fill="#f0a8d8"/>
<circle cx="289.07" cy="537.2" r="2.1" fill="#f0a8d8"/>
<circle cx="289.46" cy="534.83" r="2.1" fill="#a8a8f2"/>
<circle cx="287.3" cy="513.62" r="2.1" fill="#c8a8a8"/>
<circle cx="266.51" cy="561.06" r="2.1" fill="#f0a8d8"/>
<circle cx="274.03" cy="489.72" r="2.1" fill="#d8a0ea"/>
<circle cx="247.78" cy="508.63" r="2.1" fill="#f6b880"/>
<circle cx="254.49" cy="533.1" r="2.1" fill="#a8a8f2"/>
<circle cx="261.16" cy="519.24" r="2.1" fill="#f6b880"/>
<circle cx="267.9" cy="491.17" r="2.1" fill="#c8a8a8"/>
<circle cx="237.86" cy="512.47" r="2.1" fill="#c8a8a8"/>
<circle cx="249.98" cy="513.19" r="2.1" fill="#f2a0a0"/>
<circle cx="293.71" cy="502.45" r="2.1" fill="#a8a8f2"/>
<circle cx="263.83" cy="552.34" r="2.1" fill="#a8a8f2"/>
<circle cx="266.41" cy="523.53" r="2.1" fill="#a8a8f2"/>
<circle cx="234.55" cy="519.82" r="2.1" fill="#f0a8d8"/>
<circle cx="284.18" cy="505.59" r="2.1" fill="#d8a0ea"/>
<circle cx="289.14" cy="542" r="2.1" fill="#d8a0ea"/>
<circle cx="274.53" cy="508.02" r="2.1" fill="#f6b880"/>
<circle cx="273.42" cy="496.59" r="2.1" fill="#f0a8d8"/>
<circle cx="248.87" cy="565.34" r="2.1" fill="#f2a0a0"/>
<circle cx="283.67" cy="539.52" r="2.1" fill="#b8d0b8"/>
<circle cx="285.76" cy="529.08" r="2.1" fill="#c8a8a8"/>
<circle cx="251.21" cy="527.5" r="2.1" fill="#d8a0ea"/>
<circle cx="242.43" cy="548.23" r="2.1" fill="#f0a8d8"/>
<circle cx="260.09" cy="531.15" r="2.1" fill="#d8a0ea"/>
<circle cx="255.9" cy="528.29" r="2.1" fill="#d8a0ea"/>
<circle cx="242.03" cy="512.3" r="2.1" fill="#f6b880"/>
<circle cx="269.75" cy="557.05" r="2.1" fill="#d8a0ea"/>
<circle cx="275.1" cy="508.24" r="2.1" fill="#f6b880"/>
<circle cx="270.34" cy="501.81" r="2.1" fill="#f0a8d8"/>
<circle cx="264.72" cy="562.58" r="2.1" fill="#a8a8f2"/>
<circle cx="239.31" cy="505.81" r="2.1" fill="#f6b880"/>
<circle cx="248.34" cy="533.47" r="2.1" fill="#c8a8a8"/>
<circle cx="294.52" cy="543.85" r="2.1" fill="#f2a0a0"/>
<circle cx="242.96" cy="485.75" r="2.1" fill="#f2a0a0"/>
<circle cx="266.9" cy="527.5" r="2.1" fill="#f6b880"/>
<circle cx="236.17" cy="479.18" r="2.1" fill="#c8a8a8"/>
<circle cx="288.1" cy="515.52" r="2.1" fill="#a8a8f2"/>
<circle cx="254.74" cy="517.89" r="2.1" fill="#f0a8d8"/>
<circle cx="264.09" cy="555.23" r="2.1" fill="#d8a0ea"/>
<circle cx="259.19" cy="511.88" r="2.1" fill="#f2a0a0"/>
<circle cx="289.1" cy="553.49" r="2.1" fill="#f2a0a0"/>
<circle cx="291.59" cy="489.1" r="2.1" fill="#f6b880"/>
<circle cx="248.9" cy="532.45" r="2.1" fill="#a8a8f2"/>
<circle cx="237.68" cy="535.51" r="2.1" fill="#f0a8d8"/>
<circle cx="279.91" cy="506.51" r="2.1" fill="#f6b880"/>
<circle cx="284.02" cy="539.63" r="2.1" fill="#b8d0b8"/>
<circle cx="250.21" cy="482.43" r="2.1" fill="#f0a8d8"/>
<circle cx="233.3" cy="554.51" r="2.1" fill="#d8a0ea"/>
<circle cx="233.38" cy="547.04" r="2.1" fill="#a8a8f2"/>
<circle cx="253.08" cy="511.69" r="2.1" fill="#f0a8d8"/>
<circle cx="249.09" cy="564.6" r="2.1" fill="#d8a0ea"/>
<circle cx="277.82" cy="494.5" r="2.1" fill="#d8a0ea"/>
<circle cx="276.11" cy="517.47" r="2.1" fill="#b8d0b8"/>
<circle cx="237.09" cy="556.6" r="2.1" fill="#c8a8a8"/>
<circle cx="261.6" cy="510.48" r="2.1" fill="#c8a8a8"/>
<circle cx="261.48" cy="541.39" r="2.1" fill="#d8a0ea"/>
<circle cx="255.38" cy="502.38" r="2.1" fill="#f2a0a0"/>
<circle cx="294.67" cy="516.25" r="2.1" fill="#f6b880"/>
<circle cx="294.59" cy="493.48" r="2.1" fill="#f0a8d8"/>
<circle cx="270.61" cy="494.07" r="2.1" fill="#f6b880"/>
<circle cx="264.97" cy="521.87" r="2.1" fill="#f6b880"/>
<circle cx="259.58" cy="506.83" r="2.1" fill="#d8a0ea"/>
<circle cx="261.74" cy="529.12" r="2.1" fill="#d8a0ea"/>
<circle cx="234.97" cy="497.79" r="2.1" fill="#f2a0a0"/>
<circle cx="243.9" cy="512.28" r="2.1" fill="#f6b880"/>
<circle cx="280.24" cy="520.25" r="2.1" fill="#f0a8d8"/>
<circle cx="244.37" cy="493.13" r="2.1" fill="#d8a0ea"/>
<circle cx="232.7" cy="551.8" r="2.1" fill="#a8a8f2"/>
<circle cx="264.86" cy="512.83" r="2.1" fill="#d8a0ea"/>
<circle cx="259.84" cy="524.4" r="2.1" fill="#a8a8f2"/>
<circle cx="246.25" cy="519.99" r="2.1" fill="#f6b880"/>
<circle cx="235.48" cy="517.05" r="2.1" fill="#a8a8f2"/>
<circle cx="292.27" cy="557.98" r="2.1" fill="#c8a8a8"/>
<circle cx="268.04" cy="514.47" r="2.1" fill="#c8a8a8"/>
<circle cx="233.51" cy="495.5" r="2.1" fill="#f2a0a0"/>
<circle cx="252.19" cy="508.72" r="2.1" fill="#f2a0a0"/>
<circle cx="276.49" cy="511.82" r="2.1" fill="#d8a0ea"/>
<circle cx="276.66" cy="525.5" r="2.1" fill="#d8a0ea"/>
<circle cx="293.57" cy="503.77" r="2.1" fill="#d8a0ea"/>
<circle cx="255.6" cy="506.92" r="2.1" fill="#f6b880"/>
<circle cx="234.26" cy="548.28" r="2.1" fill="#a8a8f2"/>
<circle cx="269.33" cy="526.9" r="2.1" fill="#f6b880"/>
<circle cx="260.61" cy="544.65" r="2.1" fill="#f6b880"/>
<circle cx="295.77" cy="561.35" r="2.1" fill="#a8a8f2"/>
<circle cx="281.15" cy="506.93" r="2.1" fill="#f2a0a0"/>
<circle cx="286.77" cy="555.24" r="2.1" fill="#f6b880"/>
<circle cx="253.18" cy="565.92" r="2.1" fill="#a8a8f2"/>
<circle cx="234.72" cy="479.13" r="2.1" fill="#f6b880"/>
<circle cx="285.44" cy="530.95" r="2.1" fill="#f0a8d8"/>
<circle cx="264.68" cy="539.67" r="2.1" fill="#f2a0a0"/>
<circle cx="267.06" cy="540.83" r="2.1" fill="#b8d0b8"/>
<circle cx="233.96" cy="493.47" r="2.1" fill="#f2a0a0"/>
<circle cx="250.64" cy="514.55" r="2.1" fill="#f0a8d8"/>
<circle cx="279.62" cy="543.81" r="2.1" fill="#a8a8f2"/>
<circle cx="254.41" cy="518.06" r="2.1" fill="#d8a0ea"/>
<circle cx="261.05" cy="509.37" r="2.1" fill="#f6b880"/>
<circle cx="277.81" cy="512.42" r="2.1" fill="#a8a8f2"/>
<circle cx="240.83" cy="508.48" r="2.1" fill="#a8a8f2"/>
<circle cx="252.86" cy="489" r="2.1" fill="#c8a8a8"/>
<circle cx="266.76" cy="507.47" r="2.1" fill="#f6b880"/>
<circle cx="278.53" cy="502.88" r="2.1" fill="#d8a0ea"/>
<circle cx="235.73" cy="508.71" r="2.1" fill="#f2a0a0"/>
<circle cx="286.67" cy="492.58" r="2.1" fill="#f0a8d8"/>
<circle cx="285.83" cy="512.44" r="2.1" fill="#a8a8f2"/>
<circle cx="262.86" cy="548.67" r="2.1" fill="#b8d0b8"/>
<circle cx="235.61" cy="524.66" r="2.1" fill="#d8a0ea"/>
<circle cx="262.39" cy="552.03" r="2.1" fill="#f6b880"/>
<circle cx="291.25" cy="538.85" r="2.1" fill="#f6b880"/>
<circle cx="236.47" cy="514.51" r="2.1" fill="#a8a8f2"/>
<circle cx="280.96" cy="539.5" r="2.1" fill="#b8d0b8"/>
<circle cx="293.96" cy="483.08" r="2.1" fill="#f2a0a0"/>
<circle cx="248.22" cy="549.35" r="2.1" fill="#f2a0a0"/>
<circle cx="255.99" cy="529.78" r="2.1" fill="#f6b880"/>
<circle cx="260.93" cy="511.14" r="2.1" fill="#c8a8a8"/>
<circle cx="243.5" cy="544.42" r="2.1" fill="#d8a0ea"/>
<circle cx="266.21" cy="496.31" r="2.1" fill="#d8a0ea"/>
<circle cx="284.6" cy="505.07" r="2.1" fill="#b8d0b8"/>
<circle cx="246.37" cy="564.78" r="2.1" fill="#f6b880"/>
<circle cx="309.73" cy="524.27" r="2.1" fill="#f0a8d8"/>
<circle cx="309.27" cy="495.38" r="2.1" fill="#f0a8d8"/>
<circle cx="330.1" cy="494.02" r="2.1" fill="#f2a0a0"/>
<circle cx="304.31" cy="536.81" r="2.1" fill="#c8a8a8"/>
<circle cx="314.44" cy="544.82" r="2.1" fill="#d8a0ea"/>
<circle cx="322.54" cy="554.54" r="2.1" fill="#d8a0ea"/>
<circle cx="325.51" cy="551.95" r="2.1" fill="#a8a8f2"/>
<circle cx="299.04" cy="558.28" r="2.1" fill="#f2a0a0"/>
<circle cx="331.67" cy="518.18" r="2.1" fill="#f0a8d8"/>
<circle cx="311.51" cy="558.66" r="2.1" fill="#f2a0a0"/>
<circle cx="300.23" cy="527.19" r="2.1" fill="#f2a0a0"/>
<circle cx="316.45" cy="499.72" r="2.1" fill="#f6b880"/>
<circle cx="324.89" cy="564.2" r="2.1" fill="#f6b880"/>
<circle cx="308.02" cy="542.05" r="2.1" fill="#c8a8a8"/>
<circle cx="311.08" cy="522.11" r="2.1" fill="#a8a8f2"/>
<circle cx="318.04" cy="541.11" r="2.1" fill="#d8a0ea"/>
<circle cx="323.01" cy="530.53" r="2.1" fill="#f2a0a0"/>
<circle cx="306.75" cy="515.58" r="2.1" fill="#d8a0ea"/>
<circle cx="308.31" cy="499.79" r="2.1" fill="#d8a0ea"/>
<circle cx="326.1" cy="511.27" r="2.1" fill="#f2a0a0"/>
<circle cx="307.89" cy="517.74" r="2.1" fill="#c8a8a8"/>
<circle cx="306.78" cy="555.11" r="2.1" fill="#f0a8d8"/>
<circle cx="336.79" cy="502.56" r="2.1" fill="#f2a0a0"/>
<circle cx="303.76" cy="527.45" r="2.1" fill="#f6b880"/>
<circle cx="330.17" cy="509.03" r="2.1" fill="#f6b880"/>
<circle cx="306.99" cy="505.62" r="2.1" fill="#c8a8a8"/>
<circle cx="307.99" cy="518.13" r="2.1" fill="#d8a0ea"/>
<circle cx="299.88" cy="499.37" r="2.1" fill="#f6b880"/>
<circle cx="303.56" cy="512.55" r="2.1" fill="#f0a8d8"/>
<circle cx="326.71" cy="488.33" r="2.1" fill="#c8a8a8"/>
<circle cx="331.73" cy="559.27" r="2.1" fill="#c8a8a8"/>
<circle cx="332.83" cy="537.06" r="2.1" fill="#d8a0ea"/>
<circle cx="306.28" cy="515.34" r="2.1" fill="#d8a0ea"/>
<circle cx="317.41" cy="533.34" r="2.1" fill="#f0a8d8"/>
<circle cx="302.97" cy="519.48" r="2.1" fill="#a8a8f2"/>
<circle cx="320.66" cy="518.59" r="2.1" fill="#d8a0ea"/>
<circle cx="301.14" cy="504.48" r="2.1" fill="#b8d0b8"/>
<circle cx="338.88" cy="515.68" r="2.1" fill="#b8d0b8"/>
<circle cx="326.66" cy="513.1" r="2.1" fill="#f2a0a0"/>
<circle cx="326.8" cy="533" r="2.1" fill="#f6b880"/>
<circle cx="301.77" cy="495.12" r="2.1" fill="#f0a8d8"/>
<circle cx="323.3" cy="528.83" r="2.1" fill="#a8a8f2"/>
<circle cx="312.73" cy="557.07" r="2.1" fill="#f2a0a0"/>
<circle cx="337.63" cy="492.33" r="2.1" fill="#f2a0a0"/>
<circle cx="303.42" cy="558.43" r="2.1" fill="#f6b880"/>
<circle cx="324.83" cy="555.01" r="2.1" fill="#f2a0a0"/>
<circle cx="317.75" cy="518.52" r="2.1" fill="#c8a8a8"/>
<circle cx="304.8" cy="502.17" r="2.1" fill="#f2a0a0"/>
<circle cx="336.62" cy="541.11" r="2.1" fill="#d8a0ea"/>
<circle cx="328.37" cy="523.61" r="2.1" fill="#f2a0a0"/>
<circle cx="333.69" cy="519.22" r="2.1" fill="#f0a8d8"/>
<circle cx="324.71" cy="563.17" r="2.1" fill="#f6b880"/>
<circle cx="333.06" cy="549.58" r="2.1" fill="#d8a0ea"/>
<circle cx="327.95" cy="514.07" r="2.1" fill="#f6b880"/>
<circle cx="338.24" cy="522.33" r="2.1" fill="#a8a8f2"/>
<circle cx="300.93" cy="551.35" r="2.1" fill="#d8a0ea"/>
<circle cx="320.76" cy="518.43" r="2.1" fill="#f6b880"/>
<circle cx="308.89" cy="550.8" r="2.1" fill="#d8a0ea"/>
<circle cx="309.6" cy="526.39" r="2.1" fill="#d8a0ea"/>
<circle cx="330.57" cy="510.52" r="2.1" fill="#b8d0b8"/>
<circle cx="338.45" cy="488.67" r="2.1" fill="#f6b880"/>
<circle cx="315.13" cy="553.15" r="2.1" fill="#b8d0b8"/>
<circle cx="308.95" cy="539.1" r="2.1" fill="#c8a8a8"/>
<circle cx="333.31" cy="513.73" r="2.1" fill="#f0a8d8"/>
<circle cx="331.01" cy="553.2" r="2.1" fill="#a8a8f2"/>
<circle cx="315.11" cy="491.05" r="2.1" fill="#f0a8d8"/>
<circle cx="310.51" cy="514.46" r="2.1" fill="#a8a8f2"/>
<circle cx="321.41" cy="507.68" r="2.1" fill="#c8a8a8"/>
<circle cx="330.19" cy="556.2" r="2.1" fill="#b8d0b8"/>
<circle cx="301.08" cy="510.97" r="2.1" fill="#f6b880"/>
<circle cx="336.34" cy="548.51" r="2.1" fill="#f2a0a0"/>
<circle cx="323.64" cy="488.33" r="2.1" fill="#f2a0a0"/>
<circle cx="315.01" cy="503.48" r="2.1" fill="#d8a0ea"/>
<circle cx="300.48" cy="490.71" r="2.1" fill="#f6b880"/>
<circle cx="336.01" cy="527.7" r="2.1" fill="#f0a8d8"/>
<circle cx="335.38" cy="489.04" r="2.1" fill="#d8a0ea"/>
<circle cx="333.3" cy="555.77" r="2.1" fill="#f0a8d8"/>
<circle cx="311.17" cy="559.29" r="2.1" fill="#f6b880"/>
<circle cx="317.69" cy="553.23" r="2.1" fill="#f2a0a0"/>
<circle cx="314.12" cy="555.63" r="2.1" fill="#f6b880"/>
<circle cx="314.24" cy="490.2" r="2.1" fill="#f2a0a0"/>
<circle cx="317.43" cy="528.07" r="2.1" fill="#a8a8f2"/>
<circle cx="322.26" cy="553.52" r="2.1" fill="#a8a8f2"/>
<circle cx="305.11" cy="539.62" r="2.1" fill="#d8a0ea"/>
<circle cx="334.07" cy="514.64" r="2.1" fill="#d8a0ea"/>
<circle cx="310.16" cy="531.24" r="2.1" fill="#a8a8f2"/>
<circle cx="311.74" cy="549.9" r="2.1" fill="#c8a8a8"/>
<circle cx="315.91" cy="516.24" r="2.1" fill="#f6b880"/>
<circle cx="334.81" cy="515.6" r="2.1" fill="#f0a8d8"/>
<circle cx="334.39" cy="532.46" r="2.1" fill="#f6b880"/>
<circle cx="304.84" cy="513.41" r="2.1" fill="#a8a8f2"/>
<circle cx="312.12" cy="564.87" r="2.1" fill="#d8a0ea"/>
<circle cx="309" cy="510.94" r="2.1" fill="#d8a0ea"/>
<circle cx="320.06" cy="510.43" r="2.1" fill="#f6b880"/>
<circle cx="327.18" cy="493.29" r="2.1" fill="#f0a8d8"/>
<circle cx="301.17" cy="555.22" r="2.1" fill="#b8d0b8"/>
<circle cx="333.71" cy="519.01" r="2.1" fill="#d8a0ea"/>
<circle cx="314.66" cy="541.28" r="2.1" fill="#a8a8f2"/>
<circle cx="319.02" cy="504.76" r="2.1" fill="#b8d0b8"/>
<circle cx="317.97" cy="557.92" r="2.1" fill="#d8a0ea"/>
<circle cx="320.52" cy="548.81" r="2.1" fill="#a8a8f2"/>
<circle cx="336.23" cy="535.59" r="2.1" fill="#f6b880"/>
<circle cx="329.01" cy="512.64" r="2.1" fill="#f6b880"/>
<circle cx="332.99" cy="550.23" r="2.1" fill="#f6b880"/>
<circle cx="317.95" cy="563.34" r="2.1" fill="#c8a8a8"/>
<circle cx="336.07" cy="529.99" r="2.1" fill="#a8a8f2"/>
<circle cx="330.37" cy="513.1" r="2.1" fill="#d8a0ea"/>
<circle cx="320.22" cy="557.13" r="2.1" fill="#f0a8d8"/>
<circle cx="337.57" cy="527.8" r="2.1" fill="#f6b880"/>
<circle cx="334.42" cy="522.38" r="2.1" fill="#f6b880"/>
<circle cx="319.67" cy="503.52" r="2.1" fill="#f0a8d8"/>
<circle cx="332.88" cy="519.95" r="2.1" fill="#f2a0a0"/>
<circle cx="303.43" cy="506.34" r="2.1" fill="#c8a8a8"/>
<circle cx="316.38" cy="517.25" r="2.1" fill="#f6b880"/>
<circle cx="300.66" cy="524.81" r="2.1" fill="#f6b880"/>
<circle cx="354.89" cy="521.83" r="2.1" fill="#f2a0a0"/>
<circle cx="349.13" cy="530.88" r="2.1" fill="#f6b880"/>
<circle cx="381.76" cy="481.04" r="2.1" fill="#d8a0ea"/>
<circle cx="373.15" cy="505.62" r="2.1" fill="#f6b880"/>
<circle cx="344.83" cy="517.3" r="2.1" fill="#f0a8d8"/>
<circle cx="345.82" cy="496.94" r="2.1" fill="#d8a0ea"/>
<circle cx="362.25" cy="516.52" r="2.1" fill="#f0a8d8"/>
<circle cx="367.41" cy="537.41" r="2.1" fill="#f0a8d8"/>
<circle cx="365.59" cy="514.8" r="2.1" fill="#f6b880"/>
<circle cx="356.78" cy="557.42" r="2.1" fill="#d8a0ea"/>
<circle cx="362.64" cy="514.78" r="2.1" fill="#f6b880"/>
<circle cx="370.28" cy="551.06" r="2.1" fill="#d8a0ea"/>
<circle cx="366.51" cy="478.29" r="2.1" fill="#f2a0a0"/>
<circle cx="343.86" cy="556.11" r="2.1" fill="#f6b880"/>
<circle cx="351.6" cy="563.68" r="2.1" fill="#d8a0ea"/>
<circle cx="380.87" cy="548.04" r="2.1" fill="#f6b880"/>
<circle cx="378.75" cy="543.82" r="2.1" fill="#f2a0a0"/>
<circle cx="373.19" cy="504.3" r="2.1" fill="#d8a0ea"/>
<circle cx="359.47" cy="524.22" r="2.1" fill="#f0a8d8"/>
<circle cx="368.45" cy="496.27" r="2.1" fill="#f0a8d8"/>
<circle cx="342.63" cy="554.19" r="2.1" fill="#f2a0a0"/>
<circle cx="344.14" cy="527.89" r="2.1" fill="#a8a8f2"/>
<circle cx="380.46" cy="541.18" r="2.1" fill="#b8d0b8"/>
<circle cx="376.74" cy="565.1" r="2.1" fill="#a8a8f2"/>
<circle cx="351.63" cy="494.85" r="2.1" fill="#f2a0a0"/>
<circle cx="351.22" cy="492.11" r="2.1" fill="#f6b880"/>
<circle cx="378.18" cy="503.56" r="2.1" fill="#f6b880"/>
<circle cx="376.82" cy="501.12" r="2.1" fill="#f2a0a0"/>
<circle cx="380.21" cy="530.94" r="2.1" fill="#c8a8a8"/>
<circle cx="342.12" cy="552.31" r="2.1" fill="#a8a8f2"/>
<circle cx="377.01" cy="499.05" r="2.1" fill="#f2a0a0"/>
<circle cx="347.2" cy="500.77" r="2.1" fill="#f6b880"/>
<circle cx="361.14" cy="551.77" r="2.1" fill="#b8d0b8"/>
<circle cx="358.21" cy="523.63" r="2.1" fill="#f6b880"/>
<circle cx="365.39" cy="481.56" r="2.1" fill="#f6b880"/>
<circle cx="365.87" cy="504.18" r="2.1" fill="#b8d0b8"/>
<circle cx="368.34" cy="565.27" r="2.1" fill="#d8a0ea"/>
<circle cx="362.22" cy="528.96" r="2.1" fill="#c8a8a8"/>
<circle cx="346.7" cy="503.93" r="2.1" fill="#f2a0a0"/>
<circle cx="380.08" cy="555.59" r="2.1" fill="#d8a0ea"/>
<circle cx="356.35" cy="527.77" r="2.1" fill="#c8a8a8"/>
<circle cx="356.04" cy="549.88" r="2.1" fill="#a8a8f2"/>
<circle cx="359.92" cy="531.29" r="2.1" fill="#b8d0b8"/>
<circle cx="348.16" cy="525.21" r="2.1" fill="#f6b880"/>
<circle cx="380.11" cy="496.05" r="2.1" fill="#f6b880"/>
<circle cx="347.04" cy="500.62" r="2.1" fill="#f2a0a0"/>
<circle cx="346.64" cy="534.62" r="2.1" fill="#f2a0a0"/>
<circle cx="351.46" cy="501.72" r="2.1" fill="#a8a8f2"/>
<circle cx="356.72" cy="535.96" r="2.1" fill="#f0a8d8"/>
<circle cx="370.98" cy="492.66" r="2.1" fill="#f6b880"/>
<circle cx="368.85" cy="551.45" r="2.1" fill="#c8a8a8"/>
<circle cx="357.06" cy="555.73" r="2.1" fill="#c8a8a8"/>
<circle cx="351.19" cy="549.25" r="2.1" fill="#f2a0a0"/>
<circle cx="347.78" cy="513.55" r="2.1" fill="#c8a8a8"/>
<circle cx="342.85" cy="535.82" r="2.1" fill="#f2a0a0"/>
<circle cx="382.43" cy="482.2" r="2.1" fill="#d8a0ea"/>
<circle cx="381.14" cy="558.26" r="2.1" fill="#f2a0a0"/>
<circle cx="351.32" cy="553.36" r="2.1" fill="#a8a8f2"/>
<circle cx="351.61" cy="501.02" r="2.1" fill="#f0a8d8"/>
<circle cx="370.78" cy="496.66" r="2.1" fill="#a8a8f2"/>
<circle cx="378.56" cy="503.88" r="2.1" fill="#c8a8a8"/>
<circle cx="379.39" cy="493.23" r="2.1" fill="#f0a8d8"/>
<circle cx="359.31" cy="528.56" r="2.1" fill="#d8a0ea"/>
<circle cx="359.42" cy="563.6" r="2.1" fill="#d8a0ea"/>
<circle cx="357.41" cy="543.55" r="2.1" fill="#f0a8d8"/>
<circle cx="359.03" cy="481.93" r="2.1" fill="#f2a0a0"/>
<circle cx="374.36" cy="502.76" r="2.1" fill="#c8a8a8"/>
<circle cx="362.42" cy="487.89" r="2.1" fill="#f0a8d8"/>
<circle cx="366.06" cy="479.04" r="2.1" fill="#f6b880"/>
<circle cx="350.87" cy="521.88" r="2.1" fill="#a8a8f2"/>
<circle cx="379.6" cy="547.81" r="2.1" fill="#c8a8a8"/>
<circle cx="371.76" cy="543.73" r="2.1" fill="#d8a0ea"/>
<circle cx="374.07" cy="522.75" r="2.1" fill="#f6b880"/>
<circle cx="350.73" cy="478.24" r="2.1" fill="#f6b880"/>
<circle cx="378.65" cy="563.88" r="2.1" fill="#b8d0b8"/>
<circle cx="380.87" cy="478.42" r="2.1" fill="#c8a8a8"/>
<circle cx="349.01" cy="530.95" r="2.1" fill="#a8a8f2"/>
<circle cx="359.64" cy="523.42" r="2.1" fill="#d8a0ea"/>
<circle cx="374.54" cy="495.24" r="2.1" fill="#f2a0a0"/>
<circle cx="380.56" cy="506.17" r="2.1" fill="#f6b880"/>
<circle cx="370.07" cy="502.61" r="2.1" fill="#b8d0b8"/>
<circle cx="369.19" cy="520.06" r="2.1" fill="#d8a0ea"/>
<circle cx="348.83" cy="531.1" r="2.1" fill="#a8a8f2"/>
<circle cx="356.45" cy="506.74" r="2.1" fill="#f0a8d8"/>
<circle cx="345.08" cy="556.66" r="2.1" fill="#f0a8d8"/>
<circle cx="351.13" cy="521.07" r="2.1" fill="#c8a8a8"/>
<circle cx="365.46" cy="482.82" r="2.1" fill="#f2a0a0"/>
<circle cx="361.47" cy="515.78" r="2.1" fill="#a8a8f2"/>
<circle cx="347.75" cy="520.01" r="2.1" fill="#d8a0ea"/>
<circle cx="360.37" cy="482.12" r="2.1" fill="#f6b880"/>
<circle cx="354.07" cy="550.48" r="2.1" fill="#c8a8a8"/>
<circle cx="379.09" cy="509.14" r="2.1" fill="#f0a8d8"/>
<circle cx="342.17" cy="478.76" r="2.1" fill="#f6b880"/>
<circle cx="365.8" cy="557.14" r="2.1" fill="#a8a8f2"/>
<circle cx="364.48" cy="542.91" r="2.1" fill="#b8d0b8"/>
<circle cx="363.33" cy="502.32" r="2.1" fill="#c8a8a8"/>
<circle cx="373.81" cy="565.13" r="2.1" fill="#a8a8f2"/>
<circle cx="355.65" cy="510.71" r="2.1" fill="#f0a8d8"/>
<circle cx="343.9" cy="537.25" r="2.1" fill="#f0a8d8"/>
<circle cx="345.62" cy="519.6" r="2.1" fill="#f6b880"/>
<circle cx="379.41" cy="513.07" r="2.1" fill="#f6b880"/>
<circle cx="379.59" cy="545.19" r="2.1" fill="#f2a0a0"/>
<circle cx="370.6" cy="527.67" r="2.1" fill="#a8a8f2"/>
<circle cx="375.76" cy="493.93" r="2.1" fill="#f2a0a0"/>
<circle cx="375.41" cy="491.11" r="2.1" fill="#c8a8a8"/>
<circle cx="346.59" cy="494.34" r="2.1" fill="#f6b880"/>
<circle cx="360.91" cy="545.43" r="2.1" fill="#d8a0ea"/>
<circle cx="343.81" cy="551.77" r="2.1" fill="#f0a8d8"/>
<circle cx="355.48" cy="562.57" r="2.1" fill="#b8d0b8"/>
<circle cx="342.87" cy="493.25" r="2.1" fill="#f6b880"/>
<circle cx="364.67" cy="537.9" r="2.1" fill="#f0a8d8"/>
<circle cx="379.7" cy="507.08" r="2.1" fill="#d8a0ea"/>
<circle cx="352.85" cy="481.07" r="2.1" fill="#f6b880"/>
<circle cx="364.75" cy="526.02" r="2.1" fill="#a8a8f2"/>
<circle cx="369.21" cy="504.99" r="2.1" fill="#f6b880"/>
<circle cx="376.82" cy="563.53" r="2.1" fill="#b8d0b8"/>
<circle cx="360.21" cy="502.94" r="2.1" fill="#f0a8d8"/>
<circle cx="356.54" cy="516.99" r="2.1" fill="#d8a0ea"/>
<circle cx="356.5" cy="485.97" r="2.1" fill="#f6b880"/>
<circle cx="365.19" cy="505.59" r="2.1" fill="#f6b880"/>
<circle cx="452.05" cy="521.36" r="2.1" fill="#d8a0ea"/>
<circle cx="394.34" cy="546.01" r="2.1" fill="#a8a8f2"/>
<circle cx="419" cy="515.55" r="2.1" fill="#f2a0a0"/>
<circle cx="410.08" cy="537.27" r="2.1" fill="#f0a8d8"/>
<circle cx="388.09" cy="544.87" r="2.1" fill="#f6b880"/>
<circle cx="421.19" cy="523.46" r="2.1" fill="#f0a8d8"/>
<circle cx="433.75" cy="523.32" r="2.1" fill="#f6b880"/>
<circle cx="453.29" cy="527.2" r="2.1" fill="#f0a8d8"/>
<circle cx="395.48" cy="565.05" r="2.1" fill="#d8a0ea"/>
<circle cx="438.46" cy="545.86" r="2.1" fill="#f0a8d8"/>
<circle cx="384.76" cy="535.13" r="2.1" fill="#f0a8d8"/>
<circle cx="461.5" cy="526.07" r="2.1" fill="#b8d0b8"/>
<circle cx="438.57" cy="526.54" r="2.1" fill="#b8d0b8"/>
<circle cx="416.94" cy="539.79" r="2.1" fill="#f6b880"/>
<circle cx="410.21" cy="531.54" r="2.1" fill="#a8a8f2"/>
<circle cx="440.86" cy="527.63" r="2.1" fill="#b8d0b8"/>
<circle cx="451.41" cy="550.69" r="2.1" fill="#a8a8f2"/>
<circle cx="424.32" cy="531.07" r="2.1" fill="#a8a8f2"/>
<circle cx="398.7" cy="528.02" r="2.1" fill="#f6b880"/>
<circle cx="396.25" cy="513.81" r="2.1" fill="#f2a0a0"/>
<circle cx="418.57" cy="557.28" r="2.1" fill="#c8a8a8"/>
<circle cx="454.79" cy="565.1" r="2.1" fill="#d8a0ea"/>
<circle cx="462.64" cy="550.05" r="2.1" fill="#a8a8f2"/>
<circle cx="439.6" cy="551.59" r="2.1" fill="#f0a8d8"/>
<circle cx="437.54" cy="554.55" r="2.1" fill="#f2a0a0"/>
<circle cx="393.58" cy="563.95" r="2.1" fill="#f2a0a0"/>
<circle cx="405.41" cy="535.64" r="2.1" fill="#d8a0ea"/>
<circle cx="435.13" cy="559.56" r="2.1" fill="#d8a0ea"/>
<circle cx="390.38" cy="554.04" r="2.1" fill="#f2a0a0"/>
<circle cx="399.62" cy="527.62" r="2.1" fill="#a8a8f2"/>
<circle cx="450.03" cy="517.12" r="2.1" fill="#d8a0ea"/>
<circle cx="446.52" cy="540.11" r="2.1" fill="#a8a8f2"/>
<circle cx="457.76" cy="527.79" r="2.1" fill="#d8a0ea"/>
<circle cx="419.54" cy="522.41" r="2.1" fill="#a8a8f2"/>
<circle cx="446.82" cy="532.64" r="2.1" fill="#f6b880"/>
<circle cx="451.29" cy="560.58" r="2.1" fill="#c8a8a8"/>
<circle cx="422.94" cy="524.76" r="2.1" fill="#f6b880"/>
<circle cx="439.7" cy="515.58" r="2.1" fill="#f6b880"/>
<circle cx="448.23" cy="562.26" r="2.1" fill="#d8a0ea"/>
<circle cx="423.88" cy="513.46" r="2.1" fill="#b8d0b8"/>
<circle cx="425.04" cy="521.03" r="2.1" fill="#d8a0ea"/>
<circle cx="421.84" cy="516.7" r="2.1" fill="#f2a0a0"/>
<circle cx="400.76" cy="521.24" r="2.1" fill="#d8a0ea"/>
<circle cx="456.46" cy="537.35" r="2.1" fill="#f6b880"/>
<circle cx="426.61" cy="531.53" r="2.1" fill="#f6b880"/>
<circle cx="410.47" cy="566.01" r="2.1" fill="#f6b880"/>
<circle cx="418.5" cy="544.75" r="2.1" fill="#f6b880"/>
<circle cx="433.45" cy="512.16" r="2.1" fill="#f2a0a0"/>
<circle cx="414.32" cy="535.3" r="2.1" fill="#d8a0ea"/>
<circle cx="455.37" cy="554.97" r="2.1" fill="#f2a0a0"/>
<circle cx="393.25" cy="519.5" r="2.1" fill="#c8a8a8"/>
<circle cx="401.93" cy="527.38" r="2.1" fill="#f6b880"/>
<circle cx="396.15" cy="553.63" r="2.1" fill="#b8d0b8"/>
<circle cx="400.86" cy="517.29" r="2.1" fill="#c8a8a8"/>
<circle cx="411.77" cy="514.91" r="2.1" fill="#a8a8f2"/>
<circle cx="442.1" cy="538.7" r="2.1" fill="#a8a8f2"/>
<circle cx="438.93" cy="519.54" r="2.1" fill="#d8a0ea"/>
<circle cx="385.42" cy="544.82" r="2.1" fill="#f6b880"/>
<circle cx="411.46" cy="540.93" r="2.1" fill="#d8a0ea"/>
<circle cx="439.95" cy="515.05" r="2.1" fill="#c8a8a8"/>
<circle cx="444.33" cy="534.93" r="2.1" fill="#f6b880"/>
<circle cx="426.75" cy="541.08" r="2.1" fill="#c8a8a8"/>
<circle cx="388.3" cy="518.49" r="2.1" fill="#c8a8a8"/>
<circle cx="450.95" cy="526.3" r="2.1" fill="#c8a8a8"/>
<circle cx="455.75" cy="531.57" r="2.1" fill="#c8a8a8"/>
<circle cx="443.58" cy="549.61" r="2.1" fill="#a8a8f2"/>
<circle cx="434.08" cy="527.72" r="2.1" fill="#d8a0ea"/>
<circle cx="406.09" cy="535.38" r="2.1" fill="#d8a0ea"/>
<circle cx="440.42" cy="553.5" r="2.1" fill="#a8a8f2"/>
<circle cx="413.36" cy="523.62" r="2.1" fill="#f6b880"/>
<circle cx="384.95" cy="533.98" r="2.1" fill="#f6b880"/>
<circle cx="435.83" cy="542.6" r="2.1" fill="#f6b880"/>
<circle cx="388.61" cy="519.03" r="2.1" fill="#f6b880"/>
<circle cx="400.08" cy="560.28" r="2.1" fill="#a8a8f2"/>
<circle cx="434.02" cy="558.27" r="2.1" fill="#a8a8f2"/>
<circle cx="418.57" cy="536.48" r="2.1" fill="#f2a0a0"/>
<circle cx="389.98" cy="526.67" r="2.1" fill="#a8a8f2"/>
<circle cx="436.17" cy="520.72" r="2.1" fill="#f2a0a0"/>
<circle cx="460.86" cy="549.77" r="2.1" fill="#d8a0ea"/>
<circle cx="430.89" cy="538.29" r="2.1" fill="#f6b880"/>
<circle cx="397.35" cy="550.79" r="2.1" fill="#f0a8d8"/>
<circle cx="402.35" cy="520.98" r="2.1" fill="#c8a8a8"/>
<circle cx="455.92" cy="557.56" r="2.1" fill="#b8d0b8"/>
<circle cx="440.82" cy="516.58" r="2.1" fill="#a8a8f2"/>
<circle cx="445.5" cy="560.37" r="2.1" fill="#f0a8d8"/>
<circle cx="449.47" cy="518.77" r="2.1" fill="#f0a8d8"/>
<circle cx="450.69" cy="550.74" r="2.1" fill="#c8a8a8"/>
<circle cx="416.01" cy="522.64" r="2.1" fill="#b8d0b8"/>
<circle cx="398.44" cy="514.17" r="2.1" fill="#b8d0b8"/>
<circle cx="435.35" cy="551.18" r="2.1" fill="#a8a8f2"/>
<circle cx="409.57" cy="554.3" r="2.1" fill="#f6b880"/>
<circle cx="427.11" cy="519.36" r="2.1" fill="#f0a8d8"/>
<circle cx="403.01" cy="533.93" r="2.1" fill="#a8a8f2"/>
<circle cx="386.67" cy="534.11" r="2.1" fill="#f2a0a0"/>
<circle cx="396.58" cy="528.72" r="2.1" fill="#a8a8f2"/>
<circle cx="399.33" cy="525.1" r="2.1" fill="#f0a8d8"/>
<circle cx="388.31" cy="523.72" r="2.1" fill="#c8a8a8"/>
<circle cx="433.07" cy="523.85" r="2.1" fill="#d8a0ea"/>
<circle cx="399.59" cy="522.29" r="2.1" fill="#d8a0ea"/>
<circle cx="393.77" cy="529.19" r="2.1" fill="#d8a0ea"/>
<circle cx="462.11" cy="519.76" r="2.1" fill="#c8a8a8"/>
<circle cx="388.94" cy="554.35" r="2.1" fill="#f6b880"/>
<circle cx="398.03" cy="527.9" r="2.1" fill="#b8d0b8"/>
<circle cx="450.85" cy="523.06" r="2.1" fill="#f2a0a0"/>
<circle cx="419.1" cy="532.87" r="2.1" fill="#d8a0ea"/>
<circle cx="446.88" cy="519.11" r="2.1" fill="#a8a8f2"/>
<circle cx="394.65" cy="560.77" r="2.1" fill="#a8a8f2"/>
<circle cx="423.15" cy="535.96" r="2.1" fill="#f2a0a0"/>
<circle cx="415.51" cy="550.02" r="2.1" fill="#b8d0b8"/>
<circle cx="394.96" cy="542.12" r="2.1" fill="#f6b880"/>
<circle cx="407.04" cy="553.27" r="2.1" fill="#c8a8a8"/>
<circle cx="424" cy="535.73" r="2.1" fill="#a8a8f2"/>
<circle cx="450.19" cy="541.67" r="2.1" fill="#f2a0a0"/>
<circle cx="442.06" cy="516.73" r="2.1" fill="#f6b880"/>
<circle cx="462.48" cy="549.82" r="2.1" fill="#b8d0b8"/>
<circle cx="398.28" cy="553.31" r="2.1" fill="#f6b880"/>
<circle cx="416.34" cy="551.56" r="2.1" fill="#f6b880"/>
<circle cx="387.04" cy="521.19" r="2.1" fill="#a8a8f2"/>
<circle cx="457.93" cy="551.58" r="2.1" fill="#c8a8a8"/>
<circle cx="444.8" cy="519.38" r="2.1" fill="#d8a0ea"/>
<circle cx="443.92" cy="535.02" r="2.1" fill="#f2a0a0"/>
<circle cx="444.96" cy="547.88" r="2.1" fill="#f2a0a0"/>
<circle cx="443.48" cy="519.94" r="2.1" fill="#f2a0a0"/>
<circle cx="407.51" cy="517.81" r="2.1" fill="#a8a8f2"/>
<circle cx="414.25" cy="525.02" r="2.1" fill="#f0a8d8"/>
<circle cx="455.89" cy="558.8" r="2.1" fill="#f0a8d8"/>
<circle cx="461.34" cy="535.01" r="2.1" fill="#a8a8f2"/>
<circle cx="405.43" cy="565.47" r="2.1" fill="#f6b880"/>
<circle cx="434" cy="542.66" r="2.1" fill="#a8a8f2"/>
<circle cx="398.4" cy="560.06" r="2.1" fill="#c8a8a8"/>
<circle cx="410.22" cy="544.49" r="2.1" fill="#a8a8f2"/>
<circle cx="413.68" cy="528.13" r="2.1" fill="#f6b880"/>
<circle cx="385.14" cy="527.84" r="2.1" fill="#f6b880"/>
<circle cx="405.52" cy="547.1" r="2.1" fill="#b8d0b8"/>
<circle cx="385.55" cy="563.33" r="2.1" fill="#a8a8f2"/>
<circle cx="456.92" cy="549.24" r="2.1" fill="#f6b880"/>
<circle cx="439.08" cy="557.7" r="2.1" fill="#a8a8f2"/>
<circle cx="424.41" cy="549.51" r="2.1" fill="#a8a8f2"/>
<circle cx="388.86" cy="519.67" r="2.1" fill="#c8a8a8"/>
<circle cx="418.11" cy="517.08" r="2.1" fill="#f6b880"/>
<circle cx="414.72" cy="538.68" r="2.1" fill="#a8a8f2"/>
<circle cx="406.46" cy="528.07" r="2.1" fill="#f2a0a0"/>
<circle cx="444.02" cy="519.96" r="2.1" fill="#d8a0ea"/>
<circle cx="424.11" cy="544.76" r="2.1" fill="#d8a0ea"/>
<circle cx="445.66" cy="538.98" r="2.1" fill="#d8a0ea"/>
<circle cx="390.11" cy="513.21" r="2.1" fill="#f6b880"/>
<circle cx="384.78" cy="536.42" r="2.1" fill="#f2a0a0"/>
<circle cx="439.07" cy="524.46" r="2.1" fill="#f2a0a0"/>
<circle cx="460.32" cy="522.54" r="2.1" fill="#c8a8a8"/>
<circle cx="410.91" cy="553.56" r="2.1" fill="#f6b880"/>
<circle cx="422.14" cy="556.17" r="2.1" fill="#c8a8a8"/>
<circle cx="410.31" cy="547.1" r="2.1" fill="#c8a8a8"/>
<circle cx="446.93" cy="552.8" r="2.1" fill="#a8a8f2"/>
<circle cx="418.17" cy="555.28" r="2.1" fill="#b8d0b8"/>
<circle cx="436.68" cy="520.68" r="2.1" fill="#f0a8d8"/>
<circle cx="420.39" cy="532.36" r="2.1" fill="#f0a8d8"/>
<circle cx="401.13" cy="563.07" r="2.1" fill="#c8a8a8"/>
<circle cx="419.02" cy="516.48" r="2.1" fill="#c8a8a8"/>
<circle cx="453.05" cy="528.49" r="2.1" fill="#a8a8f2"/>
<circle cx="451.58" cy="522.92" r="2.1" fill="#d8a0ea"/>
<circle cx="400.25" cy="544.35" r="2.1" fill="#f6b880"/>
<circle cx="427.71" cy="531.52" r="2.1" fill="#b8d0b8"/>
<circle cx="402.66" cy="519" r="2.1" fill="#d8a0ea"/>
<circle cx="403.79" cy="536.08" r="2.1" fill="#d8a0ea"/>
<circle cx="419.05" cy="563.04" r="2.1" fill="#c8a8a8"/>
</g>
<g opacity="0.62">
<circle cx="31.28" cy="525.16" r="0.75" fill="#5050a8"/>
<circle cx="37.9" cy="531.91" r="0.75" fill="#805090"/>
<circle cx="44.92" cy="556.88" r="0.75" fill="#805090"/>
<circle cx="31.17" cy="506.89" r="0.75" fill="#a06060"/>
<circle cx="39.09" cy="499.85" r="0.75" fill="#a87040"/>
<circle cx="41.04" cy="518.32" r="0.75" fill="#806060"/>
<circle cx="39.85" cy="526.86" r="0.75" fill="#805090"/>
<circle cx="44.35" cy="483.35" r="0.75" fill="#806060"/>
<circle cx="30.91" cy="529.66" r="0.75" fill="#a06088"/>
<circle cx="34.58" cy="539.03" r="0.75" fill="#a87040"/>
<circle cx="37.52" cy="546.37" r="0.75" fill="#a06088"/>
<circle cx="44.84" cy="511.09" r="0.75" fill="#a06060"/>
<circle cx="39.85" cy="502.93" r="0.75" fill="#a87040"/>
<circle cx="29.24" cy="543.44" r="0.75" fill="#a06060"/>
<circle cx="41.41" cy="510.25" r="0.75" fill="#a87040"/>
<circle cx="42.71" cy="493.81" r="0.75" fill="#a06060"/>
<circle cx="36.92" cy="518.98" r="0.75" fill="#5050a8"/>
<circle cx="32.57" cy="493.19" r="0.75" fill="#805090"/>
<circle cx="44.49" cy="479.06" r="0.75" fill="#a06088"/>
<circle cx="32.65" cy="560.97" r="0.75" fill="#806060"/>
<circle cx="42.66" cy="558.94" r="0.75" fill="#5050a8"/>
<circle cx="38.16" cy="534.48" r="0.75" fill="#805090"/>
<circle cx="43.86" cy="517.56" r="0.75" fill="#a06060"/>
<circle cx="27.21" cy="539.44" r="0.75" fill="#805090"/>
<circle cx="28.08" cy="531.71" r="0.75" fill="#a06060"/>
<circle cx="37.96" cy="488.56" r="0.75" fill="#a06060"/>
<circle cx="44.34" cy="487.17" r="0.75" fill="#a06088"/>
<circle cx="30.19" cy="499.84" r="0.75" fill="#a87040"/>
<circle cx="32.41" cy="552.51" r="0.75" fill="#805090"/>
<circle cx="32.58" cy="501.76" r="0.75" fill="#805090"/>
<circle cx="39.21" cy="506.6" r="0.75" fill="#a06088"/>
<circle cx="39.15" cy="502.01" r="0.75" fill="#a06060"/>
<circle cx="33.06" cy="560.17" r="0.75" fill="#805090"/>
<circle cx="41.17" cy="508.22" r="0.75" fill="#805090"/>
<circle cx="42.55" cy="556.3" r="0.75" fill="#a06060"/>
<circle cx="37.61" cy="535.25" r="0.75" fill="#805090"/>
<circle cx="33.23" cy="528.54" r="0.75" fill="#a87040"/>
<circle cx="29.81" cy="507.62" r="0.75" fill="#806060"/>
<circle cx="37.06" cy="548.77" r="0.75" fill="#806060"/>
<circle cx="42.06" cy="535.29" r="0.75" fill="#a06060"/>
<circle cx="43.01" cy="558.34" r="0.75" fill="#5050a8"/>
<circle cx="41.58" cy="505.95" r="0.75" fill="#a87040"/>
<circle cx="43.14" cy="539.23" r="0.75" fill="#5050a8"/>
<circle cx="30.09" cy="495.84" r="0.75" fill="#806060"/>
<circle cx="27.96" cy="507.72" r="0.75" fill="#607860"/>
<circle cx="35.59" cy="523.93" r="0.75" fill="#607860"/>
<circle cx="42.98" cy="478.06" r="0.75" fill="#a87040"/>
<circle cx="41.82" cy="494.4" r="0.75" fill="#a06060"/>
<circle cx="40.62" cy="493.96" r="0.75" fill="#a06060"/>
<circle cx="35.51" cy="500.12" r="0.75" fill="#805090"/>
<circle cx="27.83" cy="488.28" r="0.75" fill="#5050a8"/>
<circle cx="36.28" cy="510.68" r="0.75" fill="#a87040"/>
<circle cx="38.64" cy="524.54" r="0.75" fill="#a06060"/>
<circle cx="34.72" cy="468.15" r="0.75" fill="#a06060"/>
<circle cx="37.2" cy="487.35" r="0.75" fill="#806060"/>
<circle cx="38.46" cy="505.23" r="0.75" fill="#806060"/>
<circle cx="40.68" cy="564.62" r="0.75" fill="#5050a8"/>
<circle cx="31.41" cy="547.27" r="0.75" fill="#a87040"/>
<circle cx="31.04" cy="469.18" r="0.75" fill="#a87040"/>
<circle cx="29.19" cy="563.86" r="0.75" fill="#607860"/>
<circle cx="41.26" cy="549.89" r="0.75" fill="#5050a8"/>
<circle cx="41.61" cy="532.2" r="0.75" fill="#a87040"/>
<circle cx="27.8" cy="472.17" r="0.75" fill="#a87040"/>
<circle cx="41.75" cy="557.96" r="0.75" fill="#5050a8"/>
<circle cx="39.12" cy="564.76" r="0.75" fill="#5050a8"/>
<circle cx="27.65" cy="534.77" r="0.75" fill="#5050a8"/>
<circle cx="36.98" cy="491.24" r="0.75" fill="#a87040"/>
<circle cx="41.91" cy="475.55" r="0.75" fill="#806060"/>
<circle cx="31.55" cy="563.84" r="0.75" fill="#5050a8"/>
<circle cx="33.76" cy="507.04" r="0.75" fill="#a87040"/>
<circle cx="34.47" cy="539.43" r="0.75" fill="#805090"/>
<circle cx="29.81" cy="560.35" r="0.75" fill="#806060"/>
<circle cx="40.47" cy="535.17" r="0.75" fill="#805090"/>
<circle cx="29.45" cy="509.97" r="0.75" fill="#a87040"/>
<circle cx="42.33" cy="553.01" r="0.75" fill="#a87040"/>
<circle cx="59.5" cy="566.98" r="0.75" fill="#a06088"/>
<circle cx="47.49" cy="529.11" r="0.75" fill="#a06060"/>
<circle cx="52.02" cy="559.42" r="0.75" fill="#806060"/>
<circle cx="61.73" cy="498.64" r="0.75" fill="#a06060"/>
<circle cx="57.11" cy="558.97" r="0.75" fill="#5050a8"/>
<circle cx="56.82" cy="485.16" r="0.75" fill="#a06060"/>
<circle cx="67.13" cy="520.25" r="0.75" fill="#a06088"/>
<circle cx="49.89" cy="547.53" r="0.75" fill="#a06088"/>
<circle cx="50.56" cy="483.15" r="0.75" fill="#a06060"/>
<circle cx="49.48" cy="511.64" r="0.75" fill="#806060"/>
<circle cx="59.19" cy="505.43" r="0.75" fill="#a87040"/>
<circle cx="54.97" cy="501.13" r="0.75" fill="#805090"/>
<circle cx="55.21" cy="512.51" r="0.75" fill="#a87040"/>
<circle cx="49.36" cy="562.25" r="0.75" fill="#a06060"/>
<circle cx="61.25" cy="533.38" r="0.75" fill="#a06088"/>
<circle cx="49.25" cy="526.33" r="0.75" fill="#607860"/>
<circle cx="49.38" cy="527.19" r="0.75" fill="#a87040"/>
<circle cx="60.56" cy="514.42" r="0.75" fill="#806060"/>
<circle cx="49.59" cy="513.91" r="0.75" fill="#a87040"/>
<circle cx="58.65" cy="533.84" r="0.75" fill="#805090"/>
<circle cx="61.81" cy="483.07" r="0.75" fill="#806060"/>
<circle cx="54.54" cy="490.95" r="0.75" fill="#a06060"/>
<circle cx="57.05" cy="503.12" r="0.75" fill="#a06088"/>
<circle cx="66.85" cy="555.98" r="0.75" fill="#806060"/>
<circle cx="64.78" cy="486.55" r="0.75" fill="#a06060"/>
<circle cx="58.85" cy="512.06" r="0.75" fill="#806060"/>
<circle cx="61.07" cy="566.95" r="0.75" fill="#805090"/>
<circle cx="65.05" cy="539.32" r="0.75" fill="#805090"/>
<circle cx="51.24" cy="506.48" r="0.75" fill="#806060"/>
<circle cx="65.72" cy="529.14" r="0.75" fill="#a06088"/>
<circle cx="60.31" cy="548.26" r="0.75" fill="#806060"/>
<circle cx="47.63" cy="500.73" r="0.75" fill="#805090"/>
<circle cx="57.33" cy="534.01" r="0.75" fill="#607860"/>
<circle cx="51.45" cy="563.34" r="0.75" fill="#5050a8"/>
<circle cx="58.89" cy="561.2" r="0.75" fill="#5050a8"/>
<circle cx="60.09" cy="490.04" r="0.75" fill="#a06060"/>
<circle cx="57.47" cy="489.25" r="0.75" fill="#a06088"/>
<circle cx="61.59" cy="509.47" r="0.75" fill="#a06060"/>
<circle cx="62.03" cy="526.65" r="0.75" fill="#a06060"/>
<circle cx="65.09" cy="552.68" r="0.75" fill="#5050a8"/>
<circle cx="63.52" cy="558.25" r="0.75" fill="#a87040"/>
<circle cx="57.44" cy="538.86" r="0.75" fill="#806060"/>
<circle cx="53.4" cy="552.7" r="0.75" fill="#805090"/>
<circle cx="56.56" cy="486.01" r="0.75" fill="#805090"/>
<circle cx="58.12" cy="519.1" r="0.75" fill="#805090"/>
<circle cx="52.43" cy="558.89" r="0.75" fill="#805090"/>
<circle cx="51.4" cy="491.75" r="0.75" fill="#a06060"/>
<circle cx="49.92" cy="532.89" r="0.75" fill="#5050a8"/>
<circle cx="55.47" cy="507.07" r="0.75" fill="#a87040"/>
<circle cx="55.47" cy="506.68" r="0.75" fill="#a87040"/>
<circle cx="52.07" cy="517.01" r="0.75" fill="#5050a8"/>
<circle cx="54.27" cy="478.02" r="0.75" fill="#a87040"/>
<circle cx="67.61" cy="554.72" r="0.75" fill="#806060"/>
<circle cx="52.25" cy="507.77" r="0.75" fill="#a06088"/>
<circle cx="53.66" cy="492.98" r="0.75" fill="#5050a8"/>
<circle cx="49.2" cy="506.2" r="0.75" fill="#805090"/>
<circle cx="48.13" cy="561.72" r="0.75" fill="#806060"/>
<circle cx="54.14" cy="527.15" r="0.75" fill="#a87040"/>
<circle cx="53.4" cy="564.63" r="0.75" fill="#a06088"/>
<circle cx="50.87" cy="536.97" r="0.75" fill="#607860"/>
<circle cx="61.28" cy="516" r="0.75" fill="#806060"/>
<circle cx="64.55" cy="563.18" r="0.75" fill="#a87040"/>
<circle cx="56.21" cy="549.27" r="0.75" fill="#805090"/>
<circle cx="57.65" cy="562.65" r="0.75" fill="#806060"/>
<circle cx="47.9" cy="505.31" r="0.75" fill="#a06060"/>
<circle cx="62.93" cy="511.12" r="0.75" fill="#5050a8"/>
<circle cx="65.45" cy="533.34" r="0.75" fill="#a06088"/>
<circle cx="67.94" cy="483.6" r="0.75" fill="#a06060"/>
<circle cx="54.11" cy="533.37" r="0.75" fill="#a87040"/>
<circle cx="52.05" cy="481.95" r="0.75" fill="#a06060"/>
<circle cx="49.35" cy="484.14" r="0.75" fill="#806060"/>
<circle cx="57.6" cy="525.09" r="0.75" fill="#a87040"/>
<circle cx="56.82" cy="507.6" r="0.75" fill="#a06060"/>
<circle cx="65.04" cy="512.78" r="0.75" fill="#5050a8"/>
<circle cx="56.77" cy="508.35" r="0.75" fill="#805090"/>
<circle cx="62.99" cy="526.8" r="0.75" fill="#806060"/>
<circle cx="63.33" cy="512.86" r="0.75" fill="#a87040"/>
<circle cx="51.33" cy="534.24" r="0.75" fill="#5050a8"/>
<circle cx="54.17" cy="505.39" r="0.75" fill="#a06088"/>
<circle cx="55.88" cy="543.17" r="0.75" fill="#a06060"/>
<circle cx="98.16" cy="485.21" r="0.75" fill="#a87040"/>
<circle cx="77.32" cy="512.31" r="0.75" fill="#805090"/>
<circle cx="101.29" cy="531.38" r="0.75" fill="#806060"/>
<circle cx="86.27" cy="530.64" r="0.75" fill="#a06060"/>
<circle cx="79.81" cy="516.63" r="0.75" fill="#805090"/>
<circle cx="79.89" cy="545.27" r="0.75" fill="#805090"/>
<circle cx="79.27" cy="526.72" r="0.75" fill="#a87040"/>
<circle cx="74.8" cy="562.23" r="0.75" fill="#805090"/>
<circle cx="75.15" cy="549.13" r="0.75" fill="#a06060"/>
<circle cx="101.68" cy="564.22" r="0.75" fill="#607860"/>
<circle cx="77.48" cy="523.17" r="0.75" fill="#a06060"/>
<circle cx="99.8" cy="523.74" r="0.75" fill="#607860"/>
<circle cx="70.34" cy="496.7" r="0.75" fill="#a87040"/>
<circle cx="101.92" cy="514.36" r="0.75" fill="#a06088"/>
<circle cx="102.9" cy="566.69" r="0.75" fill="#805090"/>
<circle cx="78.02" cy="511.27" r="0.75" fill="#a06060"/>
<circle cx="85.12" cy="502.21" r="0.75" fill="#a87040"/>
<circle cx="81.41" cy="477.46" r="0.75" fill="#a87040"/>
<circle cx="100.66" cy="520.58" r="0.75" fill="#a87040"/>
<circle cx="87.1" cy="539.77" r="0.75" fill="#805090"/>
<circle cx="71.52" cy="508.81" r="0.75" fill="#805090"/>
<circle cx="85.71" cy="563.5" r="0.75" fill="#607860"/>
<circle cx="83.92" cy="515.76" r="0.75" fill="#805090"/>
<circle cx="103.34" cy="530.71" r="0.75" fill="#806060"/>
<circle cx="79.36" cy="487.04" r="0.75" fill="#a06088"/>
<circle cx="74.69" cy="494.94" r="0.75" fill="#805090"/>
<circle cx="101.29" cy="506.93" r="0.75" fill="#a06060"/>
<circle cx="86.38" cy="503.67" r="0.75" fill="#a06060"/>
<circle cx="84.62" cy="477.31" r="0.75" fill="#805090"/>
<circle cx="76.55" cy="516.41" r="0.75" fill="#a87040"/>
<circle cx="80.62" cy="513.05" r="0.75" fill="#a06088"/>
<circle cx="90.51" cy="507.24" r="0.75" fill="#806060"/>
<circle cx="102.93" cy="484.96" r="0.75" fill="#a06060"/>
<circle cx="93.46" cy="500.66" r="0.75" fill="#5050a8"/>
<circle cx="101.66" cy="548.6" r="0.75" fill="#806060"/>
<circle cx="85.52" cy="497.82" r="0.75" fill="#806060"/>
<circle cx="102.17" cy="511.31" r="0.75" fill="#806060"/>
<circle cx="92.67" cy="513.96" r="0.75" fill="#805090"/>
<circle cx="80.45" cy="513.24" r="0.75" fill="#607860"/>
<circle cx="102.28" cy="529.09" r="0.75" fill="#a87040"/>
<circle cx="76.11" cy="480.07" r="0.75" fill="#a87040"/>
<circle cx="74.26" cy="562.64" r="0.75" fill="#805090"/>
<circle cx="70.25" cy="513.98" r="0.75" fill="#5050a8"/>
<circle cx="81.91" cy="535.56" r="0.75" fill="#a06060"/>
<circle cx="85.88" cy="538.45" r="0.75" fill="#805090"/>
<circle cx="89.11" cy="538.9" r="0.75" fill="#607860"/>
<circle cx="85.33" cy="552.67" r="0.75" fill="#805090"/>
<circle cx="80.1" cy="565.42" r="0.75" fill="#805090"/>
<circle cx="74.38" cy="508.59" r="0.75" fill="#a87040"/>
<circle cx="73.85" cy="509.92" r="0.75" fill="#a06088"/>
<circle cx="87.65" cy="510.83" r="0.75" fill="#805090"/>
<circle cx="80.95" cy="518.77" r="0.75" fill="#a06060"/>
<circle cx="91.39" cy="549.26" r="0.75" fill="#a06060"/>
<circle cx="98.97" cy="523.07" r="0.75" fill="#a87040"/>
<circle cx="76.13" cy="518.94" r="0.75" fill="#a87040"/>
<circle cx="79.49" cy="533.53" r="0.75" fill="#607860"/>
<circle cx="96.5" cy="500.19" r="0.75" fill="#a06060"/>
<circle cx="72.33" cy="558.39" r="0.75" fill="#5050a8"/>
<circle cx="77.94" cy="518.31" r="0.75" fill="#607860"/>
<circle cx="77.21" cy="560.68" r="0.75" fill="#a87040"/>
<circle cx="93.9" cy="523.94" r="0.75" fill="#a87040"/>
<circle cx="84.76" cy="548.18" r="0.75" fill="#806060"/>
<circle cx="74.91" cy="490.47" r="0.75" fill="#a87040"/>
<circle cx="99.74" cy="492.97" r="0.75" fill="#a06060"/>
<circle cx="88.1" cy="538.66" r="0.75" fill="#805090"/>
<circle cx="84.83" cy="512.61" r="0.75" fill="#806060"/>
<circle cx="77.56" cy="487.96" r="0.75" fill="#a06060"/>
<circle cx="97.67" cy="510.34" r="0.75" fill="#a06060"/>
<circle cx="82.86" cy="567.1" r="0.75" fill="#805090"/>
<circle cx="83.06" cy="532.24" r="0.75" fill="#a06088"/>
<circle cx="84.66" cy="514.19" r="0.75" fill="#a06060"/>
<circle cx="72.16" cy="552" r="0.75" fill="#5050a8"/>
<circle cx="80.9" cy="544.78" r="0.75" fill="#a06060"/>
<circle cx="91.64" cy="519.24" r="0.75" fill="#a87040"/>
<circle cx="102.19" cy="496.2" r="0.75" fill="#a87040"/>
<circle cx="89.28" cy="485.06" r="0.75" fill="#806060"/>
<circle cx="79.56" cy="546.67" r="0.75" fill="#805090"/>
<circle cx="89.26" cy="542.05" r="0.75" fill="#a06060"/>
<circle cx="90.83" cy="553.43" r="0.75" fill="#607860"/>
<circle cx="76.84" cy="492.88" r="0.75" fill="#a87040"/>
<circle cx="86.58" cy="516.57" r="0.75" fill="#806060"/>
<circle cx="74.02" cy="530.02" r="0.75" fill="#805090"/>
<circle cx="95.36" cy="520.55" r="0.75" fill="#a06060"/>
<circle cx="77.96" cy="519.08" r="0.75" fill="#a06060"/>
<circle cx="78.85" cy="526.43" r="0.75" fill="#805090"/>
<circle cx="80.21" cy="482.56" r="0.75" fill="#a87040"/>
<circle cx="77.24" cy="543.39" r="0.75" fill="#607860"/>
<circle cx="83.25" cy="542.66" r="0.75" fill="#806060"/>
<circle cx="82.58" cy="496.92" r="0.75" fill="#a06060"/>
<circle cx="89.45" cy="511.05" r="0.75" fill="#a87040"/>
<circle cx="83.08" cy="535.57" r="0.75" fill="#806060"/>
<circle cx="95.47" cy="492.35" r="0.75" fill="#a87040"/>
<circle cx="89.6" cy="496.59" r="0.75" fill="#805090"/>
<circle cx="91.14" cy="511.95" r="0.75" fill="#5050a8"/>
<circle cx="89.58" cy="517.8" r="0.75" fill="#607860"/>
<circle cx="132.69" cy="547.32" r="0.75" fill="#a06060"/>
<circle cx="150.77" cy="551.39" r="0.75" fill="#5050a8"/>
<circle cx="124.93" cy="552.31" r="0.75" fill="#a06060"/>
<circle cx="131.52" cy="507.11" r="0.75" fill="#806060"/>
<circle cx="138.19" cy="517.4" r="0.75" fill="#805090"/>
<circle cx="113.48" cy="519.38" r="0.75" fill="#a06060"/>
<circle cx="110.49" cy="499.36" r="0.75" fill="#607860"/>
<circle cx="136.01" cy="501.87" r="0.75" fill="#a87040"/>
<circle cx="145.29" cy="531.04" r="0.75" fill="#a06088"/>
<circle cx="136.87" cy="491.39" r="0.75" fill="#a06060"/>
<circle cx="127.39" cy="523.21" r="0.75" fill="#a87040"/>
<circle cx="117.7" cy="562.94" r="0.75" fill="#805090"/>
<circle cx="150.63" cy="550.54" r="0.75" fill="#5050a8"/>
<circle cx="145.29" cy="485" r="0.75" fill="#a06088"/>
<circle cx="150.13" cy="552.22" r="0.75" fill="#806060"/>
<circle cx="117.91" cy="529.6" r="0.75" fill="#806060"/>
<circle cx="128.64" cy="532.8" r="0.75" fill="#a87040"/>
<circle cx="119.1" cy="514.44" r="0.75" fill="#5050a8"/>
<circle cx="113.37" cy="520.26" r="0.75" fill="#a87040"/>
<circle cx="144.35" cy="529.61" r="0.75" fill="#607860"/>
<circle cx="131.36" cy="528.77" r="0.75" fill="#805090"/>
<circle cx="150.41" cy="536.11" r="0.75" fill="#805090"/>
<circle cx="110.93" cy="555.27" r="0.75" fill="#a06088"/>
<circle cx="111.85" cy="559.29" r="0.75" fill="#5050a8"/>
<circle cx="137.49" cy="538.08" r="0.75" fill="#607860"/>
<circle cx="151.03" cy="523.27" r="0.75" fill="#a06060"/>
<circle cx="108.8" cy="532.09" r="0.75" fill="#a06060"/>
<circle cx="129.28" cy="564.33" r="0.75" fill="#805090"/>
<circle cx="123.35" cy="533.82" r="0.75" fill="#a06060"/>
<circle cx="134.27" cy="521.72" r="0.75" fill="#805090"/>
<circle cx="116.11" cy="513.56" r="0.75" fill="#5050a8"/>
<circle cx="130.53" cy="524.82" r="0.75" fill="#5050a8"/>
<circle cx="132.49" cy="498.35" r="0.75" fill="#806060"/>
<circle cx="135.87" cy="538.25" r="0.75" fill="#a06088"/>
<circle cx="142.16" cy="498.27" r="0.75" fill="#a87040"/>
<circle cx="147.95" cy="544.17" r="0.75" fill="#805090"/>
<circle cx="119.7" cy="521.1" r="0.75" fill="#a06088"/>
<circle cx="111.18" cy="535.82" r="0.75" fill="#a87040"/>
<circle cx="106.53" cy="504.37" r="0.75" fill="#607860"/>
<circle cx="145.31" cy="510.78" r="0.75" fill="#a87040"/>
<circle cx="142.92" cy="553.17" r="0.75" fill="#a06088"/>
<circle cx="134.2" cy="516.71" r="0.75" fill="#805090"/>
<circle cx="116.45" cy="496.09" r="0.75" fill="#a87040"/>
<circle cx="134.42" cy="506.26" r="0.75" fill="#a06060"/>
<circle cx="128.26" cy="536.99" r="0.75" fill="#a06060"/>
<circle cx="131.22" cy="534.99" r="0.75" fill="#5050a8"/>
<circle cx="120.36" cy="544.84" r="0.75" fill="#a06088"/>
<circle cx="115" cy="491.42" r="0.75" fill="#806060"/>
<circle cx="127.39" cy="494.13" r="0.75" fill="#805090"/>
<circle cx="151.21" cy="496.47" r="0.75" fill="#a06088"/>
<circle cx="110.08" cy="500.05" r="0.75" fill="#a87040"/>
<circle cx="131.41" cy="533" r="0.75" fill="#a87040"/>
<circle cx="122.22" cy="523.8" r="0.75" fill="#805090"/>
<circle cx="145.77" cy="509.8" r="0.75" fill="#5050a8"/>
<circle cx="133.22" cy="535.73" r="0.75" fill="#607860"/>
<circle cx="125.38" cy="496.22" r="0.75" fill="#a87040"/>
<circle cx="147.42" cy="514.08" r="0.75" fill="#a06060"/>
<circle cx="150.36" cy="509.96" r="0.75" fill="#a06060"/>
<circle cx="110.36" cy="515.07" r="0.75" fill="#a87040"/>
<circle cx="147.02" cy="516.42" r="0.75" fill="#a87040"/>
<circle cx="128.35" cy="537.81" r="0.75" fill="#607860"/>
<circle cx="106.44" cy="526.38" r="0.75" fill="#5050a8"/>
<circle cx="118.48" cy="513.96" r="0.75" fill="#805090"/>
<circle cx="145.45" cy="550.87" r="0.75" fill="#607860"/>
<circle cx="119.46" cy="501.52" r="0.75" fill="#806060"/>
<circle cx="105.68" cy="555.34" r="0.75" fill="#805090"/>
<circle cx="140.02" cy="512.1" r="0.75" fill="#805090"/>
<circle cx="118.89" cy="520.54" r="0.75" fill="#607860"/>
<circle cx="141.3" cy="522.56" r="0.75" fill="#a87040"/>
<circle cx="117.73" cy="516.05" r="0.75" fill="#805090"/>
<circle cx="119.82" cy="514.19" r="0.75" fill="#806060"/>
<circle cx="138.3" cy="553.16" r="0.75" fill="#5050a8"/>
<circle cx="133.38" cy="488.24" r="0.75" fill="#a87040"/>
<circle cx="115.82" cy="510.05" r="0.75" fill="#a06060"/>
<circle cx="124.2" cy="524.87" r="0.75" fill="#806060"/>
<circle cx="151.22" cy="482.03" r="0.75" fill="#a06088"/>
<circle cx="144.34" cy="530.18" r="0.75" fill="#806060"/>
<circle cx="122.75" cy="529.23" r="0.75" fill="#607860"/>
<circle cx="120.68" cy="539.06" r="0.75" fill="#5050a8"/>
<circle cx="138.3" cy="517.33" r="0.75" fill="#805090"/>
<circle cx="113.6" cy="523.11" r="0.75" fill="#607860"/>
<circle cx="105.8" cy="493.99" r="0.75" fill="#5050a8"/>
<circle cx="150.55" cy="505.07" r="0.75" fill="#a06088"/>
<circle cx="139.6" cy="565.94" r="0.75" fill="#607860"/>
<circle cx="139.47" cy="509.48" r="0.75" fill="#a87040"/>
<circle cx="143.55" cy="505.85" r="0.75" fill="#805090"/>
<circle cx="107.86" cy="515.15" r="0.75" fill="#a87040"/>
<circle cx="120.51" cy="564.8" r="0.75" fill="#a06060"/>
<circle cx="137.51" cy="488.91" r="0.75" fill="#a06060"/>
<circle cx="115.51" cy="515.44" r="0.75" fill="#805090"/>
<circle cx="129.34" cy="535.36" r="0.75" fill="#a06088"/>
<circle cx="144.88" cy="490.44" r="0.75" fill="#a06088"/>
<circle cx="125.62" cy="538.19" r="0.75" fill="#a06060"/>
<circle cx="118.93" cy="551.56" r="0.75" fill="#a06060"/>
<circle cx="108.97" cy="550.32" r="0.75" fill="#a87040"/>
<circle cx="149.73" cy="555.61" r="0.75" fill="#a06060"/>
<circle cx="105.95" cy="533.56" r="0.75" fill="#806060"/>
<circle cx="129.81" cy="522.6" r="0.75" fill="#805090"/>
<circle cx="141.11" cy="557.15" r="0.75" fill="#5050a8"/>
<circle cx="144.39" cy="499.46" r="0.75" fill="#a87040"/>
<circle cx="114.85" cy="486.79" r="0.75" fill="#a87040"/>
<circle cx="105.62" cy="489.19" r="0.75" fill="#805090"/>
<circle cx="136.45" cy="495.24" r="0.75" fill="#607860"/>
<circle cx="136.27" cy="497.82" r="0.75" fill="#a06060"/>
<circle cx="147.3" cy="553.41" r="0.75" fill="#806060"/>
<circle cx="132.33" cy="557.84" r="0.75" fill="#a06060"/>
<circle cx="116.6" cy="483.27" r="0.75" fill="#a06060"/>
<circle cx="121.48" cy="483.36" r="0.75" fill="#a06060"/>
<circle cx="113.41" cy="555.8" r="0.75" fill="#607860"/>
<circle cx="134.6" cy="509.05" r="0.75" fill="#a06060"/>
<circle cx="112.08" cy="490.97" r="0.75" fill="#a06088"/>
<circle cx="132.08" cy="497.43" r="0.75" fill="#a06060"/>
<circle cx="126.78" cy="509.29" r="0.75" fill="#a06060"/>
<circle cx="150.16" cy="493" r="0.75" fill="#805090"/>
<circle cx="149.62" cy="531.62" r="0.75" fill="#a87040"/>
<circle cx="140.32" cy="557.01" r="0.75" fill="#a06088"/>
<circle cx="148.64" cy="514.67" r="0.75" fill="#a87040"/>
<circle cx="139.42" cy="548.37" r="0.75" fill="#607860"/>
<circle cx="116.23" cy="530.23" r="0.75" fill="#a06088"/>
<circle cx="133.68" cy="513.79" r="0.75" fill="#805090"/>
<circle cx="127.79" cy="502.53" r="0.75" fill="#805090"/>
<circle cx="145.98" cy="511.79" r="0.75" fill="#806060"/>
<circle cx="140.32" cy="519.97" r="0.75" fill="#a87040"/>
<circle cx="145.48" cy="529" r="0.75" fill="#a87040"/>
<circle cx="119.45" cy="546.43" r="0.75" fill="#607860"/>
<circle cx="140.95" cy="494.39" r="0.75" fill="#a06060"/>
<circle cx="146.06" cy="524.14" r="0.75" fill="#a87040"/>
<circle cx="135.43" cy="507.93" r="0.75" fill="#a06088"/>
<circle cx="145.39" cy="490.88" r="0.75" fill="#a06060"/>
<circle cx="150.51" cy="502.56" r="0.75" fill="#806060"/>
<circle cx="144.58" cy="510.54" r="0.75" fill="#a87040"/>
<circle cx="119.85" cy="551.11" r="0.75" fill="#805090"/>
<circle cx="142.37" cy="551.79" r="0.75" fill="#607860"/>
<circle cx="116.57" cy="542.04" r="0.75" fill="#806060"/>
<circle cx="109.41" cy="508.7" r="0.75" fill="#805090"/>
<circle cx="193.11" cy="535.37" r="0.75" fill="#a87040"/>
<circle cx="167.67" cy="531.19" r="0.75" fill="#806060"/>
<circle cx="192.4" cy="522.5" r="0.75" fill="#805090"/>
<circle cx="188.54" cy="511.97" r="0.75" fill="#a06088"/>
<circle cx="166" cy="525.38" r="0.75" fill="#a06088"/>
<circle cx="192.82" cy="501.66" r="0.75" fill="#a87040"/>
<circle cx="162.27" cy="517.44" r="0.75" fill="#805090"/>
<circle cx="177.68" cy="508.68" r="0.75" fill="#a06060"/>
<circle cx="194.37" cy="523.19" r="0.75" fill="#806060"/>
<circle cx="188.96" cy="501.94" r="0.75" fill="#a06088"/>
<circle cx="184.07" cy="521.88" r="0.75" fill="#a06060"/>
<circle cx="156.61" cy="547.6" r="0.75" fill="#805090"/>
<circle cx="182.75" cy="519.52" r="0.75" fill="#805090"/>
<circle cx="181.72" cy="531.13" r="0.75" fill="#805090"/>
<circle cx="160.59" cy="536.23" r="0.75" fill="#805090"/>
<circle cx="193.43" cy="557.22" r="0.75" fill="#a06060"/>
<circle cx="185.18" cy="534.99" r="0.75" fill="#5050a8"/>
<circle cx="173.31" cy="524.76" r="0.75" fill="#805090"/>
<circle cx="163.64" cy="563.73" r="0.75" fill="#805090"/>
<circle cx="174.71" cy="560.22" r="0.75" fill="#5050a8"/>
<circle cx="180.82" cy="505.16" r="0.75" fill="#a87040"/>
<circle cx="157.36" cy="513.61" r="0.75" fill="#a87040"/>
<circle cx="168.09" cy="561.02" r="0.75" fill="#806060"/>
<circle cx="166.65" cy="517.88" r="0.75" fill="#a06060"/>
<circle cx="154.24" cy="513.9" r="0.75" fill="#5050a8"/>
<circle cx="154.55" cy="515.62" r="0.75" fill="#a06060"/>
<circle cx="192.33" cy="550.59" r="0.75" fill="#a06088"/>
<circle cx="169" cy="531.01" r="0.75" fill="#5050a8"/>
<circle cx="167.95" cy="541.51" r="0.75" fill="#805090"/>
<circle cx="171.1" cy="512.87" r="0.75" fill="#a06060"/>
<circle cx="171.08" cy="545.17" r="0.75" fill="#a06088"/>
<circle cx="184.49" cy="511.39" r="0.75" fill="#805090"/>
<circle cx="196.9" cy="527.69" r="0.75" fill="#a87040"/>
<circle cx="160.3" cy="547.72" r="0.75" fill="#805090"/>
<circle cx="161.18" cy="532.11" r="0.75" fill="#a87040"/>
<circle cx="187.25" cy="528.29" r="0.75" fill="#a87040"/>
<circle cx="189.41" cy="550.43" r="0.75" fill="#a06060"/>
<circle cx="193.49" cy="521.28" r="0.75" fill="#a87040"/>
<circle cx="185.62" cy="521.97" r="0.75" fill="#806060"/>
<circle cx="160.72" cy="508.35" r="0.75" fill="#805090"/>
<circle cx="166.93" cy="543.55" r="0.75" fill="#a06088"/>
<circle cx="156.67" cy="522.14" r="0.75" fill="#806060"/>
<circle cx="172.09" cy="555.4" r="0.75" fill="#a87040"/>
<circle cx="189.14" cy="500.1" r="0.75" fill="#806060"/>
<circle cx="173.87" cy="518.38" r="0.75" fill="#a06088"/>
<circle cx="158.46" cy="561.05" r="0.75" fill="#a06060"/>
<circle cx="181.89" cy="546.58" r="0.75" fill="#a06088"/>
<circle cx="175.73" cy="523.04" r="0.75" fill="#a06060"/>
<circle cx="193.52" cy="512.42" r="0.75" fill="#a06060"/>
<circle cx="179.85" cy="513.85" r="0.75" fill="#5050a8"/>
<circle cx="167.12" cy="560.47" r="0.75" fill="#a87040"/>
<circle cx="164.61" cy="539" r="0.75" fill="#5050a8"/>
<circle cx="164.6" cy="515.2" r="0.75" fill="#607860"/>
<circle cx="155.42" cy="501.65" r="0.75" fill="#805090"/>
<circle cx="170.74" cy="556.72" r="0.75" fill="#a06060"/>
<circle cx="170.34" cy="517.47" r="0.75" fill="#805090"/>
<circle cx="157.17" cy="530.95" r="0.75" fill="#805090"/>
<circle cx="174.76" cy="537.05" r="0.75" fill="#5050a8"/>
<circle cx="171.47" cy="518.06" r="0.75" fill="#a87040"/>
<circle cx="164.8" cy="522.89" r="0.75" fill="#607860"/>
<circle cx="158.31" cy="520.43" r="0.75" fill="#a06060"/>
<circle cx="189.5" cy="516.09" r="0.75" fill="#806060"/>
<circle cx="186.13" cy="506.18" r="0.75" fill="#a06060"/>
<circle cx="174.06" cy="529.95" r="0.75" fill="#806060"/>
<circle cx="179.24" cy="517.35" r="0.75" fill="#805090"/>
<circle cx="185.2" cy="520.57" r="0.75" fill="#806060"/>
<circle cx="167.25" cy="520.07" r="0.75" fill="#5050a8"/>
<circle cx="175.07" cy="510.95" r="0.75" fill="#805090"/>
<circle cx="155.6" cy="513.43" r="0.75" fill="#805090"/>
<circle cx="167.21" cy="521.67" r="0.75" fill="#805090"/>
<circle cx="198.62" cy="565.25" r="0.75" fill="#607860"/>
<circle cx="163.19" cy="529.38" r="0.75" fill="#a06060"/>
<circle cx="189.43" cy="521.55" r="0.75" fill="#5050a8"/>
<circle cx="191.94" cy="538.35" r="0.75" fill="#a06060"/>
<circle cx="166.2" cy="517.56" r="0.75" fill="#5050a8"/>
<circle cx="158.72" cy="554.58" r="0.75" fill="#805090"/>
<circle cx="192.2" cy="526.76" r="0.75" fill="#5050a8"/>
<circle cx="171.3" cy="518.29" r="0.75" fill="#a87040"/>
<circle cx="183.38" cy="519.91" r="0.75" fill="#805090"/>
<circle cx="187.09" cy="517.34" r="0.75" fill="#a06060"/>
<circle cx="172.34" cy="563.82" r="0.75" fill="#806060"/>
<circle cx="164.28" cy="539.28" r="0.75" fill="#a06060"/>
<circle cx="154.49" cy="542.26" r="0.75" fill="#806060"/>
<circle cx="180.79" cy="546.47" r="0.75" fill="#806060"/>
<circle cx="174.44" cy="563.76" r="0.75" fill="#a06060"/>
<circle cx="190.96" cy="511.71" r="0.75" fill="#5050a8"/>
<circle cx="154.64" cy="519.74" r="0.75" fill="#a06060"/>
<circle cx="166.68" cy="536.17" r="0.75" fill="#a06088"/>
<circle cx="166.84" cy="526.96" r="0.75" fill="#a06060"/>
<circle cx="160.35" cy="504.47" r="0.75" fill="#a06060"/>
<circle cx="154.32" cy="534.98" r="0.75" fill="#a87040"/>
<circle cx="185.22" cy="531.89" r="0.75" fill="#5050a8"/>
<circle cx="191.53" cy="517.37" r="0.75" fill="#a87040"/>
<circle cx="190.96" cy="522.39" r="0.75" fill="#607860"/>
<circle cx="188.28" cy="520.93" r="0.75" fill="#a06060"/>
<circle cx="215.38" cy="487.3" r="0.75" fill="#a87040"/>
<circle cx="224.66" cy="488.97" r="0.75" fill="#a06060"/>
<circle cx="210.84" cy="488.26" r="0.75" fill="#a87040"/>
<circle cx="216.84" cy="533.52" r="0.75" fill="#805090"/>
<circle cx="209.67" cy="483.64" r="0.75" fill="#a06088"/>
<circle cx="219.13" cy="509.02" r="0.75" fill="#a87040"/>
<circle cx="211.67" cy="503.52" r="0.75" fill="#a87040"/>
<circle cx="221.89" cy="509.56" r="0.75" fill="#805090"/>
<circle cx="203.79" cy="515.18" r="0.75" fill="#607860"/>
<circle cx="213.68" cy="482.52" r="0.75" fill="#a06088"/>
<circle cx="205.53" cy="484.09" r="0.75" fill="#a06088"/>
<circle cx="211.65" cy="528.17" r="0.75" fill="#a06088"/>
<circle cx="201.12" cy="550.5" r="0.75" fill="#806060"/>
<circle cx="209.65" cy="510.86" r="0.75" fill="#a06088"/>
<circle cx="212.36" cy="546.29" r="0.75" fill="#806060"/>
<circle cx="227.86" cy="478.67" r="0.75" fill="#a87040"/>
<circle cx="204.7" cy="556.26" r="0.75" fill="#806060"/>
<circle cx="209.47" cy="521.69" r="0.75" fill="#5050a8"/>
<circle cx="212.99" cy="518.34" r="0.75" fill="#806060"/>
<circle cx="203.58" cy="489.95" r="0.75" fill="#a06060"/>
<circle cx="222.37" cy="481.4" r="0.75" fill="#a06060"/>
<circle cx="224.37" cy="542.59" r="0.75" fill="#806060"/>
<circle cx="210.47" cy="489.91" r="0.75" fill="#a06088"/>
<circle cx="208.84" cy="477.33" r="0.75" fill="#a06060"/>
<circle cx="214.55" cy="510.85" r="0.75" fill="#805090"/>
<circle cx="219.71" cy="480.2" r="0.75" fill="#a06088"/>
<circle cx="225.69" cy="529" r="0.75" fill="#a06060"/>
<circle cx="208.91" cy="486.15" r="0.75" fill="#a87040"/>
<circle cx="215.55" cy="500.26" r="0.75" fill="#a06060"/>
<circle cx="225.03" cy="545.71" r="0.75" fill="#805090"/>
<circle cx="216.1" cy="477.2" r="0.75" fill="#806060"/>
<circle cx="216.4" cy="484.38" r="0.75" fill="#a87040"/>
<circle cx="216.84" cy="514.13" r="0.75" fill="#a06088"/>
<circle cx="207.78" cy="556.06" r="0.75" fill="#a87040"/>
<circle cx="203.14" cy="513.43" r="0.75" fill="#805090"/>
<circle cx="212" cy="476.01" r="0.75" fill="#a06060"/>
<circle cx="223.22" cy="488.89" r="0.75" fill="#805090"/>
<circle cx="206.41" cy="525.17" r="0.75" fill="#a87040"/>
<circle cx="219.92" cy="528.93" r="0.75" fill="#806060"/>
<circle cx="228.16" cy="524.73" r="0.75" fill="#a06088"/>
<circle cx="201.55" cy="524.8" r="0.75" fill="#5050a8"/>
<circle cx="228.96" cy="561.87" r="0.75" fill="#a06088"/>
<circle cx="224.11" cy="487.97" r="0.75" fill="#805090"/>
<circle cx="216.49" cy="547.45" r="0.75" fill="#a06088"/>
<circle cx="221.41" cy="551.05" r="0.75" fill="#805090"/>
<circle cx="207.83" cy="509.98" r="0.75" fill="#805090"/>
<circle cx="220.93" cy="483.35" r="0.75" fill="#a87040"/>
<circle cx="226.7" cy="483.02" r="0.75" fill="#a06060"/>
<circle cx="224.79" cy="511.89" r="0.75" fill="#a87040"/>
<circle cx="221.17" cy="546.29" r="0.75" fill="#805090"/>
<circle cx="221.03" cy="547.05" r="0.75" fill="#607860"/>
<circle cx="226.65" cy="484.49" r="0.75" fill="#a87040"/>
<circle cx="214.44" cy="536.2" r="0.75" fill="#806060"/>
<circle cx="208.68" cy="549.09" r="0.75" fill="#805090"/>
<circle cx="216.31" cy="485.92" r="0.75" fill="#a06060"/>
<circle cx="201.88" cy="502.45" r="0.75" fill="#a06060"/>
<circle cx="219.97" cy="535.19" r="0.75" fill="#a06088"/>
<circle cx="224.12" cy="510.12" r="0.75" fill="#a87040"/>
<circle cx="202.46" cy="558.08" r="0.75" fill="#a06060"/>
<circle cx="228.18" cy="487.4" r="0.75" fill="#a06060"/>
<circle cx="226.42" cy="485.65" r="0.75" fill="#a87040"/>
<circle cx="229.03" cy="530.49" r="0.75" fill="#805090"/>
<circle cx="228.29" cy="478.43" r="0.75" fill="#a87040"/>
<circle cx="214.88" cy="496.54" r="0.75" fill="#805090"/>
<circle cx="222.34" cy="477.09" r="0.75" fill="#a87040"/>
<circle cx="223.04" cy="559.47" r="0.75" fill="#a06060"/>
<circle cx="204.34" cy="486.21" r="0.75" fill="#a87040"/>
<circle cx="228.36" cy="515.51" r="0.75" fill="#805090"/>
<circle cx="229.3" cy="554.8" r="0.75" fill="#a06088"/>
<circle cx="203.12" cy="489.46" r="0.75" fill="#a06060"/>
<circle cx="229.1" cy="486.1" r="0.75" fill="#a06088"/>
<circle cx="217.17" cy="549.86" r="0.75" fill="#a87040"/>
<circle cx="215.6" cy="548.96" r="0.75" fill="#5050a8"/>
<circle cx="212.36" cy="486.73" r="0.75" fill="#a87040"/>
<circle cx="204.77" cy="484.75" r="0.75" fill="#805090"/>
<circle cx="246.79" cy="511.23" r="0.75" fill="#a06060"/>
<circle cx="249.7" cy="551.1" r="0.75" fill="#a06088"/>
<circle cx="268.52" cy="547.14" r="0.75" fill="#806060"/>
<circle cx="261.64" cy="524.18" r="0.75" fill="#805090"/>
<circle cx="270.84" cy="502.72" r="0.75" fill="#607860"/>
<circle cx="265.86" cy="514.69" r="0.75" fill="#a87040"/>
<circle cx="246.47" cy="533.8" r="0.75" fill="#5050a8"/>
<circle cx="269.65" cy="492.96" r="0.75" fill="#a87040"/>
<circle cx="246.76" cy="488.66" r="0.75" fill="#a06088"/>
<circle cx="265.03" cy="559.51" r="0.75" fill="#607860"/>
<circle cx="276.02" cy="549.21" r="0.75" fill="#805090"/>
<circle cx="254.93" cy="514.46" r="0.75" fill="#a06088"/>
<circle cx="235.88" cy="559.8" r="0.75" fill="#5050a8"/>
<circle cx="238.82" cy="518.22" r="0.75" fill="#a06088"/>
<circle cx="243.86" cy="479.04" r="0.75" fill="#a87040"/>
<circle cx="283.47" cy="514.24" r="0.75" fill="#a87040"/>
<circle cx="253.26" cy="494.25" r="0.75" fill="#a87040"/>
<circle cx="276.07" cy="484.93" r="0.75" fill="#805090"/>
<circle cx="254.67" cy="545.45" r="0.75" fill="#a87040"/>
<circle cx="260.33" cy="545.55" r="0.75" fill="#805090"/>
<circle cx="234.04" cy="557.56" r="0.75" fill="#a87040"/>
<circle cx="266.81" cy="500.13" r="0.75" fill="#a06060"/>
<circle cx="296.56" cy="506.27" r="0.75" fill="#a87040"/>
<circle cx="245.97" cy="483.37" r="0.75" fill="#a87040"/>
<circle cx="284.11" cy="552.22" r="0.75" fill="#a06060"/>
<circle cx="242.39" cy="556.98" r="0.75" fill="#a06088"/>
<circle cx="283.3" cy="530.65" r="0.75" fill="#806060"/>
<circle cx="250.81" cy="558.35" r="0.75" fill="#a87040"/>
<circle cx="293.92" cy="496.02" r="0.75" fill="#806060"/>
<circle cx="285.06" cy="486.22" r="0.75" fill="#a87040"/>
<circle cx="294.23" cy="544.32" r="0.75" fill="#a06088"/>
<circle cx="289.07" cy="537.2" r="0.75" fill="#a06088"/>
<circle cx="289.46" cy="534.83" r="0.75" fill="#5050a8"/>
<circle cx="287.3" cy="513.62" r="0.75" fill="#806060"/>
<circle cx="266.51" cy="561.06" r="0.75" fill="#a06088"/>
<circle cx="274.03" cy="489.72" r="0.75" fill="#805090"/>
<circle cx="247.78" cy="508.63" r="0.75" fill="#a87040"/>
<circle cx="254.49" cy="533.1" r="0.75" fill="#5050a8"/>
<circle cx="261.16" cy="519.24" r="0.75" fill="#a87040"/>
<circle cx="267.9" cy="491.17" r="0.75" fill="#806060"/>
<circle cx="237.86" cy="512.47" r="0.75" fill="#806060"/>
<circle cx="249.98" cy="513.19" r="0.75" fill="#a06060"/>
<circle cx="293.71" cy="502.45" r="0.75" fill="#5050a8"/>
<circle cx="263.83" cy="552.34" r="0.75" fill="#5050a8"/>
<circle cx="266.41" cy="523.53" r="0.75" fill="#5050a8"/>
<circle cx="234.55" cy="519.82" r="0.75" fill="#a06088"/>
<circle cx="284.18" cy="505.59" r="0.75" fill="#805090"/>
<circle cx="289.14" cy="542" r="0.75" fill="#805090"/>
<circle cx="274.53" cy="508.02" r="0.75" fill="#a87040"/>
<circle cx="273.42" cy="496.59" r="0.75" fill="#a06088"/>
<circle cx="248.87" cy="565.34" r="0.75" fill="#a06060"/>
<circle cx="283.67" cy="539.52" r="0.75" fill="#607860"/>
<circle cx="285.76" cy="529.08" r="0.75" fill="#806060"/>
<circle cx="251.21" cy="527.5" r="0.75" fill="#805090"/>
<circle cx="242.43" cy="548.23" r="0.75" fill="#a06088"/>
<circle cx="260.09" cy="531.15" r="0.75" fill="#805090"/>
<circle cx="255.9" cy="528.29" r="0.75" fill="#805090"/>
<circle cx="242.03" cy="512.3" r="0.75" fill="#a87040"/>
<circle cx="269.75" cy="557.05" r="0.75" fill="#805090"/>
<circle cx="275.1" cy="508.24" r="0.75" fill="#a87040"/>
<circle cx="270.34" cy="501.81" r="0.75" fill="#a06088"/>
<circle cx="264.72" cy="562.58" r="0.75" fill="#5050a8"/>
<circle cx="239.31" cy="505.81" r="0.75" fill="#a87040"/>
<circle cx="248.34" cy="533.47" r="0.75" fill="#806060"/>
<circle cx="294.52" cy="543.85" r="0.75" fill="#a06060"/>
<circle cx="242.96" cy="485.75" r="0.75" fill="#a06060"/>
<circle cx="266.9" cy="527.5" r="0.75" fill="#a87040"/>
<circle cx="236.17" cy="479.18" r="0.75" fill="#806060"/>
<circle cx="288.1" cy="515.52" r="0.75" fill="#5050a8"/>
<circle cx="254.74" cy="517.89" r="0.75" fill="#a06088"/>
<circle cx="264.09" cy="555.23" r="0.75" fill="#805090"/>
<circle cx="259.19" cy="511.88" r="0.75" fill="#a06060"/>
<circle cx="289.1" cy="553.49" r="0.75" fill="#a06060"/>
<circle cx="291.59" cy="489.1" r="0.75" fill="#a87040"/>
<circle cx="248.9" cy="532.45" r="0.75" fill="#5050a8"/>
<circle cx="237.68" cy="535.51" r="0.75" fill="#a06088"/>
<circle cx="279.91" cy="506.51" r="0.75" fill="#a87040"/>
<circle cx="284.02" cy="539.63" r="0.75" fill="#607860"/>
<circle cx="250.21" cy="482.43" r="0.75" fill="#a06088"/>
<circle cx="233.3" cy="554.51" r="0.75" fill="#805090"/>
<circle cx="233.38" cy="547.04" r="0.75" fill="#5050a8"/>
<circle cx="253.08" cy="511.69" r="0.75" fill="#a06088"/>
<circle cx="249.09" cy="564.6" r="0.75" fill="#805090"/>
<circle cx="277.82" cy="494.5" r="0.75" fill="#805090"/>
<circle cx="276.11" cy="517.47" r="0.75" fill="#607860"/>
<circle cx="237.09" cy="556.6" r="0.75" fill="#806060"/>
<circle cx="261.6" cy="510.48" r="0.75" fill="#806060"/>
<circle cx="261.48" cy="541.39" r="0.75" fill="#805090"/>
<circle cx="255.38" cy="502.38" r="0.75" fill="#a06060"/>
<circle cx="294.67" cy="516.25" r="0.75" fill="#a87040"/>
<circle cx="294.59" cy="493.48" r="0.75" fill="#a06088"/>
<circle cx="270.61" cy="494.07" r="0.75" fill="#a87040"/>
<circle cx="264.97" cy="521.87" r="0.75" fill="#a87040"/>
<circle cx="259.58" cy="506.83" r="0.75" fill="#805090"/>
<circle cx="261.74" cy="529.12" r="0.75" fill="#805090"/>
<circle cx="234.97" cy="497.79" r="0.75" fill="#a06060"/>
<circle cx="243.9" cy="512.28" r="0.75" fill="#a87040"/>
<circle cx="280.24" cy="520.25" r="0.75" fill="#a06088"/>
<circle cx="244.37" cy="493.13" r="0.75" fill="#805090"/>
<circle cx="232.7" cy="551.8" r="0.75" fill="#5050a8"/>
<circle cx="264.86" cy="512.83" r="0.75" fill="#805090"/>
<circle cx="259.84" cy="524.4" r="0.75" fill="#5050a8"/>
<circle cx="246.25" cy="519.99" r="0.75" fill="#a87040"/>
<circle cx="235.48" cy="517.05" r="0.75" fill="#5050a8"/>
<circle cx="292.27" cy="557.98" r="0.75" fill="#806060"/>
<circle cx="268.04" cy="514.47" r="0.75" fill="#806060"/>
<circle cx="233.51" cy="495.5" r="0.75" fill="#a06060"/>
<circle cx="252.19" cy="508.72" r="0.75" fill="#a06060"/>
<circle cx="276.49" cy="511.82" r="0.75" fill="#805090"/>
<circle cx="276.66" cy="525.5" r="0.75" fill="#805090"/>
<circle cx="293.57" cy="503.77" r="0.75" fill="#805090"/>
<circle cx="255.6" cy="506.92" r="0.75" fill="#a87040"/>
<circle cx="234.26" cy="548.28" r="0.75" fill="#5050a8"/>
<circle cx="269.33" cy="526.9" r="0.75" fill="#a87040"/>
<circle cx="260.61" cy="544.65" r="0.75" fill="#a87040"/>
<circle cx="295.77" cy="561.35" r="0.75" fill="#5050a8"/>
<circle cx="281.15" cy="506.93" r="0.75" fill="#a06060"/>
<circle cx="286.77" cy="555.24" r="0.75" fill="#a87040"/>
<circle cx="253.18" cy="565.92" r="0.75" fill="#5050a8"/>
<circle cx="234.72" cy="479.13" r="0.75" fill="#a87040"/>
<circle cx="285.44" cy="530.95" r="0.75" fill="#a06088"/>
<circle cx="264.68" cy="539.67" r="0.75" fill="#a06060"/>
<circle cx="267.06" cy="540.83" r="0.75" fill="#607860"/>
<circle cx="233.96" cy="493.47" r="0.75" fill="#a06060"/>
<circle cx="250.64" cy="514.55" r="0.75" fill="#a06088"/>
<circle cx="279.62" cy="543.81" r="0.75" fill="#5050a8"/>
<circle cx="254.41" cy="518.06" r="0.75" fill="#805090"/>
<circle cx="261.05" cy="509.37" r="0.75" fill="#a87040"/>
<circle cx="277.81" cy="512.42" r="0.75" fill="#5050a8"/>
<circle cx="240.83" cy="508.48" r="0.75" fill="#5050a8"/>
<circle cx="252.86" cy="489" r="0.75" fill="#806060"/>
<circle cx="266.76" cy="507.47" r="0.75" fill="#a87040"/>
<circle cx="278.53" cy="502.88" r="0.75" fill="#805090"/>
<circle cx="235.73" cy="508.71" r="0.75" fill="#a06060"/>
<circle cx="286.67" cy="492.58" r="0.75" fill="#a06088"/>
<circle cx="285.83" cy="512.44" r="0.75" fill="#5050a8"/>
<circle cx="262.86" cy="548.67" r="0.75" fill="#607860"/>
<circle cx="235.61" cy="524.66" r="0.75" fill="#805090"/>
<circle cx="262.39" cy="552.03" r="0.75" fill="#a87040"/>
<circle cx="291.25" cy="538.85" r="0.75" fill="#a87040"/>
<circle cx="236.47" cy="514.51" r="0.75" fill="#5050a8"/>
<circle cx="280.96" cy="539.5" r="0.75" fill="#607860"/>
<circle cx="293.96" cy="483.08" r="0.75" fill="#a06060"/>
<circle cx="248.22" cy="549.35" r="0.75" fill="#a06060"/>
<circle cx="255.99" cy="529.78" r="0.75" fill="#a87040"/>
<circle cx="260.93" cy="511.14" r="0.75" fill="#806060"/>
<circle cx="243.5" cy="544.42" r="0.75" fill="#805090"/>
<circle cx="266.21" cy="496.31" r="0.75" fill="#805090"/>
<circle cx="284.6" cy="505.07" r="0.75" fill="#607860"/>
<circle cx="246.37" cy="564.78" r="0.75" fill="#a87040"/>
<circle cx="309.73" cy="524.27" r="0.75" fill="#a06088"/>
<circle cx="309.27" cy="495.38" r="0.75" fill="#a06088"/>
<circle cx="330.1" cy="494.02" r="0.75" fill="#a06060"/>
<circle cx="304.31" cy="536.81" r="0.75" fill="#806060"/>
<circle cx="314.44" cy="544.82" r="0.75" fill="#805090"/>
<circle cx="322.54" cy="554.54" r="0.75" fill="#805090"/>
<circle cx="325.51" cy="551.95" r="0.75" fill="#5050a8"/>
<circle cx="299.04" cy="558.28" r="0.75" fill="#a06060"/>
<circle cx="331.67" cy="518.18" r="0.75" fill="#a06088"/>
<circle cx="311.51" cy="558.66" r="0.75" fill="#a06060"/>
<circle cx="300.23" cy="527.19" r="0.75" fill="#a06060"/>
<circle cx="316.45" cy="499.72" r="0.75" fill="#a87040"/>
<circle cx="324.89" cy="564.2" r="0.75" fill="#a87040"/>
<circle cx="308.02" cy="542.05" r="0.75" fill="#806060"/>
<circle cx="311.08" cy="522.11" r="0.75" fill="#5050a8"/>
<circle cx="318.04" cy="541.11" r="0.75" fill="#805090"/>
<circle cx="323.01" cy="530.53" r="0.75" fill="#a06060"/>
<circle cx="306.75" cy="515.58" r="0.75" fill="#805090"/>
<circle cx="308.31" cy="499.79" r="0.75" fill="#805090"/>
<circle cx="326.1" cy="511.27" r="0.75" fill="#a06060"/>
<circle cx="307.89" cy="517.74" r="0.75" fill="#806060"/>
<circle cx="306.78" cy="555.11" r="0.75" fill="#a06088"/>
<circle cx="336.79" cy="502.56" r="0.75" fill="#a06060"/>
<circle cx="303.76" cy="527.45" r="0.75" fill="#a87040"/>
<circle cx="330.17" cy="509.03" r="0.75" fill="#a87040"/>
<circle cx="306.99" cy="505.62" r="0.75" fill="#806060"/>
<circle cx="307.99" cy="518.13" r="0.75" fill="#805090"/>
<circle cx="299.88" cy="499.37" r="0.75" fill="#a87040"/>
<circle cx="303.56" cy="512.55" r="0.75" fill="#a06088"/>
<circle cx="326.71" cy="488.33" r="0.75" fill="#806060"/>
<circle cx="331.73" cy="559.27" r="0.75" fill="#806060"/>
<circle cx="332.83" cy="537.06" r="0.75" fill="#805090"/>
<circle cx="306.28" cy="515.34" r="0.75" fill="#805090"/>
<circle cx="317.41" cy="533.34" r="0.75" fill="#a06088"/>
<circle cx="302.97" cy="519.48" r="0.75" fill="#5050a8"/>
<circle cx="320.66" cy="518.59" r="0.75" fill="#805090"/>
<circle cx="301.14" cy="504.48" r="0.75" fill="#607860"/>
<circle cx="338.88" cy="515.68" r="0.75" fill="#607860"/>
<circle cx="326.66" cy="513.1" r="0.75" fill="#a06060"/>
<circle cx="326.8" cy="533" r="0.75" fill="#a87040"/>
<circle cx="301.77" cy="495.12" r="0.75" fill="#a06088"/>
<circle cx="323.3" cy="528.83" r="0.75" fill="#5050a8"/>
<circle cx="312.73" cy="557.07" r="0.75" fill="#a06060"/>
<circle cx="337.63" cy="492.33" r="0.75" fill="#a06060"/>
<circle cx="303.42" cy="558.43" r="0.75" fill="#a87040"/>
<circle cx="324.83" cy="555.01" r="0.75" fill="#a06060"/>
<circle cx="317.75" cy="518.52" r="0.75" fill="#806060"/>
<circle cx="304.8" cy="502.17" r="0.75" fill="#a06060"/>
<circle cx="336.62" cy="541.11" r="0.75" fill="#805090"/>
<circle cx="328.37" cy="523.61" r="0.75" fill="#a06060"/>
<circle cx="333.69" cy="519.22" r="0.75" fill="#a06088"/>
<circle cx="324.71" cy="563.17" r="0.75" fill="#a87040"/>
<circle cx="333.06" cy="549.58" r="0.75" fill="#805090"/>
<circle cx="327.95" cy="514.07" r="0.75" fill="#a87040"/>
<circle cx="338.24" cy="522.33" r="0.75" fill="#5050a8"/>
<circle cx="300.93" cy="551.35" r="0.75" fill="#805090"/>
<circle cx="320.76" cy="518.43" r="0.75" fill="#a87040"/>
<circle cx="308.89" cy="550.8" r="0.75" fill="#805090"/>
<circle cx="309.6" cy="526.39" r="0.75" fill="#805090"/>
<circle cx="330.57" cy="510.52" r="0.75" fill="#607860"/>
<circle cx="338.45" cy="488.67" r="0.75" fill="#a87040"/>
<circle cx="315.13" cy="553.15" r="0.75" fill="#607860"/>
<circle cx="308.95" cy="539.1" r="0.75" fill="#806060"/>
<circle cx="333.31" cy="513.73" r="0.75" fill="#a06088"/>
<circle cx="331.01" cy="553.2" r="0.75" fill="#5050a8"/>
<circle cx="315.11" cy="491.05" r="0.75" fill="#a06088"/>
<circle cx="310.51" cy="514.46" r="0.75" fill="#5050a8"/>
<circle cx="321.41" cy="507.68" r="0.75" fill="#806060"/>
<circle cx="330.19" cy="556.2" r="0.75" fill="#607860"/>
<circle cx="301.08" cy="510.97" r="0.75" fill="#a87040"/>
<circle cx="336.34" cy="548.51" r="0.75" fill="#a06060"/>
<circle cx="323.64" cy="488.33" r="0.75" fill="#a06060"/>
<circle cx="315.01" cy="503.48" r="0.75" fill="#805090"/>
<circle cx="300.48" cy="490.71" r="0.75" fill="#a87040"/>
<circle cx="336.01" cy="527.7" r="0.75" fill="#a06088"/>
<circle cx="335.38" cy="489.04" r="0.75" fill="#805090"/>
<circle cx="333.3" cy="555.77" r="0.75" fill="#a06088"/>
<circle cx="311.17" cy="559.29" r="0.75" fill="#a87040"/>
<circle cx="317.69" cy="553.23" r="0.75" fill="#a06060"/>
<circle cx="314.12" cy="555.63" r="0.75" fill="#a87040"/>
<circle cx="314.24" cy="490.2" r="0.75" fill="#a06060"/>
<circle cx="317.43" cy="528.07" r="0.75" fill="#5050a8"/>
<circle cx="322.26" cy="553.52" r="0.75" fill="#5050a8"/>
<circle cx="305.11" cy="539.62" r="0.75" fill="#805090"/>
<circle cx="334.07" cy="514.64" r="0.75" fill="#805090"/>
<circle cx="310.16" cy="531.24" r="0.75" fill="#5050a8"/>
<circle cx="311.74" cy="549.9" r="0.75" fill="#806060"/>
<circle cx="315.91" cy="516.24" r="0.75" fill="#a87040"/>
<circle cx="334.81" cy="515.6" r="0.75" fill="#a06088"/>
<circle cx="334.39" cy="532.46" r="0.75" fill="#a87040"/>
<circle cx="304.84" cy="513.41" r="0.75" fill="#5050a8"/>
<circle cx="312.12" cy="564.87" r="0.75" fill="#805090"/>
<circle cx="309" cy="510.94" r="0.75" fill="#805090"/>
<circle cx="320.06" cy="510.43" r="0.75" fill="#a87040"/>
<circle cx="327.18" cy="493.29" r="0.75" fill="#a06088"/>
<circle cx="301.17" cy="555.22" r="0.75" fill="#607860"/>
<circle cx="333.71" cy="519.01" r="0.75" fill="#805090"/>
<circle cx="314.66" cy="541.28" r="0.75" fill="#5050a8"/>
<circle cx="319.02" cy="504.76" r="0.75" fill="#607860"/>
<circle cx="317.97" cy="557.92" r="0.75" fill="#805090"/>
<circle cx="320.52" cy="548.81" r="0.75" fill="#5050a8"/>
<circle cx="336.23" cy="535.59" r="0.75" fill="#a87040"/>
<circle cx="329.01" cy="512.64" r="0.75" fill="#a87040"/>
<circle cx="332.99" cy="550.23" r="0.75" fill="#a87040"/>
<circle cx="317.95" cy="563.34" r="0.75" fill="#806060"/>
<circle cx="336.07" cy="529.99" r="0.75" fill="#5050a8"/>
<circle cx="330.37" cy="513.1" r="0.75" fill="#805090"/>
<circle cx="320.22" cy="557.13" r="0.75" fill="#a06088"/>
<circle cx="337.57" cy="527.8" r="0.75" fill="#a87040"/>
<circle cx="334.42" cy="522.38" r="0.75" fill="#a87040"/>
<circle cx="319.67" cy="503.52" r="0.75" fill="#a06088"/>
<circle cx="332.88" cy="519.95" r="0.75" fill="#a06060"/>
<circle cx="303.43" cy="506.34" r="0.75" fill="#806060"/>
<circle cx="316.38" cy="517.25" r="0.75" fill="#a87040"/>
<circle cx="300.66" cy="524.81" r="0.75" fill="#a87040"/>
<circle cx="354.89" cy="521.83" r="0.75" fill="#a06060"/>
<circle cx="349.13" cy="530.88" r="0.75" fill="#a87040"/>
<circle cx="381.76" cy="481.04" r="0.75" fill="#805090"/>
<circle cx="373.15" cy="505.62" r="0.75" fill="#a87040"/>
<circle cx="344.83" cy="517.3" r="0.75" fill="#a06088"/>
<circle cx="345.82" cy="496.94" r="0.75" fill="#805090"/>
<circle cx="362.25" cy="516.52" r="0.75" fill="#a06088"/>
<circle cx="367.41" cy="537.41" r="0.75" fill="#a06088"/>
<circle cx="365.59" cy="514.8" r="0.75" fill="#a87040"/>
<circle cx="356.78" cy="557.42" r="0.75" fill="#805090"/>
<circle cx="362.64" cy="514.78" r="0.75" fill="#a87040"/>
<circle cx="370.28" cy="551.06" r="0.75" fill="#805090"/>
<circle cx="366.51" cy="478.29" r="0.75" fill="#a06060"/>
<circle cx="343.86" cy="556.11" r="0.75" fill="#a87040"/>
<circle cx="351.6" cy="563.68" r="0.75" fill="#805090"/>
<circle cx="380.87" cy="548.04" r="0.75" fill="#a87040"/>
<circle cx="378.75" cy="543.82" r="0.75" fill="#a06060"/>
<circle cx="373.19" cy="504.3" r="0.75" fill="#805090"/>
<circle cx="359.47" cy="524.22" r="0.75" fill="#a06088"/>
<circle cx="368.45" cy="496.27" r="0.75" fill="#a06088"/>
<circle cx="342.63" cy="554.19" r="0.75" fill="#a06060"/>
<circle cx="344.14" cy="527.89" r="0.75" fill="#5050a8"/>
<circle cx="380.46" cy="541.18" r="0.75" fill="#607860"/>
<circle cx="376.74" cy="565.1" r="0.75" fill="#5050a8"/>
<circle cx="351.63" cy="494.85" r="0.75" fill="#a06060"/>
<circle cx="351.22" cy="492.11" r="0.75" fill="#a87040"/>
<circle cx="378.18" cy="503.56" r="0.75" fill="#a87040"/>
<circle cx="376.82" cy="501.12" r="0.75" fill="#a06060"/>
<circle cx="380.21" cy="530.94" r="0.75" fill="#806060"/>
<circle cx="342.12" cy="552.31" r="0.75" fill="#5050a8"/>
<circle cx="377.01" cy="499.05" r="0.75" fill="#a06060"/>
<circle cx="347.2" cy="500.77" r="0.75" fill="#a87040"/>
<circle cx="361.14" cy="551.77" r="0.75" fill="#607860"/>
<circle cx="358.21" cy="523.63" r="0.75" fill="#a87040"/>
<circle cx="365.39" cy="481.56" r="0.75" fill="#a87040"/>
<circle cx="365.87" cy="504.18" r="0.75" fill="#607860"/>
<circle cx="368.34" cy="565.27" r="0.75" fill="#805090"/>
<circle cx="362.22" cy="528.96" r="0.75" fill="#806060"/>
<circle cx="346.7" cy="503.93" r="0.75" fill="#a06060"/>
<circle cx="380.08" cy="555.59" r="0.75" fill="#805090"/>
<circle cx="356.35" cy="527.77" r="0.75" fill="#806060"/>
<circle cx="356.04" cy="549.88" r="0.75" fill="#5050a8"/>
<circle cx="359.92" cy="531.29" r="0.75" fill="#607860"/>
<circle cx="348.16" cy="525.21" r="0.75" fill="#a87040"/>
<circle cx="380.11" cy="496.05" r="0.75" fill="#a87040"/>
<circle cx="347.04" cy="500.62" r="0.75" fill="#a06060"/>
<circle cx="346.64" cy="534.62" r="0.75" fill="#a06060"/>
<circle cx="351.46" cy="501.72" r="0.75" fill="#5050a8"/>
<circle cx="356.72" cy="535.96" r="0.75" fill="#a06088"/>
<circle cx="370.98" cy="492.66" r="0.75" fill="#a87040"/>
<circle cx="368.85" cy="551.45" r="0.75" fill="#806060"/>
<circle cx="357.06" cy="555.73" r="0.75" fill="#806060"/>
<circle cx="351.19" cy="549.25" r="0.75" fill="#a06060"/>
<circle cx="347.78" cy="513.55" r="0.75" fill="#806060"/>
<circle cx="342.85" cy="535.82" r="0.75" fill="#a06060"/>
<circle cx="382.43" cy="482.2" r="0.75" fill="#805090"/>
<circle cx="381.14" cy="558.26" r="0.75" fill="#a06060"/>
<circle cx="351.32" cy="553.36" r="0.75" fill="#5050a8"/>
<circle cx="351.61" cy="501.02" r="0.75" fill="#a06088"/>
<circle cx="370.78" cy="496.66" r="0.75" fill="#5050a8"/>
<circle cx="378.56" cy="503.88" r="0.75" fill="#806060"/>
<circle cx="379.39" cy="493.23" r="0.75" fill="#a06088"/>
<circle cx="359.31" cy="528.56" r="0.75" fill="#805090"/>
<circle cx="359.42" cy="563.6" r="0.75" fill="#805090"/>
<circle cx="357.41" cy="543.55" r="0.75" fill="#a06088"/>
<circle cx="359.03" cy="481.93" r="0.75" fill="#a06060"/>
<circle cx="374.36" cy="502.76" r="0.75" fill="#806060"/>
<circle cx="362.42" cy="487.89" r="0.75" fill="#a06088"/>
<circle cx="366.06" cy="479.04" r="0.75" fill="#a87040"/>
<circle cx="350.87" cy="521.88" r="0.75" fill="#5050a8"/>
<circle cx="379.6" cy="547.81" r="0.75" fill="#806060"/>
<circle cx="371.76" cy="543.73" r="0.75" fill="#805090"/>
<circle cx="374.07" cy="522.75" r="0.75" fill="#a87040"/>
<circle cx="350.73" cy="478.24" r="0.75" fill="#a87040"/>
<circle cx="378.65" cy="563.88" r="0.75" fill="#607860"/>
<circle cx="380.87" cy="478.42" r="0.75" fill="#806060"/>
<circle cx="349.01" cy="530.95" r="0.75" fill="#5050a8"/>
<circle cx="359.64" cy="523.42" r="0.75" fill="#805090"/>
<circle cx="374.54" cy="495.24" r="0.75" fill="#a06060"/>
<circle cx="380.56" cy="506.17" r="0.75" fill="#a87040"/>
<circle cx="370.07" cy="502.61" r="0.75" fill="#607860"/>
<circle cx="369.19" cy="520.06" r="0.75" fill="#805090"/>
<circle cx="348.83" cy="531.1" r="0.75" fill="#5050a8"/>
<circle cx="356.45" cy="506.74" r="0.75" fill="#a06088"/>
<circle cx="345.08" cy="556.66" r="0.75" fill="#a06088"/>
<circle cx="351.13" cy="521.07" r="0.75" fill="#806060"/>
<circle cx="365.46" cy="482.82" r="0.75" fill="#a06060"/>
<circle cx="361.47" cy="515.78" r="0.75" fill="#5050a8"/>
<circle cx="347.75" cy="520.01" r="0.75" fill="#805090"/>
<circle cx="360.37" cy="482.12" r="0.75" fill="#a87040"/>
<circle cx="354.07" cy="550.48" r="0.75" fill="#806060"/>
<circle cx="379.09" cy="509.14" r="0.75" fill="#a06088"/>
<circle cx="342.17" cy="478.76" r="0.75" fill="#a87040"/>
<circle cx="365.8" cy="557.14" r="0.75" fill="#5050a8"/>
<circle cx="364.48" cy="542.91" r="0.75" fill="#607860"/>
<circle cx="363.33" cy="502.32" r="0.75" fill="#806060"/>
<circle cx="373.81" cy="565.13" r="0.75" fill="#5050a8"/>
<circle cx="355.65" cy="510.71" r="0.75" fill="#a06088"/>
<circle cx="343.9" cy="537.25" r="0.75" fill="#a06088"/>
<circle cx="345.62" cy="519.6" r="0.75" fill="#a87040"/>
<circle cx="379.41" cy="513.07" r="0.75" fill="#a87040"/>
<circle cx="379.59" cy="545.19" r="0.75" fill="#a06060"/>
<circle cx="370.6" cy="527.67" r="0.75" fill="#5050a8"/>
<circle cx="375.76" cy="493.93" r="0.75" fill="#a06060"/>
<circle cx="375.41" cy="491.11" r="0.75" fill="#806060"/>
<circle cx="346.59" cy="494.34" r="0.75" fill="#a87040"/>
<circle cx="360.91" cy="545.43" r="0.75" fill="#805090"/>
<circle cx="343.81" cy="551.77" r="0.75" fill="#a06088"/>
<circle cx="355.48" cy="562.57" r="0.75" fill="#607860"/>
<circle cx="342.87" cy="493.25" r="0.75" fill="#a87040"/>
<circle cx="364.67" cy="537.9" r="0.75" fill="#a06088"/>
<circle cx="379.7" cy="507.08" r="0.75" fill="#805090"/>
<circle cx="352.85" cy="481.07" r="0.75" fill="#a87040"/>
<circle cx="364.75" cy="526.02" r="0.75" fill="#5050a8"/>
<circle cx="369.21" cy="504.99" r="0.75" fill="#a87040"/>
<circle cx="376.82" cy="563.53" r="0.75" fill="#607860"/>
<circle cx="360.21" cy="502.94" r="0.75" fill="#a06088"/>
<circle cx="356.54" cy="516.99" r="0.75" fill="#805090"/>
<circle cx="356.5" cy="485.97" r="0.75" fill="#a87040"/>
<circle cx="365.19" cy="505.59" r="0.75" fill="#a87040"/>
<circle cx="452.05" cy="521.36" r="0.75" fill="#805090"/>
<circle cx="394.34" cy="546.01" r="0.75" fill="#5050a8"/>
<circle cx="419" cy="515.55" r="0.75" fill="#a06060"/>
<circle cx="410.08" cy="537.27" r="0.75" fill="#a06088"/>
<circle cx="388.09" cy="544.87" r="0.75" fill="#a87040"/>
<circle cx="421.19" cy="523.46" r="0.75" fill="#a06088"/>
<circle cx="433.75" cy="523.32" r="0.75" fill="#a87040"/>
<circle cx="453.29" cy="527.2" r="0.75" fill="#a06088"/>
<circle cx="395.48" cy="565.05" r="0.75" fill="#805090"/>
<circle cx="438.46" cy="545.86" r="0.75" fill="#a06088"/>
<circle cx="384.76" cy="535.13" r="0.75" fill="#a06088"/>
<circle cx="461.5" cy="526.07" r="0.75" fill="#607860"/>
<circle cx="438.57" cy="526.54" r="0.75" fill="#607860"/>
<circle cx="416.94" cy="539.79" r="0.75" fill="#a87040"/>
<circle cx="410.21" cy="531.54" r="0.75" fill="#5050a8"/>
<circle cx="440.86" cy="527.63" r="0.75" fill="#607860"/>
<circle cx="451.41" cy="550.69" r="0.75" fill="#5050a8"/>
<circle cx="424.32" cy="531.07" r="0.75" fill="#5050a8"/>
<circle cx="398.7" cy="528.02" r="0.75" fill="#a87040"/>
<circle cx="396.25" cy="513.81" r="0.75" fill="#a06060"/>
<circle cx="418.57" cy="557.28" r="0.75" fill="#806060"/>
<circle cx="454.79" cy="565.1" r="0.75" fill="#805090"/>
<circle cx="462.64" cy="550.05" r="0.75" fill="#5050a8"/>
<circle cx="439.6" cy="551.59" r="0.75" fill="#a06088"/>
<circle cx="437.54" cy="554.55" r="0.75" fill="#a06060"/>
<circle cx="393.58" cy="563.95" r="0.75" fill="#a06060"/>
<circle cx="405.41" cy="535.64" r="0.75" fill="#805090"/>
<circle cx="435.13" cy="559.56" r="0.75" fill="#805090"/>
<circle cx="390.38" cy="554.04" r="0.75" fill="#a06060"/>
<circle cx="399.62" cy="527.62" r="0.75" fill="#5050a8"/>
<circle cx="450.03" cy="517.12" r="0.75" fill="#805090"/>
<circle cx="446.52" cy="540.11" r="0.75" fill="#5050a8"/>
<circle cx="457.76" cy="527.79" r="0.75" fill="#805090"/>
<circle cx="419.54" cy="522.41" r="0.75" fill="#5050a8"/>
<circle cx="446.82" cy="532.64" r="0.75" fill="#a87040"/>
<circle cx="451.29" cy="560.58" r="0.75" fill="#806060"/>
<circle cx="422.94" cy="524.76" r="0.75" fill="#a87040"/>
<circle cx="439.7" cy="515.58" r="0.75" fill="#a87040"/>
<circle cx="448.23" cy="562.26" r="0.75" fill="#805090"/>
<circle cx="423.88" cy="513.46" r="0.75" fill="#607860"/>
<circle cx="425.04" cy="521.03" r="0.75" fill="#805090"/>
<circle cx="421.84" cy="516.7" r="0.75" fill="#a06060"/>
<circle cx="400.76" cy="521.24" r="0.75" fill="#805090"/>
<circle cx="456.46" cy="537.35" r="0.75" fill="#a87040"/>
<circle cx="426.61" cy="531.53" r="0.75" fill="#a87040"/>
<circle cx="410.47" cy="566.01" r="0.75" fill="#a87040"/>
<circle cx="418.5" cy="544.75" r="0.75" fill="#a87040"/>
<circle cx="433.45" cy="512.16" r="0.75" fill="#a06060"/>
<circle cx="414.32" cy="535.3" r="0.75" fill="#805090"/>
<circle cx="455.37" cy="554.97" r="0.75" fill="#a06060"/>
<circle cx="393.25" cy="519.5" r="0.75" fill="#806060"/>
<circle cx="401.93" cy="527.38" r="0.75" fill="#a87040"/>
<circle cx="396.15" cy="553.63" r="0.75" fill="#607860"/>
<circle cx="400.86" cy="517.29" r="0.75" fill="#806060"/>
<circle cx="411.77" cy="514.91" r="0.75" fill="#5050a8"/>
<circle cx="442.1" cy="538.7" r="0.75" fill="#5050a8"/>
<circle cx="438.93" cy="519.54" r="0.75" fill="#805090"/>
<circle cx="385.42" cy="544.82" r="0.75" fill="#a87040"/>
<circle cx="411.46" cy="540.93" r="0.75" fill="#805090"/>
<circle cx="439.95" cy="515.05" r="0.75" fill="#806060"/>
<circle cx="444.33" cy="534.93" r="0.75" fill="#a87040"/>
<circle cx="426.75" cy="541.08" r="0.75" fill="#806060"/>
<circle cx="388.3" cy="518.49" r="0.75" fill="#806060"/>
<circle cx="450.95" cy="526.3" r="0.75" fill="#806060"/>
<circle cx="455.75" cy="531.57" r="0.75" fill="#806060"/>
<circle cx="443.58" cy="549.61" r="0.75" fill="#5050a8"/>
<circle cx="434.08" cy="527.72" r="0.75" fill="#805090"/>
<circle cx="406.09" cy="535.38" r="0.75" fill="#805090"/>
<circle cx="440.42" cy="553.5" r="0.75" fill="#5050a8"/>
<circle cx="413.36" cy="523.62" r="0.75" fill="#a87040"/>
<circle cx="384.95" cy="533.98" r="0.75" fill="#a87040"/>
<circle cx="435.83" cy="542.6" r="0.75" fill="#a87040"/>
<circle cx="388.61" cy="519.03" r="0.75" fill="#a87040"/>
<circle cx="400.08" cy="560.28" r="0.75" fill="#5050a8"/>
<circle cx="434.02" cy="558.27" r="0.75" fill="#5050a8"/>
<circle cx="418.57" cy="536.48" r="0.75" fill="#a06060"/>
<circle cx="389.98" cy="526.67" r="0.75" fill="#5050a8"/>
<circle cx="436.17" cy="520.72" r="0.75" fill="#a06060"/>
<circle cx="460.86" cy="549.77" r="0.75" fill="#805090"/>
<circle cx="430.89" cy="538.29" r="0.75" fill="#a87040"/>
<circle cx="397.35" cy="550.79" r="0.75" fill="#a06088"/>
<circle cx="402.35" cy="520.98" r="0.75" fill="#806060"/>
<circle cx="455.92" cy="557.56" r="0.75" fill="#607860"/>
<circle cx="440.82" cy="516.58" r="0.75" fill="#5050a8"/>
<circle cx="445.5" cy="560.37" r="0.75" fill="#a06088"/>
<circle cx="449.47" cy="518.77" r="0.75" fill="#a06088"/>
<circle cx="450.69" cy="550.74" r="0.75" fill="#806060"/>
<circle cx="416.01" cy="522.64" r="0.75" fill="#607860"/>
<circle cx="398.44" cy="514.17" r="0.75" fill="#607860"/>
<circle cx="435.35" cy="551.18" r="0.75" fill="#5050a8"/>
<circle cx="409.57" cy="554.3" r="0.75" fill="#a87040"/>
<circle cx="427.11" cy="519.36" r="0.75" fill="#a06088"/>
<circle cx="403.01" cy="533.93" r="0.75" fill="#5050a8"/>
<circle cx="386.67" cy="534.11" r="0.75" fill="#a06060"/>
<circle cx="396.58" cy="528.72" r="0.75" fill="#5050a8"/>
<circle cx="399.33" cy="525.1" r="0.75" fill="#a06088"/>
<circle cx="388.31" cy="523.72" r="0.75" fill="#806060"/>
<circle cx="433.07" cy="523.85" r="0.75" fill="#805090"/>
<circle cx="399.59" cy="522.29" r="0.75" fill="#805090"/>
<circle cx="393.77" cy="529.19" r="0.75" fill="#805090"/>
<circle cx="462.11" cy="519.76" r="0.75" fill="#806060"/>
<circle cx="388.94" cy="554.35" r="0.75" fill="#a87040"/>
<circle cx="398.03" cy="527.9" r="0.75" fill="#607860"/>
<circle cx="450.85" cy="523.06" r="0.75" fill="#a06060"/>
<circle cx="419.1" cy="532.87" r="0.75" fill="#805090"/>
<circle cx="446.88" cy="519.11" r="0.75" fill="#5050a8"/>
<circle cx="394.65" cy="560.77" r="0.75" fill="#5050a8"/>
<circle cx="423.15" cy="535.96" r="0.75" fill="#a06060"/>
<circle cx="415.51" cy="550.02" r="0.75" fill="#607860"/>
<circle cx="394.96" cy="542.12" r="0.75" fill="#a87040"/>
<circle cx="407.04" cy="553.27" r="0.75" fill="#806060"/>
<circle cx="424" cy="535.73" r="0.75" fill="#5050a8"/>
<circle cx="450.19" cy="541.67" r="0.75" fill="#a06060"/>
<circle cx="442.06" cy="516.73" r="0.75" fill="#a87040"/>
<circle cx="462.48" cy="549.82" r="0.75" fill="#607860"/>
<circle cx="398.28" cy="553.31" r="0.75" fill="#a87040"/>
<circle cx="416.34" cy="551.56" r="0.75" fill="#a87040"/>
<circle cx="387.04" cy="521.19" r="0.75" fill="#5050a8"/>
<circle cx="457.93" cy="551.58" r="0.75" fill="#806060"/>
<circle cx="444.8" cy="519.38" r="0.75" fill="#805090"/>
<circle cx="443.92" cy="535.02" r="0.75" fill="#a06060"/>
<circle cx="444.96" cy="547.88" r="0.75" fill="#a06060"/>
<circle cx="443.48" cy="519.94" r="0.75" fill="#a06060"/>
<circle cx="407.51" cy="517.81" r="0.75" fill="#5050a8"/>
<circle cx="414.25" cy="525.02" r="0.75" fill="#a06088"/>
<circle cx="455.89" cy="558.8" r="0.75" fill="#a06088"/>
<circle cx="461.34" cy="535.01" r="0.75" fill="#5050a8"/>
<circle cx="405.43" cy="565.47" r="0.75" fill="#a87040"/>
<circle cx="434" cy="542.66" r="0.75" fill="#5050a8"/>
<circle cx="398.4" cy="560.06" r="0.75" fill="#806060"/>
<circle cx="410.22" cy="544.49" r="0.75" fill="#5050a8"/>
<circle cx="413.68" cy="528.13" r="0.75" fill="#a87040"/>
<circle cx="385.14" cy="527.84" r="0.75" fill="#a87040"/>
<circle cx="405.52" cy="547.1" r="0.75" fill="#607860"/>
<circle cx="385.55" cy="563.33" r="0.75" fill="#5050a8"/>
<circle cx="456.92" cy="549.24" r="0.75" fill="#a87040"/>
<circle cx="439.08" cy="557.7" r="0.75" fill="#5050a8"/>
<circle cx="424.41" cy="549.51" r="0.75" fill="#5050a8"/>
<circle cx="388.86" cy="519.67" r="0.75" fill="#806060"/>
<circle cx="418.11" cy="517.08" r="0.75" fill="#a87040"/>
<circle cx="414.72" cy="538.68" r="0.75" fill="#5050a8"/>
<circle cx="406.46" cy="528.07" r="0.75" fill="#a06060"/>
<circle cx="444.02" cy="519.96" r="0.75" fill="#805090"/>
<circle cx="424.11" cy="544.76" r="0.75" fill="#805090"/>
<circle cx="445.66" cy="538.98" r="0.75" fill="#805090"/>
<circle cx="390.11" cy="513.21" r="0.75" fill="#a87040"/>
<circle cx="384.78" cy="536.42" r="0.75" fill="#a06060"/>
<circle cx="439.07" cy="524.46" r="0.75" fill="#a06060"/>
<circle cx="460.32" cy="522.54" r="0.75" fill="#806060"/>
<circle cx="410.91" cy="553.56" r="0.75" fill="#a87040"/>
<circle cx="422.14" cy="556.17" r="0.75" fill="#806060"/>
<circle cx="410.31" cy="547.1" r="0.75" fill="#806060"/>
<circle cx="446.93" cy="552.8" r="0.75" fill="#5050a8"/>
<circle cx="418.17" cy="555.28" r="0.75" fill="#607860"/>
<circle cx="436.68" cy="520.68" r="0.75" fill="#a06088"/>
<circle cx="420.39" cy="532.36" r="0.75" fill="#a06088"/>
<circle cx="401.13" cy="563.07" r="0.75" fill="#806060"/>
<circle cx="419.02" cy="516.48" r="0.75" fill="#806060"/>
<circle cx="453.05" cy="528.49" r="0.75" fill="#5050a8"/>
<circle cx="451.58" cy="522.92" r="0.75" fill="#805090"/>
<circle cx="400.25" cy="544.35" r="0.75" fill="#a87040"/>
<circle cx="427.71" cy="531.52" r="0.75" fill="#607860"/>
<circle cx="402.66" cy="519" r="0.75" fill="#805090"/>
<circle cx="403.79" cy="536.08" r="0.75" fill="#805090"/>
<circle cx="419.05" cy="563.04" r="0.75" fill="#806060"/>
</g>
<g fill="#8b3030">
<circle cx="43.8" cy="432.3" r="1.8"/>
<circle cx="47.3" cy="423.4" r="1.8"/>
<circle cx="226.9" cy="435.7" r="1.8"/>
<circle cx="297.7" cy="471" r="1.8"/>
<circle cx="340.3" cy="444.6" r="1.8"/>
<circle cx="374.6" cy="457.2" r="1.8"/>
<circle cx="373.8" cy="462.8" r="1.8"/>
<circle cx="375.4" cy="469.5" r="1.8"/>
<circle cx="383.8" cy="439.4" r="1.8"/>
<circle cx="391.2" cy="487" r="1.8"/>
<circle cx="374.8" cy="469.2" r="1.8"/>
</g>
<g fill="#f2ae4a">
<circle cx="40.4" cy="430" r="1.8"/>
<circle cx="93.9" cy="430" r="1.8"/>
<circle cx="149.2" cy="423.4" r="1.8"/>
<circle cx="222.3" cy="423.8" r="1.8"/>
<circle cx="223" cy="436.2" r="1.8"/>
<circle cx="293.5" cy="440.3" r="1.8"/>
<circle cx="362.3" cy="441.5" r="1.8"/>
</g>
<g fill="#ea40ea">
<circle cx="41.9" cy="426.5" r="1.8"/>
<circle cx="43.2" cy="458.5" r="1.8"/>
<circle cx="95" cy="439.7" r="1.8"/>
<circle cx="150.5" cy="441.2" r="1.8"/>
<circle cx="225" cy="443.5" r="1.8"/>
<circle cx="294.2" cy="420.3" r="1.8"/>
<circle cx="296.6" cy="443" r="1.8"/>
<circle cx="295.7" cy="457.7" r="1.8"/>
<circle cx="366.2" cy="444.6" r="1.8"/>
<circle cx="367.7" cy="429.2" r="1.8"/>
<circle cx="363.8" cy="455.7" r="1.8"/>
<circle cx="370" cy="456.2" r="1.8"/>
<circle cx="369.2" cy="460.3" r="1.8"/>
<circle cx="372.3" cy="459.2" r="1.8"/>
<circle cx="368.5" cy="463" r="1.8"/>
<circle cx="371.5" cy="467.7" r="1.8"/>
<circle cx="373.8" cy="456.7" r="1.8"/>
<circle cx="371" cy="459.6" r="1.8"/>
<circle cx="372.9" cy="463.5" r="1.8"/>
</g>
<g fill="#e41414">
<circle cx="26.8" cy="412.3" r="1.8"/>
<circle cx="31.2" cy="414.2" r="1.8"/>
<circle cx="28.4" cy="418.5" r="1.8"/>
<circle cx="33.5" cy="420" r="1.8"/>
<circle cx="29.6" cy="422.3" r="1.8"/>
<circle cx="34.2" cy="423.8" r="1.8"/>
<circle cx="35.8" cy="424.6" r="1.8"/>
<circle cx="27.3" cy="433" r="1.8"/>
<circle cx="69.9" cy="410" r="1.8"/>
<circle cx="78.5" cy="412" r="1.8"/>
<circle cx="82.7" cy="414.6" r="1.8"/>
<circle cx="87.3" cy="416.6" r="1.8"/>
<circle cx="71.2" cy="420" r="1.8"/>
<circle cx="74.5" cy="418.2" r="1.8"/>
<circle cx="79.6" cy="421.8" r="1.8"/>
<circle cx="88.8" cy="420.3" r="1.8"/>
<circle cx="86.5" cy="423.8" r="1.8"/>
<circle cx="76.5" cy="426.5" r="1.8"/>
<circle cx="84.7" cy="429.5" r="1.8"/>
<circle cx="71.9" cy="433" r="1.8"/>
<circle cx="74.5" cy="435" r="1.8"/>
<circle cx="77.3" cy="434.6" r="1.8"/>
<circle cx="80.7" cy="432.6" r="1.8"/>
<circle cx="90.4" cy="433.5" r="1.8"/>
<circle cx="91.9" cy="431.5" r="1.8"/>
<circle cx="103.8" cy="417.2" r="1.8"/>
<circle cx="104.6" cy="417.2" r="1.8"/>
<circle cx="106.9" cy="418.5" r="1.8"/>
<circle cx="111.5" cy="420" r="1.8"/>
<circle cx="108.5" cy="423" r="1.8"/>
<circle cx="109.2" cy="425" r="1.8"/>
<circle cx="114.6" cy="425" r="1.8"/>
<circle cx="106.2" cy="428.5" r="1.8"/>
<circle cx="112.3" cy="430.8" r="1.8"/>
<circle cx="110.5" cy="433" r="1.8"/>
<circle cx="113.8" cy="447.7" r="1.8"/>
<circle cx="115.4" cy="447" r="1.8"/>
<circle cx="154.6" cy="415.7" r="1.8"/>
<circle cx="162.8" cy="415.4" r="1.8"/>
<circle cx="166.9" cy="418.8" r="1.8"/>
<circle cx="164.6" cy="420" r="1.8"/>
<circle cx="159.2" cy="420.8" r="1.8"/>
<circle cx="156.9" cy="422.3" r="1.8"/>
<circle cx="153.8" cy="424.3" r="1.8"/>
<circle cx="161.5" cy="427.4" r="1.8"/>
<circle cx="153.1" cy="431.5" r="1.8"/>
<circle cx="158.5" cy="431.5" r="1.8"/>
<circle cx="160.8" cy="432.3" r="1.8"/>
<circle cx="163.8" cy="433" r="1.8"/>
<circle cx="156.2" cy="438.5" r="1.8"/>
<circle cx="166.2" cy="427" r="1.8"/>
<circle cx="168.5" cy="427.7" r="1.8"/>
<circle cx="170.8" cy="415" r="1.8"/>
<circle cx="176.9" cy="421.5" r="1.8"/>
<circle cx="172.3" cy="424.6" r="1.8"/>
<circle cx="185.4" cy="425.4" r="1.8"/>
<circle cx="200.8" cy="423.8" r="1.8"/>
<circle cx="174.6" cy="430" r="1.8"/>
<circle cx="180" cy="432.3" r="1.8"/>
<circle cx="171.5" cy="435.7" r="1.8"/>
<circle cx="176.9" cy="437.7" r="1.8"/>
<circle cx="178.5" cy="439.2" r="1.8"/>
<circle cx="182.3" cy="436.6" r="1.8"/>
<circle cx="184.6" cy="438.5" r="1.8"/>
<circle cx="186.2" cy="440.3" r="1.8"/>
<circle cx="191.5" cy="439.2" r="1.8"/>
<circle cx="194.6" cy="437.7" r="1.8"/>
<circle cx="193.1" cy="441.5" r="1.8"/>
<circle cx="195.4" cy="440.8" r="1.8"/>
<circle cx="201.5" cy="434.6" r="1.8"/>
<circle cx="187.7" cy="445.4" r="1.8"/>
<circle cx="190" cy="447" r="1.8"/>
<circle cx="190.8" cy="450.8" r="1.8"/>
<circle cx="196.9" cy="447.7" r="1.8"/>
<circle cx="198.5" cy="446.2" r="1.8"/>
<circle cx="173.8" cy="447" r="1.8"/>
<circle cx="182.3" cy="449.2" r="1.8"/>
<circle cx="197.4" cy="463.8" r="1.8"/>
<circle cx="199.2" cy="467.7" r="1.8"/>
<circle cx="170" cy="435" r="1.8"/>
<circle cx="172.3" cy="435.4" r="1.8"/>
<circle cx="176.2" cy="433" r="1.8"/>
<circle cx="178.5" cy="437" r="1.8"/>
<circle cx="173.8" cy="447" r="1.8"/>
<circle cx="231.5" cy="413" r="1.8"/>
<circle cx="236.2" cy="417" r="1.8"/>
<circle cx="233" cy="415.4" r="1.8"/>
<circle cx="240" cy="415" r="1.8"/>
<circle cx="234.6" cy="420" r="1.8"/>
<circle cx="237.7" cy="419.7" r="1.8"/>
<circle cx="233.8" cy="423" r="1.8"/>
<circle cx="238.5" cy="422.8" r="1.8"/>
<circle cx="234.6" cy="424.6" r="1.8"/>
<circle cx="240.8" cy="427" r="1.8"/>
<circle cx="243" cy="427.7" r="1.8"/>
<circle cx="242.3" cy="429.5" r="1.8"/>
<circle cx="246.9" cy="432.3" r="1.8"/>
<circle cx="245.4" cy="441.8" r="1.8"/>
<circle cx="248.5" cy="411.5" r="1.8"/>
<circle cx="247.7" cy="415.4" r="1.8"/>
<circle cx="248.5" cy="408.5" r="1.8"/>
<circle cx="250" cy="417" r="1.8"/>
<circle cx="254.6" cy="421.5" r="1.8"/>
<circle cx="260" cy="422.3" r="1.8"/>
<circle cx="263.1" cy="420.8" r="1.8"/>
<circle cx="268.5" cy="418.5" r="1.8"/>
<circle cx="273.8" cy="418.2" r="1.8"/>
<circle cx="275" cy="422.3" r="1.8"/>
<circle cx="276.9" cy="424.6" r="1.8"/>
<circle cx="242.3" cy="427" r="1.8"/>
<circle cx="244.6" cy="427.7" r="1.8"/>
<circle cx="252.3" cy="428.5" r="1.8"/>
<circle cx="256.9" cy="427.4" r="1.8"/>
<circle cx="260" cy="427.7" r="1.8"/>
<circle cx="256.2" cy="430.8" r="1.8"/>
<circle cx="259.2" cy="433" r="1.8"/>
<circle cx="266.9" cy="428.5" r="1.8"/>
<circle cx="270" cy="430" r="1.8"/>
<circle cx="265.4" cy="431.5" r="1.8"/>
<circle cx="246.9" cy="432.6" r="1.8"/>
<circle cx="253.8" cy="432.3" r="1.8"/>
<circle cx="282.3" cy="428" r="1.8"/>
<circle cx="285.8" cy="428" r="1.8"/>
<circle cx="251.5" cy="437.7" r="1.8"/>
<circle cx="278.5" cy="435.7" r="1.8"/>
<circle cx="284.6" cy="437.2" r="1.8"/>
<circle cx="273.1" cy="438.8" r="1.8"/>
<circle cx="245.4" cy="442.3" r="1.8"/>
<circle cx="255.4" cy="442.8" r="1.8"/>
<circle cx="263.8" cy="445.4" r="1.8"/>
<circle cx="271.5" cy="444.9" r="1.8"/>
<circle cx="281.5" cy="446.9" r="1.8"/>
<circle cx="279.2" cy="450.5" r="1.8"/>
<circle cx="280.3" cy="454.6" r="1.8"/>
<circle cx="283.8" cy="455" r="1.8"/>
<circle cx="286.9" cy="454.6" r="1.8"/>
<circle cx="300.8" cy="406.9" r="1.8"/>
<circle cx="302.3" cy="414.6" r="1.8"/>
<circle cx="304.6" cy="415.4" r="1.8"/>
<circle cx="307.7" cy="413.5" r="1.8"/>
<circle cx="312.3" cy="415.4" r="1.8"/>
<circle cx="316.2" cy="415.4" r="1.8"/>
<circle cx="326.2" cy="412.6" r="1.8"/>
<circle cx="303.1" cy="418.2" r="1.8"/>
<circle cx="306.9" cy="420" r="1.8"/>
<circle cx="310.8" cy="418.5" r="1.8"/>
<circle cx="314.6" cy="423.8" r="1.8"/>
<circle cx="321.5" cy="420.8" r="1.8"/>
<circle cx="323.8" cy="422.3" r="1.8"/>
<circle cx="332.3" cy="420" r="1.8"/>
<circle cx="339.2" cy="420.3" r="1.8"/>
<circle cx="305.4" cy="425.4" r="1.8"/>
<circle cx="310" cy="427.7" r="1.8"/>
<circle cx="313.1" cy="429.5" r="1.8"/>
<circle cx="317.7" cy="427.7" r="1.8"/>
<circle cx="329.2" cy="424.3" r="1.8"/>
<circle cx="335.4" cy="425.4" r="1.8"/>
<circle cx="340.8" cy="425.4" r="1.8"/>
<circle cx="330" cy="428.5" r="1.8"/>
<circle cx="336.2" cy="428.5" r="1.8"/>
<circle cx="341.5" cy="428.5" r="1.8"/>
<circle cx="326.9" cy="433" r="1.8"/>
<circle cx="333.1" cy="432.3" r="1.8"/>
<circle cx="337.7" cy="432.3" r="1.8"/>
<circle cx="320.8" cy="433" r="1.8"/>
<circle cx="328.5" cy="435.4" r="1.8"/>
<circle cx="319.2" cy="437.2" r="1.8"/>
<circle cx="331.5" cy="439.2" r="1.8"/>
<circle cx="300" cy="406.2" r="1.8"/>
<circle cx="299.2" cy="418.8" r="1.8"/>
<circle cx="318.5" cy="436.9" r="1.8"/>
</g>
<g fill="#1414d8">
<circle cx="36" cy="435" r="1.8"/>
<circle cx="52.7" cy="428" r="1.8"/>
<circle cx="48.4" cy="431.5" r="1.8"/>
<circle cx="60.4" cy="430.8" r="1.8"/>
<circle cx="51.5" cy="438.2" r="1.8"/>
<circle cx="55.8" cy="441.2" r="1.8"/>
<circle cx="59.2" cy="439.7" r="1.8"/>
<circle cx="49.6" cy="444.6" r="1.8"/>
<circle cx="50.4" cy="446.2" r="1.8"/>
<circle cx="55" cy="445.8" r="1.8"/>
<circle cx="58" cy="446.5" r="1.8"/>
<circle cx="57" cy="450.8" r="1.8"/>
<circle cx="37.3" cy="451" r="1.8"/>
<circle cx="39.6" cy="452" r="1.8"/>
<circle cx="38.5" cy="454.6" r="1.8"/>
<circle cx="53.5" cy="458.8" r="1.8"/>
<circle cx="62.2" cy="459.7" r="1.8"/>
<circle cx="61.2" cy="465" r="1.8"/>
<circle cx="63.5" cy="466.2" r="1.8"/>
<circle cx="92.7" cy="453" r="1.8"/>
<circle cx="116.9" cy="423.8" r="1.8"/>
<circle cx="119.2" cy="426.5" r="1.8"/>
<circle cx="118.2" cy="435.7" r="1.8"/>
<circle cx="121.5" cy="439.2" r="1.8"/>
<circle cx="122.3" cy="441.5" r="1.8"/>
<circle cx="124.6" cy="443" r="1.8"/>
<circle cx="129.2" cy="437" r="1.8"/>
<circle cx="130.8" cy="439.7" r="1.8"/>
<circle cx="127.7" cy="445.4" r="1.8"/>
<circle cx="120" cy="445.4" r="1.8"/>
<circle cx="126.9" cy="449.2" r="1.8"/>
<circle cx="132.3" cy="444.6" r="1.8"/>
<circle cx="124.6" cy="453.8" r="1.8"/>
<circle cx="138.5" cy="437.7" r="1.8"/>
<circle cx="133.8" cy="450.8" r="1.8"/>
<circle cx="136.2" cy="450" r="1.8"/>
<circle cx="135.4" cy="453" r="1.8"/>
<circle cx="137.7" cy="450.8" r="1.8"/>
<circle cx="143" cy="452" r="1.8"/>
<circle cx="146.9" cy="449.2" r="1.8"/>
<circle cx="148.5" cy="453" r="1.8"/>
<circle cx="140.8" cy="461.5" r="1.8"/>
<circle cx="143.8" cy="460.8" r="1.8"/>
<circle cx="145.4" cy="465.4" r="1.8"/>
<circle cx="139.7" cy="467.7" r="1.8"/>
<circle cx="203.8" cy="437.7" r="1.8"/>
<circle cx="206.6" cy="444.6" r="1.8"/>
<circle cx="210.8" cy="446.2" r="1.8"/>
<circle cx="213.8" cy="443.8" r="1.8"/>
<circle cx="206.9" cy="449" r="1.8"/>
<circle cx="216.2" cy="450" r="1.8"/>
<circle cx="221.5" cy="449.2" r="1.8"/>
<circle cx="212.3" cy="453.8" r="1.8"/>
<circle cx="211.5" cy="455.4" r="1.8"/>
<circle cx="205.4" cy="456.2" r="1.8"/>
<circle cx="214.6" cy="458.2" r="1.8"/>
<circle cx="208.5" cy="459.2" r="1.8"/>
<circle cx="209.7" cy="461.2" r="1.8"/>
<circle cx="216.9" cy="463" r="1.8"/>
<circle cx="219.2" cy="464.6" r="1.8"/>
<circle cx="220" cy="466.5" r="1.8"/>
<circle cx="218.5" cy="472.3" r="1.8"/>
<circle cx="288.5" cy="434.6" r="1.8"/>
<circle cx="290" cy="434.2" r="1.8"/>
<circle cx="290.8" cy="440.8" r="1.8"/>
<circle cx="292.3" cy="443.8" r="1.8"/>
<circle cx="343.8" cy="441.2" r="1.8"/>
<circle cx="345.4" cy="443.4" r="1.8"/>
<circle cx="346.2" cy="445.8" r="1.8"/>
<circle cx="355.4" cy="443.8" r="1.8"/>
<circle cx="352.3" cy="449.5" r="1.8"/>
<circle cx="356.9" cy="450" r="1.8"/>
<circle cx="357.7" cy="453.1" r="1.8"/>
<circle cx="347.7" cy="455.7" r="1.8"/>
<circle cx="350" cy="458.5" r="1.8"/>
<circle cx="350.8" cy="460.8" r="1.8"/>
<circle cx="349.2" cy="462.8" r="1.8"/>
<circle cx="354.6" cy="461.8" r="1.8"/>
<circle cx="353.1" cy="465.4" r="1.8"/>
<circle cx="358.5" cy="474.6" r="1.8"/>
<circle cx="360" cy="475.4" r="1.8"/>
<circle cx="385" cy="444.2" r="1.8"/>
<circle cx="388.3" cy="453.5" r="1.8"/>
<circle cx="390.2" cy="453.8" r="1.8"/>
<circle cx="386.3" cy="457.7" r="1.8"/>
<circle cx="387.3" cy="466.3" r="1.8"/>
</g>
<g fill="#000000">
<circle cx="66.2" cy="475.7" r="1.8"/>
<circle cx="96.1" cy="469.5" r="1.8"/>
<circle cx="45" cy="487.7" r="1.8"/>
<circle cx="64.7" cy="492" r="1.8"/>
<circle cx="67.8" cy="496.9" r="1.8"/>
<circle cx="69.3" cy="504.6" r="1.8"/>
<circle cx="97.3" cy="492" r="1.8"/>
<circle cx="100.4" cy="493.8" r="1.8"/>
<circle cx="103.5" cy="496.9" r="1.8"/>
<circle cx="102.7" cy="504.3" r="1.8"/>
<circle cx="99.6" cy="516.2" r="1.8"/>
<circle cx="101.6" cy="517.2" r="1.8"/>
<circle cx="45.8" cy="537.4" r="1.8"/>
<circle cx="65.8" cy="551.8" r="1.8"/>
<circle cx="228.2" cy="473.5" r="1.8"/>
<circle cx="229.2" cy="482.1" r="1.8"/>
<circle cx="230.6" cy="495.6" r="1.8"/>
<circle cx="376.2" cy="475" r="1.8"/>
<circle cx="380.8" cy="486.9" r="1.8"/>
<circle cx="381.7" cy="491.5" r="1.8"/>
<circle cx="379.2" cy="496.2" r="1.8"/>
<circle cx="377.1" cy="508.5" r="1.8"/>
<circle cx="378.3" cy="531.5" r="1.8"/>
<circle cx="414.2" cy="472.1" r="1.8"/>
<circle cx="402.3" cy="476" r="1.8"/>
<circle cx="393" cy="481" r="1.8"/>
<circle cx="394" cy="482.9" r="1.8"/>
<circle cx="380.6" cy="486.7" r="1.8"/>
<circle cx="381.5" cy="491.5" r="1.8"/>
<circle cx="379.6" cy="496.3" r="1.8"/>
<circle cx="395" cy="490.6" r="1.8"/>
<circle cx="398.8" cy="490" r="1.8"/>
<circle cx="402.7" cy="491.5" r="1.8"/>
<circle cx="406.5" cy="493.1" r="1.8"/>
<circle cx="407.5" cy="495.4" r="1.8"/>
<circle cx="428.7" cy="489.6" r="1.8"/>
<circle cx="427.7" cy="491.9" r="1.8"/>
<circle cx="443.1" cy="491.5" r="1.8"/>
<circle cx="445" cy="496.3" r="1.8"/>
<circle cx="448.8" cy="495.8" r="1.8"/>
<circle cx="457.5" cy="498.3" r="1.8"/>
<circle cx="421.9" cy="493.8" r="1.8"/>
<circle cx="423.5" cy="496.3" r="1.8"/>
<circle cx="419" cy="496.9" r="1.8"/>
<circle cx="413.3" cy="497.7" r="1.8"/>
<circle cx="404.6" cy="500.2" r="1.8"/>
<circle cx="401.7" cy="502.1" r="1.8"/>
<circle cx="396" cy="505" r="1.8"/>
<circle cx="409.4" cy="503.5" r="1.8"/>
<circle cx="410.4" cy="505.4" r="1.8"/>
<circle cx="420" cy="500.8" r="1.8"/>
<circle cx="424.8" cy="500.8" r="1.8"/>
<circle cx="435.4" cy="499.2" r="1.8"/>
<circle cx="436.3" cy="502.7" r="1.8"/>
<circle cx="440.2" cy="502.7" r="1.8"/>
<circle cx="439.2" cy="504.6" r="1.8"/>
<circle cx="426.7" cy="505.4" r="1.8"/>
<circle cx="398.8" cy="510.8" r="1.8"/>
<circle cx="405.6" cy="510.4" r="1.8"/>
<circle cx="408.5" cy="510.8" r="1.8"/>
<circle cx="416.2" cy="510.4" r="1.8"/>
<circle cx="417.1" cy="511.7" r="1.8"/>
<circle cx="412.3" cy="513.7" r="1.8"/>
<circle cx="415.2" cy="514.6" r="1.8"/>
<circle cx="427.7" cy="509.8" r="1.8"/>
<circle cx="430.6" cy="508.8" r="1.8"/>
<circle cx="433.5" cy="508.8" r="1.8"/>
<circle cx="437.3" cy="508.5" r="1.8"/>
<circle cx="377.7" cy="508.5" r="1.8"/>
<circle cx="438.3" cy="515.6" r="1.8"/>
<circle cx="425.8" cy="516.9" r="1.8"/>
<circle cx="431.5" cy="516.9" r="1.8"/>
<circle cx="461.3" cy="514.2" r="1.8"/>
<circle cx="463.3" cy="518.1" r="1.8"/>
<circle cx="462.3" cy="520.4" r="1.8"/>
<circle cx="446" cy="521.9" r="1.8"/>
<circle cx="451.7" cy="525.2" r="1.8"/>
<circle cx="456.5" cy="524.6" r="1.8"/>
<circle cx="442.1" cy="526.2" r="1.8"/>
<circle cx="433.5" cy="527.1" r="1.8"/>
<circle cx="446.9" cy="532.3" r="1.8"/>
<circle cx="447.9" cy="533.5" r="1.8"/>
<circle cx="444" cy="537.7" r="1.8"/>
<circle cx="378.7" cy="531.5" r="1.8"/>
<circle cx="458.5" cy="549.2" r="1.8"/>
<circle cx="452.7" cy="552.7" r="1.8"/>
</g>
<text x="36.05" y="408.3" font-size="5" text-anchor="middle" fill="#444" stroke="#444" stroke-width="0.14">ICRH76</text>
<text x="34.55" y="565.6" font-size="5" text-anchor="middle" fill="#444" stroke="#444" stroke-width="0.14">Child</text>
<text x="57.8" y="408.3" font-size="5" text-anchor="middle" fill="#444" stroke="#444" stroke-width="0.14">ICRH80</text>
<text x="56.3" y="565.6" font-size="5" text-anchor="middle" fill="#444" stroke="#444" stroke-width="0.14">Child</text>
<text x="87.1" y="408.3" font-size="5" text-anchor="middle" fill="#444" stroke="#444" stroke-width="0.14">AAJF122</text>
<text x="86.8" y="565.6" font-size="5" text-anchor="middle" fill="#444" stroke="#444" stroke-width="0.14">Adult</text>
<text x="128.75" y="408.3" font-size="5" text-anchor="middle" fill="#444" stroke="#444" stroke-width="0.14">ABAF490</text>
<text x="128.45" y="565.6" font-size="5" text-anchor="middle" fill="#444" stroke="#444" stroke-width="0.14">Adult</text>
<text x="191.7" y="408.3" font-size="5" text-anchor="middle" fill="#444" stroke="#444" stroke-width="0.14">ACAP236</text>
<text x="191.4" y="565.6" font-size="5" text-anchor="middle" fill="#444" stroke="#444" stroke-width="0.14">Adult</text>
<text x="264.4" y="408.3" font-size="5" text-anchor="middle" fill="#444" stroke="#444" stroke-width="0.14">HP−15041</text>
<text x="264.1" y="565.6" font-size="5" text-anchor="middle" fill="#444" stroke="#444" stroke-width="0.14">T2D</text>
<text x="340.9" y="408.3" font-size="5" text-anchor="middle" fill="#444" stroke="#444" stroke-width="0.14">HP−15085</text>
<text x="340.6" y="565.6" font-size="5" text-anchor="middle" fill="#444" stroke="#444" stroke-width="0.14">T2D</text>
<text x="423.95" y="408.3" font-size="5" text-anchor="middle" fill="#444" stroke="#444" stroke-width="0.14">ACGI428</text>
<text x="423.65" y="565.6" font-size="5" text-anchor="middle" fill="#444" stroke="#444" stroke-width="0.14">T1D</text>
<line x1="25.5" y1="570.5" x2="463.8" y2="570.5" stroke="#999" stroke-width="0.8"/>
<line x1="25.3" y1="570.5" x2="25.3" y2="573.5" stroke="#555" stroke-width="0.6"/>
<text x="25.3" y="583.4" font-size="6.2" text-anchor="middle" fill="#333" stroke="#333" stroke-width="0.18">0</text>
<line x1="134.23" y1="570.5" x2="134.23" y2="573.5" stroke="#555" stroke-width="0.6"/>
<text x="134.23" y="583.4" font-size="6.2" text-anchor="middle" fill="#333" stroke="#333" stroke-width="0.18">100</text>
<line x1="243.16" y1="570.5" x2="243.16" y2="573.5" stroke="#555" stroke-width="0.6"/>
<text x="243.16" y="583.4" font-size="6.2" text-anchor="middle" fill="#333" stroke="#333" stroke-width="0.18">200</text>
<line x1="352.09" y1="570.5" x2="352.09" y2="573.5" stroke="#555" stroke-width="0.6"/>
<text x="352.09" y="583.4" font-size="6.2" text-anchor="middle" fill="#333" stroke="#333" stroke-width="0.18">300</text>
<line x1="461.02" y1="570.5" x2="461.02" y2="573.5" stroke="#555" stroke-width="0.6"/>
<text x="461.02" y="583.4" font-size="6.2" text-anchor="middle" fill="#333" stroke="#333" stroke-width="0.18">400</text>
<text x="245.5" y="594.2" font-size="9.3" text-anchor="middle" fill="#222" stroke="#222" stroke-width="0.28">Cells</text>
<text x="20.5" y="421.9" font-size="7.3" text-anchor="end" fill="#2a2a2a" stroke="#2a2a2a" stroke-width="0.18">10</text>
<text x="20.7" y="419.1" font-size="4.6" text-anchor="start" fill="#2a2a2a" stroke="#2a2a2a" stroke-width="0.14">6</text>
<text x="20.5" y="468.5" font-size="7.3" text-anchor="end" fill="#2a2a2a" stroke="#2a2a2a" stroke-width="0.18">10</text>
<text x="20.7" y="465.7" font-size="4.6" text-anchor="start" fill="#2a2a2a" stroke="#2a2a2a" stroke-width="0.14">4</text>
<text x="20.5" y="515.1" font-size="7.3" text-anchor="end" fill="#2a2a2a" stroke="#2a2a2a" stroke-width="0.18">10</text>
<text x="20.7" y="512.3" font-size="4.6" text-anchor="start" fill="#2a2a2a" stroke="#2a2a2a" stroke-width="0.14">2</text>
<text x="15.7" y="564.2" font-size="7.3" text-anchor="end" fill="#2a2a2a" stroke="#2a2a2a" stroke-width="0.18">1</text>
<text x="8.7" y="478.7" font-size="9.6" text-anchor="middle" fill="#222" stroke="#222" stroke-width="0.28" transform="rotate(-90 8.7 478.7)">Expression (cpm)</text>
<circle cx="138.1" cy="388" r="1.45" fill="#c41a2a"/>
<text x="143.7" y="390.2" font-size="6.2" text-anchor="start" fill="#222" stroke="#222" stroke-width="0.18">GCG</text>
<circle cx="169.78" cy="388" r="1.45" fill="#1c1ca0"/>
<text x="175.38" y="390.2" font-size="6.2" text-anchor="start" fill="#222" stroke="#222" stroke-width="0.18">INS</text>
<circle cx="201.46" cy="388" r="1.45" fill="#f2ae4a"/>
<text x="207.06" y="390.2" font-size="6.2" text-anchor="start" fill="#222" stroke="#222" stroke-width="0.18">SST</text>
<circle cx="233.14" cy="388" r="1.45" fill="#1a7a1a"/>
<text x="238.74" y="390.2" font-size="6.2" text-anchor="start" fill="#222" stroke="#222" stroke-width="0.18">GHRL</text>
<circle cx="264.82" cy="388" r="1.45" fill="#ea40ea"/>
<text x="270.42" y="390.2" font-size="6.2" text-anchor="start" fill="#222" stroke="#222" stroke-width="0.18">PPY</text>
<circle cx="296.5" cy="388" r="1.45" fill="#8b3030"/>
<text x="302.1" y="390.2" font-size="6.2" text-anchor="start" fill="#222" stroke="#222" stroke-width="0.18">PRSS1</text>
<circle cx="328.18" cy="388" r="1.45" fill="#000000"/>
<text x="333.78" y="390.2" font-size="6.2" text-anchor="start" fill="#222" stroke="#222" stroke-width="0.18">KRT19</text>
<line x1="476" y1="398" x2="476" y2="572.4" stroke="#555" stroke-width="0.9"/>
<ellipse cx="476" cy="419.4" rx="6" ry="5.2" fill="#ee0000"/>
<ellipse cx="476" cy="493.9" rx="3.1" ry="2.7" fill="#7f7fee"/>
<ellipse cx="476" cy="500.5" rx="3.1" ry="2.7" fill="#f3c070"/>
<ellipse cx="476" cy="513.5" rx="3.1" ry="2.7" fill="#e47ae4"/>
<ellipse cx="476" cy="522.8" rx="3.1" ry="2.7" fill="#a8c4a8"/>
<ellipse cx="476" cy="534.9" rx="3.1" ry="2.7" fill="#c89494"/>
<ellipse cx="476" cy="558.8" rx="3.1" ry="2.7" fill="#707070"/>
<text x="503" y="414.5" font-size="6.1" text-anchor="middle" fill="#222" stroke="#222" stroke-width="0.18">most highly</text>
<text x="503" y="422.2" font-size="6.1" text-anchor="middle" fill="#222" stroke="#222" stroke-width="0.18">expressed</text>
<text x="503" y="429.9" font-size="6.1" text-anchor="middle" fill="#222" stroke="#222" stroke-width="0.18">marker</text>
<path d="M487 491.6H490.5V561.7H487" fill="none" stroke="#222" stroke-width="0.9"/>
<text x="503.5" y="513.8" font-size="6.1" text-anchor="middle" fill="#222" stroke="#222" stroke-width="0.18">other</text>
<text x="503.5" y="521.8" font-size="6.1" text-anchor="middle" fill="#222" stroke="#222" stroke-width="0.18">markers</text>
<text x="0.8" y="602.4" font-size="15.5" text-anchor="start" font-weight="bold" fill="#111" stroke="#111" stroke-width="0.6">D</text>
<text x="75.2" y="607.1" font-size="9.6" text-anchor="start" fill="#222" stroke="#222" stroke-width="0.28">cells passed initial QC: 635</text>
<text x="8" y="651.2" font-size="9.3" text-anchor="start" fill="#222" stroke="#222" stroke-width="0.28">ambiguous cells: 205 (32%)</text>
<text x="96" y="666" font-size="9.3" text-anchor="start" fill="#222" stroke="#222" stroke-width="0.28">annotated cells: 430 (68%)</text>
<line x1="105.2" y1="610.8" x2="79.76" y2="635.4" stroke="#222" stroke-width="1.15"/>
<polygon points="74.8,640.2 77.69,632.54 82.55,637.57" fill="#222"/>
<line x1="153" y1="610.8" x2="153" y2="650.1" stroke="#222" stroke-width="1.15"/>
<polygon points="153,657 149.5,649.6 156.5,649.6" fill="#222"/>
<line x1="209.8" y1="657.8" x2="232.6" y2="646.63" stroke="#222" stroke-width="1.15"/>
<polygon points="238.8,643.6 233.69,650 230.61,643.71" fill="#222"/>
<line x1="209.8" y1="662.8" x2="232.18" y2="669.44" stroke="#222" stroke-width="1.15"/>
<polygon points="238.8,671.4 230.71,672.65 232.7,665.94" fill="#222"/>
<text x="291" y="641.8" font-size="9.4" text-anchor="middle" fill="#222" stroke="#222" stroke-width="0.28">endocrine cells: 328</text>
<text x="287.9" y="654.2" font-size="9.3" text-anchor="middle" fill="#222" stroke="#222" stroke-width="0.28">(76%)</text>
<text x="288.1" y="672.7" font-size="9.4" text-anchor="middle" fill="#222" stroke="#222" stroke-width="0.28">exocrine cells: 102</text>
<text x="287.9" y="685.4" font-size="9.3" text-anchor="middle" fill="#222" stroke="#222" stroke-width="0.28">(24%)</text>
<line x1="333" y1="631.2" x2="360.46" y2="609.98" stroke="#222" stroke-width="1.15"/>
<polygon points="365.6,606 362.14,612.97 357.98,607.59" fill="#222"/>
<line x1="333" y1="634.1" x2="361.12" y2="623.49" stroke="#222" stroke-width="1.15"/>
<polygon points="367.2,621.2 361.85,626.85 359.45,620.49" fill="#222"/>
<line x1="333" y1="638.5" x2="360.75" y2="634.93" stroke="#222" stroke-width="1.15"/>
<polygon points="367.2,634.1 360.69,638.37 359.82,631.62" fill="#222"/>
<line x1="333" y1="643.8" x2="360.73" y2="646.31" stroke="#222" stroke-width="1.15"/>
<polygon points="367.2,646.9 359.92,649.65 360.54,642.88" fill="#222"/>
<line x1="333" y1="670.4" x2="360.71" y2="669.02" stroke="#222" stroke-width="1.15"/>
<polygon points="367.2,668.7 360.38,672.44 360.04,665.65" fill="#222"/>
<line x1="333" y1="677.4" x2="360.83" y2="683.01" stroke="#222" stroke-width="1.15"/>
<polygon points="367.2,684.3 359.67,686.25 361.01,679.58" fill="#222"/>
<text x="376" y="604.1" font-size="9.45" text-anchor="start" fill="#222" stroke="#222" stroke-width="0.28">α-cells: 190 (58%)</text>
<text x="376" y="621.1" font-size="9.45" text-anchor="start" fill="#222" stroke="#222" stroke-width="0.28">β-cells: 111 (34%)</text>
<text x="376" y="638.1" font-size="9.45" text-anchor="start" fill="#222" stroke="#222" stroke-width="0.28">δ-cells: 9 (3%)</text>
<text x="376" y="655.1" font-size="9.45" text-anchor="start" fill="#222" stroke="#222" stroke-width="0.28">PP-cells: 18 (5%)</text>
<text x="376" y="672.6" font-size="9.45" text-anchor="start" fill="#222" stroke="#222" stroke-width="0.28">acinar cells: 6 (6%)</text>
<text x="376" y="689.6" font-size="9.45" text-anchor="start" fill="#222" stroke="#222" stroke-width="0.28">ductal cells: 96 (94%)</text>
</svg>
</body></html>
